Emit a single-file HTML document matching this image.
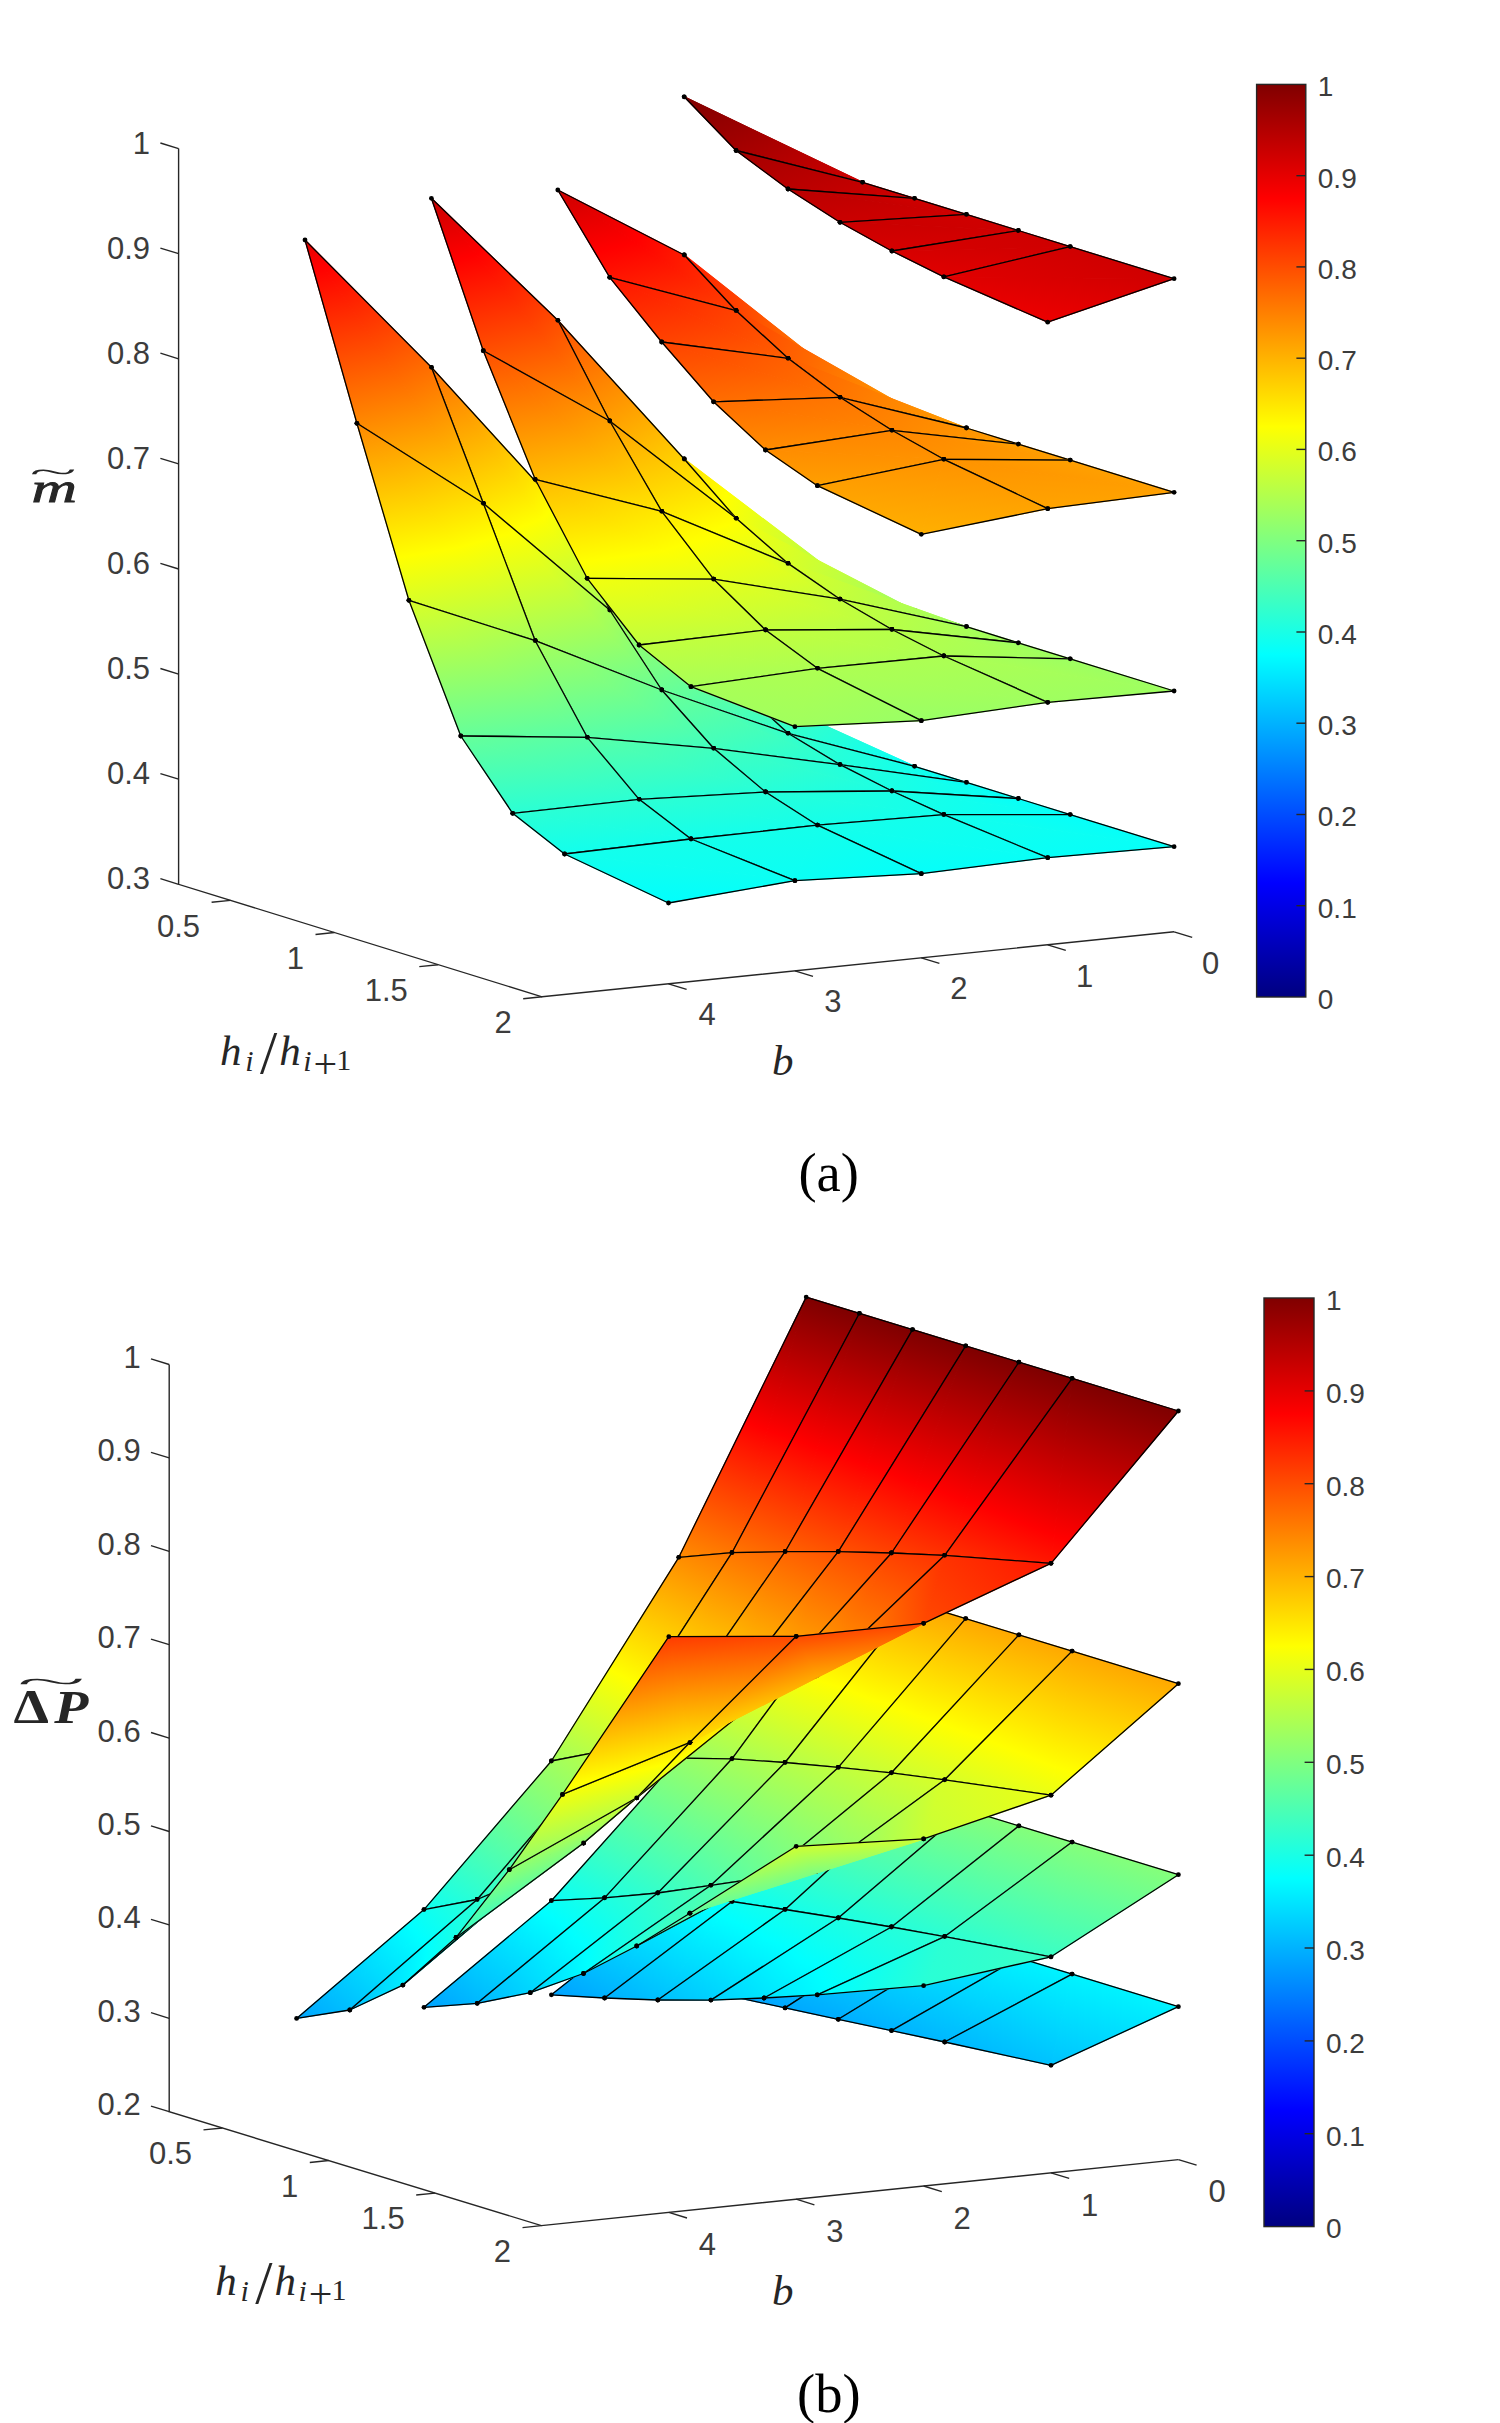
<!DOCTYPE html>
<html><head><meta charset="utf-8"><title>Figure</title>
<style>
html,body{margin:0;padding:0;background:#fff}
svg{display:block}
.tk{font-family:"Liberation Sans",sans-serif;font-size:31px;fill:#3c3c3c}
.cb{font-family:"Liberation Sans",sans-serif;font-size:28px;fill:#3c3c3c}
</style></head><body>
<svg width="1500" height="2423" viewBox="0 0 1500 2423">
<defs>
<linearGradient id="g1" gradientUnits="userSpaceOnUse" x1="807.36" y1="744.63" x2="831.47" y2="666.75"><stop offset="0.0000" stop-color="#00f1ff"/><stop offset="0.0940" stop-color="#00ffff"/><stop offset="1.0000" stop-color="#8aff75"/></linearGradient>
<linearGradient id="g2" gradientUnits="userSpaceOnUse" x1="904.71" y1="745.05" x2="637.49" y2="650.61"><stop offset="0.0000" stop-color="#00f1ff"/><stop offset="0.0940" stop-color="#00ffff"/><stop offset="1.0000" stop-color="#8aff75"/></linearGradient>
<linearGradient id="g3" gradientUnits="userSpaceOnUse" x1="860.57" y1="756.58" x2="871.73" y2="720.52"><stop offset="0.0000" stop-color="#00f1ff"/><stop offset="0.1229" stop-color="#00ffff"/><stop offset="1.0000" stop-color="#66ff99"/></linearGradient>
<linearGradient id="g4" gradientUnits="userSpaceOnUse" x1="872.44" y1="852.20" x2="721.62" y2="639.71"><stop offset="0.0000" stop-color="#00f1ff"/><stop offset="0.1229" stop-color="#00ffff"/><stop offset="1.0000" stop-color="#66ff99"/></linearGradient>
<linearGradient id="g5" gradientUnits="userSpaceOnUse" x1="915.24" y1="763.78" x2="911.94" y2="774.44"><stop offset="0.0000" stop-color="#00f1ff"/><stop offset="0.1671" stop-color="#00ffff"/><stop offset="1.0000" stop-color="#47ffb8"/></linearGradient>
<linearGradient id="g6" gradientUnits="userSpaceOnUse" x1="1022.85" y1="855.25" x2="711.46" y2="701.07"><stop offset="0.0000" stop-color="#00f1ff"/><stop offset="0.1671" stop-color="#00ffff"/><stop offset="1.0000" stop-color="#47ffb8"/></linearGradient>
<linearGradient id="g7" gradientUnits="userSpaceOnUse" x1="970.52" y1="769.01" x2="956.18" y2="815.35"><stop offset="0.0000" stop-color="#00f1ff"/><stop offset="0.2024" stop-color="#00ffff"/><stop offset="1.0000" stop-color="#38ffc7"/></linearGradient>
<linearGradient id="g8" gradientUnits="userSpaceOnUse" x1="1103.49" y1="895.99" x2="732.58" y2="711.94"><stop offset="0.0000" stop-color="#00f1ff"/><stop offset="0.2024" stop-color="#00ffff"/><stop offset="1.0000" stop-color="#38ffc7"/></linearGradient>
<linearGradient id="g9" gradientUnits="userSpaceOnUse" x1="1027.48" y1="768.82" x2="1000.18" y2="857.02"><stop offset="0.0000" stop-color="#00f1ff"/><stop offset="0.2355" stop-color="#00ffff"/><stop offset="1.0000" stop-color="#2effd1"/></linearGradient>
<linearGradient id="g10" gradientUnits="userSpaceOnUse" x1="1115.26" y1="981.01" x2="798.84" y2="674.04"><stop offset="0.0000" stop-color="#00f1ff"/><stop offset="0.2355" stop-color="#00ffff"/><stop offset="1.0000" stop-color="#2effd1"/></linearGradient>
<linearGradient id="g11" gradientUnits="userSpaceOnUse" x1="1088.38" y1="755.91" x2="1040.98" y2="909.03"><stop offset="0.0000" stop-color="#00f1ff"/><stop offset="0.2682" stop-color="#00ffff"/><stop offset="1.0000" stop-color="#27ffd8"/></linearGradient>
<linearGradient id="g12" gradientUnits="userSpaceOnUse" x1="1069.94" y1="983.88" x2="1016.85" y2="683.01"><stop offset="0.0000" stop-color="#00f1ff"/><stop offset="0.2682" stop-color="#00ffff"/><stop offset="1.0000" stop-color="#27ffd8"/></linearGradient>
<linearGradient id="g13" gradientUnits="userSpaceOnUse" x1="685.29" y1="631.57" x2="681.17" y2="635.51"><stop offset="0.0000" stop-color="#3dffc2"/><stop offset="0.9135" stop-color="#ffff00"/><stop offset="1.0000" stop-color="#ffed00"/></linearGradient>
<linearGradient id="g14" gradientUnits="userSpaceOnUse" x1="662.37" y1="744.13" x2="557.26" y2="476.32"><stop offset="0.0000" stop-color="#3dffc2"/><stop offset="0.9135" stop-color="#ffff00"/><stop offset="1.0000" stop-color="#ffed00"/></linearGradient>
<linearGradient id="g15" gradientUnits="userSpaceOnUse" x1="791.74" y1="667.89" x2="620.74" y2="721.94"><stop offset="0.0000" stop-color="#1effe1"/><stop offset="1.0000" stop-color="#bcff43"/></linearGradient>
<linearGradient id="g16" gradientUnits="userSpaceOnUse" x1="697.30" y1="795.90" x2="622.48" y2="573.65"><stop offset="0.0000" stop-color="#1effe1"/><stop offset="1.0000" stop-color="#bcff43"/></linearGradient>
<linearGradient id="g17" gradientUnits="userSpaceOnUse" x1="819.55" y1="705.16" x2="721.04" y2="793.16"><stop offset="0.0000" stop-color="#10ffef"/><stop offset="1.0000" stop-color="#7eff81"/></linearGradient>
<linearGradient id="g18" gradientUnits="userSpaceOnUse" x1="735.14" y1="828.75" x2="686.52" y2="647.38"><stop offset="0.0000" stop-color="#10ffef"/><stop offset="1.0000" stop-color="#7eff81"/></linearGradient>
<linearGradient id="g19" gradientUnits="userSpaceOnUse" x1="950.97" y1="721.78" x2="660.86" y2="833.96"><stop offset="0.0000" stop-color="#06fff9"/><stop offset="1.0000" stop-color="#55ffaa"/></linearGradient>
<linearGradient id="g20" gradientUnits="userSpaceOnUse" x1="777.41" y1="853.89" x2="747.96" y2="700.83"><stop offset="0.0000" stop-color="#06fff9"/><stop offset="1.0000" stop-color="#55ffaa"/></linearGradient>
<linearGradient id="g21" gradientUnits="userSpaceOnUse" x1="1018.51" y1="938.71" x2="745.95" y2="620.73"><stop offset="0.0000" stop-color="#00fdff"/><stop offset="0.0303" stop-color="#00ffff"/><stop offset="1.0000" stop-color="#3affc5"/></linearGradient>
<linearGradient id="g22" gradientUnits="userSpaceOnUse" x1="824.39" y1="879.11" x2="806.13" y2="737.77"><stop offset="0.0000" stop-color="#00fdff"/><stop offset="0.0303" stop-color="#00ffff"/><stop offset="1.0000" stop-color="#3affc5"/></linearGradient>
<linearGradient id="g23" gradientUnits="userSpaceOnUse" x1="979.66" y1="994.62" x2="917.38" y2="681.92"><stop offset="0.0000" stop-color="#00f3ff"/><stop offset="0.2296" stop-color="#00ffff"/><stop offset="1.0000" stop-color="#29ffd6"/></linearGradient>
<linearGradient id="g24" gradientUnits="userSpaceOnUse" x1="924.63" y1="942.41" x2="915.31" y2="751.55"><stop offset="0.0000" stop-color="#00f0ff"/><stop offset="0.2692" stop-color="#00ffff"/><stop offset="1.0000" stop-color="#29ffd6"/></linearGradient>
<linearGradient id="g25" gradientUnits="userSpaceOnUse" x1="657.14" y1="596.47" x2="400.72" y2="362.50"><stop offset="0.0000" stop-color="#93ff6c"/><stop offset="0.3949" stop-color="#ffff00"/><stop offset="1.0000" stop-color="#ff5a00"/></linearGradient>
<linearGradient id="g26" gradientUnits="userSpaceOnUse" x1="545.32" y1="662.47" x2="421.23" y2="343.88"><stop offset="0.0000" stop-color="#93ff6c"/><stop offset="0.3949" stop-color="#ffff00"/><stop offset="1.0000" stop-color="#ff5a00"/></linearGradient>
<linearGradient id="g27" gradientUnits="userSpaceOnUse" x1="706.39" y1="675.42" x2="449.59" y2="501.62"><stop offset="0.0000" stop-color="#55ffaa"/><stop offset="0.7761" stop-color="#ffff00"/><stop offset="1.0000" stop-color="#ffce00"/></linearGradient>
<linearGradient id="g28" gradientUnits="userSpaceOnUse" x1="556.03" y1="738.23" x2="499.74" y2="474.08"><stop offset="0.0000" stop-color="#55ffaa"/><stop offset="0.7761" stop-color="#ffff00"/><stop offset="1.0000" stop-color="#ffce00"/></linearGradient>
<linearGradient id="g29" gradientUnits="userSpaceOnUse" x1="730.76" y1="783.71" x2="570.60" y2="566.54"><stop offset="0.0000" stop-color="#2cffd3"/><stop offset="1.0000" stop-color="#baff45"/></linearGradient>
<linearGradient id="g30" gradientUnits="userSpaceOnUse" x1="596.35" y1="794.49" x2="566.48" y2="608.30"><stop offset="0.0000" stop-color="#2cffd3"/><stop offset="1.0000" stop-color="#baff45"/></linearGradient>
<linearGradient id="g31" gradientUnits="userSpaceOnUse" x1="745.64" y1="844.95" x2="683.90" y2="658.85"><stop offset="0.0000" stop-color="#11ffee"/><stop offset="1.0000" stop-color="#6cff93"/></linearGradient>
<linearGradient id="g32" gradientUnits="userSpaceOnUse" x1="644.00" y1="838.54" x2="626.81" y2="701.00"><stop offset="0.0000" stop-color="#11ffee"/><stop offset="1.0000" stop-color="#6cff93"/></linearGradient>
<linearGradient id="g33" gradientUnits="userSpaceOnUse" x1="780.78" y1="882.83" x2="754.80" y2="728.37"><stop offset="0.0000" stop-color="#01fffe"/><stop offset="1.0000" stop-color="#40ffbf"/></linearGradient>
<linearGradient id="g34" gradientUnits="userSpaceOnUse" x1="694.86" y1="878.44" x2="682.88" y2="755.23"><stop offset="0.0000" stop-color="#00ffff"/><stop offset="0.0026" stop-color="#00ffff"/><stop offset="1.0000" stop-color="#40ffbf"/></linearGradient>
<linearGradient id="g35" gradientUnits="userSpaceOnUse" x1="703.07" y1="996.93" x2="682.43" y2="726.28"><stop offset="0.0000" stop-color="#00f6ff"/><stop offset="0.1855" stop-color="#00ffff"/><stop offset="1.0000" stop-color="#29ffd6"/></linearGradient>
<linearGradient id="g36" gradientUnits="userSpaceOnUse" x1="947.27" y1="966.25" x2="875.06" y2="709.16"><stop offset="0.0000" stop-color="#00f0ff"/><stop offset="0.2692" stop-color="#00ffff"/><stop offset="1.0000" stop-color="#29ffd6"/></linearGradient>
<linearGradient id="g37" gradientUnits="userSpaceOnUse" x1="505.72" y1="520.70" x2="346.34" y2="191.73"><stop offset="0.0000" stop-color="#fff700"/><stop offset="0.8412" stop-color="#ff0000"/><stop offset="1.0000" stop-color="#d00000"/></linearGradient>
<linearGradient id="g38" gradientUnits="userSpaceOnUse" x1="385.39" y1="549.84" x2="309.92" y2="214.38"><stop offset="0.0000" stop-color="#fff700"/><stop offset="0.8412" stop-color="#ff0000"/><stop offset="1.0000" stop-color="#d00000"/></linearGradient>
<linearGradient id="g39" gradientUnits="userSpaceOnUse" x1="531.55" y1="668.22" x2="444.70" y2="371.20"><stop offset="0.0000" stop-color="#91ff6e"/><stop offset="0.4402" stop-color="#ffff00"/><stop offset="1.0000" stop-color="#ff7400"/></linearGradient>
<linearGradient id="g40" gradientUnits="userSpaceOnUse" x1="422.88" y1="683.83" x2="374.55" y2="396.08"><stop offset="0.0000" stop-color="#91ff6e"/><stop offset="0.4402" stop-color="#ffff00"/><stop offset="1.0000" stop-color="#ff7400"/></linearGradient>
<linearGradient id="g41" gradientUnits="userSpaceOnUse" x1="568.71" y1="770.75" x2="510.73" y2="545.39"><stop offset="0.0000" stop-color="#43ffbc"/><stop offset="1.0000" stop-color="#eeff11"/></linearGradient>
<linearGradient id="g42" gradientUnits="userSpaceOnUse" x1="465.91" y1="777.33" x2="440.34" y2="571.41"><stop offset="0.0000" stop-color="#43ffbc"/><stop offset="1.0000" stop-color="#eeff11"/></linearGradient>
<linearGradient id="g43" gradientUnits="userSpaceOnUse" x1="603.52" y1="837.37" x2="578.55" y2="684.50"><stop offset="0.0000" stop-color="#17ffe8"/><stop offset="1.0000" stop-color="#7aff85"/></linearGradient>
<linearGradient id="g44" gradientUnits="userSpaceOnUse" x1="515.51" y1="841.34" x2="501.72" y2="703.58"><stop offset="0.0000" stop-color="#16ffe9"/><stop offset="1.0000" stop-color="#7aff85"/></linearGradient>
<linearGradient id="g45" gradientUnits="userSpaceOnUse" x1="647.11" y1="882.96" x2="635.33" y2="759.91"><stop offset="0.0000" stop-color="#00ffff"/><stop offset="0.0026" stop-color="#00ffff"/><stop offset="1.0000" stop-color="#40ffbf"/></linearGradient>
<linearGradient id="g46" gradientUnits="userSpaceOnUse" x1="568.06" y1="892.40" x2="557.16" y2="770.61"><stop offset="0.0000" stop-color="#00fdff"/><stop offset="0.0326" stop-color="#00ffff"/><stop offset="1.0000" stop-color="#3fffc0"/></linearGradient>
<linearGradient id="g47" gradientUnits="userSpaceOnUse" x1="697.26" y1="986.28" x2="686.74" y2="737.73"><stop offset="0.0000" stop-color="#00f6ff"/><stop offset="0.1884" stop-color="#00ffff"/><stop offset="1.0000" stop-color="#29ffd6"/></linearGradient>
<linearGradient id="g48" gradientUnits="userSpaceOnUse" x1="666.98" y1="960.74" x2="671.16" y2="798.97"><stop offset="0.0000" stop-color="#00edff"/><stop offset="0.3230" stop-color="#00ffff"/><stop offset="1.0000" stop-color="#27ffd8"/></linearGradient>
<linearGradient id="g49" gradientUnits="userSpaceOnUse" x1="807.00" y1="590.11" x2="836.90" y2="493.52"><stop offset="0.0000" stop-color="#89ff76"/><stop offset="0.6978" stop-color="#ffff00"/><stop offset="1.0000" stop-color="#ffcc00"/></linearGradient>
<linearGradient id="g50" gradientUnits="userSpaceOnUse" x1="902.69" y1="587.49" x2="639.08" y2="477.99"><stop offset="0.0000" stop-color="#89ff76"/><stop offset="0.6978" stop-color="#ffff00"/><stop offset="1.0000" stop-color="#ffcc00"/></linearGradient>
<linearGradient id="g51" gradientUnits="userSpaceOnUse" x1="860.06" y1="602.53" x2="875.48" y2="552.70"><stop offset="0.0000" stop-color="#89ff76"/><stop offset="0.9275" stop-color="#ffff00"/><stop offset="1.0000" stop-color="#fff600"/></linearGradient>
<linearGradient id="g52" gradientUnits="userSpaceOnUse" x1="956.86" y1="631.35" x2="684.07" y2="521.54"><stop offset="0.0000" stop-color="#89ff76"/><stop offset="0.9275" stop-color="#ffff00"/><stop offset="1.0000" stop-color="#fff600"/></linearGradient>
<linearGradient id="g53" gradientUnits="userSpaceOnUse" x1="913.65" y1="613.20" x2="917.53" y2="600.66"><stop offset="0.0000" stop-color="#89ff76"/><stop offset="1.0000" stop-color="#ecff13"/></linearGradient>
<linearGradient id="g54" gradientUnits="userSpaceOnUse" x1="1017.17" y1="675.41" x2="722.62" y2="548.73"><stop offset="0.0000" stop-color="#89ff76"/><stop offset="1.0000" stop-color="#ecff13"/></linearGradient>
<linearGradient id="g55" gradientUnits="userSpaceOnUse" x1="968.08" y1="621.19" x2="961.38" y2="642.82"><stop offset="0.0000" stop-color="#89ff76"/><stop offset="1.0000" stop-color="#d9ff26"/></linearGradient>
<linearGradient id="g56" gradientUnits="userSpaceOnUse" x1="1053.87" y1="745.18" x2="771.20" y2="543.30"><stop offset="0.0000" stop-color="#89ff76"/><stop offset="1.0000" stop-color="#d9ff26"/></linearGradient>
<linearGradient id="g57" gradientUnits="userSpaceOnUse" x1="1024.14" y1="623.90" x2="1005.15" y2="685.25"><stop offset="0.0000" stop-color="#89ff76"/><stop offset="1.0000" stop-color="#cbff34"/></linearGradient>
<linearGradient id="g58" gradientUnits="userSpaceOnUse" x1="1059.86" y1="803.07" x2="844.87" y2="530.57"><stop offset="0.0000" stop-color="#89ff76"/><stop offset="1.0000" stop-color="#cbff34"/></linearGradient>
<linearGradient id="g59" gradientUnits="userSpaceOnUse" x1="1083.82" y1="614.94" x2="1046.38" y2="735.87"><stop offset="0.0000" stop-color="#89ff76"/><stop offset="1.0000" stop-color="#c1ff3e"/></linearGradient>
<linearGradient id="g60" gradientUnits="userSpaceOnUse" x1="1062.02" y1="799.20" x2="1025.47" y2="552.30"><stop offset="0.0000" stop-color="#89ff76"/><stop offset="1.0000" stop-color="#c1ff3e"/></linearGradient>
<linearGradient id="g61" gradientUnits="userSpaceOnUse" x1="688.02" y1="455.93" x2="673.94" y2="467.25"><stop offset="0.0000" stop-color="#dfff20"/><stop offset="0.1372" stop-color="#ffff00"/><stop offset="1.0000" stop-color="#ff3900"/></linearGradient>
<linearGradient id="g62" gradientUnits="userSpaceOnUse" x1="697.63" y1="573.03" x2="539.01" y2="298.69"><stop offset="0.0000" stop-color="#dfff20"/><stop offset="0.1372" stop-color="#ffff00"/><stop offset="1.0000" stop-color="#ff3900"/></linearGradient>
<linearGradient id="g63" gradientUnits="userSpaceOnUse" x1="744.00" y1="510.76" x2="715.47" y2="538.08"><stop offset="0.0000" stop-color="#c3ff3c"/><stop offset="0.3393" stop-color="#ffff00"/><stop offset="1.0000" stop-color="#ff8b00"/></linearGradient>
<linearGradient id="g64" gradientUnits="userSpaceOnUse" x1="699.30" y1="623.64" x2="620.01" y2="387.05"><stop offset="0.0000" stop-color="#c3ff3c"/><stop offset="0.3393" stop-color="#ffff00"/><stop offset="1.0000" stop-color="#ff8b00"/></linearGradient>
<linearGradient id="g65" gradientUnits="userSpaceOnUse" x1="826.94" y1="536.93" x2="705.86" y2="619.36"><stop offset="0.0000" stop-color="#b0ff4f"/><stop offset="0.6406" stop-color="#ffff00"/><stop offset="1.0000" stop-color="#ffd300"/></linearGradient>
<linearGradient id="g66" gradientUnits="userSpaceOnUse" x1="733.32" y1="658.53" x2="686.94" y2="472.22"><stop offset="0.0000" stop-color="#b0ff4f"/><stop offset="0.6406" stop-color="#ffff00"/><stop offset="1.0000" stop-color="#ffd300"/></linearGradient>
<linearGradient id="g67" gradientUnits="userSpaceOnUse" x1="975.60" y1="615.22" x2="632.10" y2="574.64"><stop offset="0.0000" stop-color="#a2ff5d"/><stop offset="1.0000" stop-color="#f9ff06"/></linearGradient>
<linearGradient id="g68" gradientUnits="userSpaceOnUse" x1="775.28" y1="686.07" x2="749.23" y2="536.75"><stop offset="0.0000" stop-color="#a2ff5d"/><stop offset="1.0000" stop-color="#f9ff06"/></linearGradient>
<linearGradient id="g69" gradientUnits="userSpaceOnUse" x1="955.64" y1="756.17" x2="823.95" y2="494.47"><stop offset="0.0000" stop-color="#98ff67"/><stop offset="1.0000" stop-color="#d7ff28"/></linearGradient>
<linearGradient id="g70" gradientUnits="userSpaceOnUse" x1="822.02" y1="710.73" x2="808.28" y2="583.83"><stop offset="0.0000" stop-color="#98ff67"/><stop offset="1.0000" stop-color="#d7ff28"/></linearGradient>
<linearGradient id="g71" gradientUnits="userSpaceOnUse" x1="961.16" y1="800.05" x2="933.12" y2="567.04"><stop offset="0.0000" stop-color="#8aff75"/><stop offset="1.0000" stop-color="#c2ff3d"/></linearGradient>
<linearGradient id="g72" gradientUnits="userSpaceOnUse" x1="922.93" y1="778.14" x2="918.04" y2="607.92"><stop offset="0.0000" stop-color="#85ff7a"/><stop offset="1.0000" stop-color="#c2ff3d"/></linearGradient>
<linearGradient id="g73" gradientUnits="userSpaceOnUse" x1="648.75" y1="422.84" x2="423.48" y2="168.87"><stop offset="0.0000" stop-color="#ffb400"/><stop offset="0.7069" stop-color="#ff0000"/><stop offset="1.0000" stop-color="#b50000"/></linearGradient>
<linearGradient id="g74" gradientUnits="userSpaceOnUse" x1="512.08" y1="469.97" x2="439.96" y2="170.81"><stop offset="0.0000" stop-color="#ffb400"/><stop offset="0.7069" stop-color="#ff0000"/><stop offset="1.0000" stop-color="#b50000"/></linearGradient>
<linearGradient id="g75" gradientUnits="userSpaceOnUse" x1="664.90" y1="542.09" x2="549.29" y2="288.37"><stop offset="0.0000" stop-color="#fffc00"/><stop offset="1.0000" stop-color="#ff3a00"/></linearGradient>
<linearGradient id="g76" gradientUnits="userSpaceOnUse" x1="549.67" y1="557.70" x2="506.08" y2="320.71"><stop offset="0.0000" stop-color="#fffc00"/><stop offset="1.0000" stop-color="#ff3a00"/></linearGradient>
<linearGradient id="g77" gradientUnits="userSpaceOnUse" x1="697.39" y1="619.09" x2="629.26" y2="413.61"><stop offset="0.0000" stop-color="#d0ff2f"/><stop offset="0.3476" stop-color="#ffff00"/><stop offset="1.0000" stop-color="#ffa700"/></linearGradient>
<linearGradient id="g78" gradientUnits="userSpaceOnUse" x1="593.02" y1="622.13" x2="569.78" y2="447.85"><stop offset="0.0000" stop-color="#d0ff2f"/><stop offset="0.3476" stop-color="#ffff00"/><stop offset="1.0000" stop-color="#ffa700"/></linearGradient>
<linearGradient id="g79" gradientUnits="userSpaceOnUse" x1="730.82" y1="672.92" x2="702.77" y2="520.49"><stop offset="0.0000" stop-color="#aeff51"/><stop offset="0.9154" stop-color="#ffff00"/><stop offset="1.0000" stop-color="#fff800"/></linearGradient>
<linearGradient id="g80" gradientUnits="userSpaceOnUse" x1="641.94" y1="674.50" x2="629.42" y2="544.46"><stop offset="0.0000" stop-color="#adff52"/><stop offset="0.9172" stop-color="#ffff00"/><stop offset="1.0000" stop-color="#fff800"/></linearGradient>
<linearGradient id="g81" gradientUnits="userSpaceOnUse" x1="772.80" y1="712.79" x2="761.95" y2="589.76"><stop offset="0.0000" stop-color="#99ff66"/><stop offset="1.0000" stop-color="#d7ff28"/></linearGradient>
<linearGradient id="g82" gradientUnits="userSpaceOnUse" x1="693.62" y1="723.71" x2="685.28" y2="604.58"><stop offset="0.0000" stop-color="#94ff6b"/><stop offset="1.0000" stop-color="#d5ff2a"/></linearGradient>
<linearGradient id="g83" gradientUnits="userSpaceOnUse" x1="685.07" y1="815.94" x2="696.47" y2="568.43"><stop offset="0.0000" stop-color="#8cff73"/><stop offset="1.0000" stop-color="#c2ff3d"/></linearGradient>
<linearGradient id="g84" gradientUnits="userSpaceOnUse" x1="941.95" y1="798.31" x2="880.68" y2="568.33"><stop offset="0.0000" stop-color="#85ff7a"/><stop offset="1.0000" stop-color="#c2ff3d"/></linearGradient>
<linearGradient id="g85" gradientUnits="userSpaceOnUse" x1="806.91" y1="391.70" x2="838.49" y2="289.70"><stop offset="0.0000" stop-color="#ffb400"/><stop offset="1.0000" stop-color="#ff0600"/></linearGradient>
<linearGradient id="g86" gradientUnits="userSpaceOnUse" x1="884.99" y1="304.45" x2="660.37" y2="313.88"><stop offset="0.0000" stop-color="#ffb400"/><stop offset="1.0000" stop-color="#ff0600"/></linearGradient>
<linearGradient id="g87" gradientUnits="userSpaceOnUse" x1="859.74" y1="404.84" x2="878.31" y2="344.86"><stop offset="0.0000" stop-color="#ffb400"/><stop offset="1.0000" stop-color="#ff2c00"/></linearGradient>
<linearGradient id="g88" gradientUnits="userSpaceOnUse" x1="957.97" y1="418.57" x2="686.18" y2="322.17"><stop offset="0.0000" stop-color="#ffb400"/><stop offset="1.0000" stop-color="#ff2c00"/></linearGradient>
<linearGradient id="g89" gradientUnits="userSpaceOnUse" x1="913.16" y1="416.10" x2="919.84" y2="394.53"><stop offset="0.0000" stop-color="#ffb400"/><stop offset="1.0000" stop-color="#ff4b00"/></linearGradient>
<linearGradient id="g90" gradientUnits="userSpaceOnUse" x1="994.67" y1="494.49" x2="734.93" y2="331.30"><stop offset="0.0000" stop-color="#ffb400"/><stop offset="1.0000" stop-color="#ff4b00"/></linearGradient>
<linearGradient id="g91" gradientUnits="userSpaceOnUse" x1="967.52" y1="424.30" x2="962.85" y2="439.39"><stop offset="0.0000" stop-color="#ffb400"/><stop offset="1.0000" stop-color="#ff6100"/></linearGradient>
<linearGradient id="g92" gradientUnits="userSpaceOnUse" x1="1001.07" y1="556.02" x2="805.23" y2="330.49"><stop offset="0.0000" stop-color="#ffb400"/><stop offset="1.0000" stop-color="#ff6100"/></linearGradient>
<linearGradient id="g93" gradientUnits="userSpaceOnUse" x1="1023.92" y1="425.91" x2="1005.51" y2="485.38"><stop offset="0.0000" stop-color="#ffb400"/><stop offset="1.0000" stop-color="#ff7200"/></linearGradient>
<linearGradient id="g94" gradientUnits="userSpaceOnUse" x1="993.71" y1="576.07" x2="895.27" y2="345.63"><stop offset="0.0000" stop-color="#ffb400"/><stop offset="1.0000" stop-color="#ff7200"/></linearGradient>
<linearGradient id="g95" gradientUnits="userSpaceOnUse" x1="1086.64" y1="407.13" x2="1043.00" y2="548.10"><stop offset="0.0000" stop-color="#ffb400"/><stop offset="1.0000" stop-color="#ff7e00"/></linearGradient>
<linearGradient id="g96" gradientUnits="userSpaceOnUse" x1="1050.66" y1="574.50" x2="1042.24" y2="388.90"><stop offset="0.0000" stop-color="#ffb800"/><stop offset="1.0000" stop-color="#ff7e00"/></linearGradient>
<linearGradient id="g97" gradientUnits="userSpaceOnUse" x1="781.34" y1="307.63" x2="525.59" y2="169.06"><stop offset="0.0000" stop-color="#ff5500"/><stop offset="0.5491" stop-color="#ff0000"/><stop offset="1.0000" stop-color="#b90000"/></linearGradient>
<linearGradient id="g98" gradientUnits="userSpaceOnUse" x1="632.38" y1="366.65" x2="578.73" y2="155.04"><stop offset="0.0000" stop-color="#ff5500"/><stop offset="0.5491" stop-color="#ff0000"/><stop offset="1.0000" stop-color="#b90000"/></linearGradient>
<linearGradient id="g99" gradientUnits="userSpaceOnUse" x1="804.24" y1="403.56" x2="648.72" y2="191.56"><stop offset="0.0000" stop-color="#ff7400"/><stop offset="0.9936" stop-color="#ff0000"/><stop offset="1.0000" stop-color="#fe0000"/></linearGradient>
<linearGradient id="g100" gradientUnits="userSpaceOnUse" x1="679.65" y1="417.48" x2="636.73" y2="237.53"><stop offset="0.0000" stop-color="#ff7400"/><stop offset="0.9936" stop-color="#ff0000"/><stop offset="1.0000" stop-color="#fe0000"/></linearGradient>
<linearGradient id="g101" gradientUnits="userSpaceOnUse" x1="843.57" y1="457.66" x2="724.48" y2="244.53"><stop offset="0.0000" stop-color="#ff8a00"/><stop offset="1.0000" stop-color="#ff2e00"/></linearGradient>
<linearGradient id="g102" gradientUnits="userSpaceOnUse" x1="719.73" y1="446.18" x2="700.08" y2="304.46"><stop offset="0.0000" stop-color="#ff8a00"/><stop offset="1.0000" stop-color="#ff2e00"/></linearGradient>
<linearGradient id="g103" gradientUnits="userSpaceOnUse" x1="859.78" y1="491.58" x2="824.57" y2="323.96"><stop offset="0.0000" stop-color="#ff9a00"/><stop offset="1.0000" stop-color="#ff5900"/></linearGradient>
<linearGradient id="g104" gradientUnits="userSpaceOnUse" x1="767.87" y1="483.76" x2="759.50" y2="364.64"><stop offset="0.0000" stop-color="#ffa100"/><stop offset="1.0000" stop-color="#ff5900"/></linearGradient>
<linearGradient id="g105" gradientUnits="userSpaceOnUse" x1="894.34" y1="510.54" x2="890.39" y2="380.61"><stop offset="0.0000" stop-color="#ffa700"/><stop offset="1.0000" stop-color="#ff7200"/></linearGradient>
<linearGradient id="g106" gradientUnits="userSpaceOnUse" x1="817.91" y1="524.63" x2="816.48" y2="410.43"><stop offset="0.0000" stop-color="#ffb400"/><stop offset="1.0000" stop-color="#ff7800"/></linearGradient>
<linearGradient id="g107" gradientUnits="userSpaceOnUse" x1="811.45" y1="581.24" x2="822.91" y2="397.94"><stop offset="0.0000" stop-color="#ffc400"/><stop offset="1.0000" stop-color="#ff7e00"/></linearGradient>
<linearGradient id="g108" gradientUnits="userSpaceOnUse" x1="1043.24" y1="594.26" x2="1052.72" y2="411.31"><stop offset="0.0000" stop-color="#ffc400"/><stop offset="1.0000" stop-color="#ff7e00"/></linearGradient>
<linearGradient id="g109" gradientUnits="userSpaceOnUse" x1="808.42" y1="173.22" x2="819.16" y2="138.51"><stop offset="0.0000" stop-color="#e40000"/><stop offset="1.0000" stop-color="#800000"/></linearGradient>
<linearGradient id="g110" gradientUnits="userSpaceOnUse" x1="791.50" y1="261.95" x2="704.28" y2="86.40"><stop offset="0.0000" stop-color="#e40000"/><stop offset="1.0000" stop-color="#800000"/></linearGradient>
<linearGradient id="g111" gradientUnits="userSpaceOnUse" x1="863.50" y1="179.09" x2="859.46" y2="192.15"><stop offset="0.0000" stop-color="#e40000"/><stop offset="1.0000" stop-color="#900000"/></linearGradient>
<linearGradient id="g112" gradientUnits="userSpaceOnUse" x1="826.30" y1="287.53" x2="749.71" y2="90.24"><stop offset="0.0000" stop-color="#e40000"/><stop offset="1.0000" stop-color="#900000"/></linearGradient>
<linearGradient id="g113" gradientUnits="userSpaceOnUse" x1="922.38" y1="172.72" x2="898.10" y2="251.13"><stop offset="0.0000" stop-color="#e40000"/><stop offset="1.0000" stop-color="#a60000"/></linearGradient>
<linearGradient id="g114" gradientUnits="userSpaceOnUse" x1="849.82" y1="283.82" x2="825.57" y2="132.23"><stop offset="0.0000" stop-color="#e40000"/><stop offset="1.0000" stop-color="#a60000"/></linearGradient>
<linearGradient id="g115" gradientUnits="userSpaceOnUse" x1="1021.14" y1="37.51" x2="898.33" y2="434.21"><stop offset="0.0000" stop-color="#e40000"/><stop offset="1.0000" stop-color="#b60000"/></linearGradient>
<linearGradient id="g116" gradientUnits="userSpaceOnUse" x1="892.98" y1="300.64" x2="890.17" y2="171.55"><stop offset="0.0000" stop-color="#eb0000"/><stop offset="1.0000" stop-color="#b60000"/></linearGradient>
<linearGradient id="g117" gradientUnits="userSpaceOnUse" x1="954.37" y1="436.98" x2="1065.38" y2="78.41"><stop offset="0.0000" stop-color="#eb0000"/><stop offset="1.0000" stop-color="#bb0000"/></linearGradient>
<linearGradient id="g118" gradientUnits="userSpaceOnUse" x1="940.45" y1="324.36" x2="949.97" y2="190.22"><stop offset="0.0000" stop-color="#f50000"/><stop offset="1.0000" stop-color="#bb0000"/></linearGradient>
<linearGradient id="g119" gradientUnits="userSpaceOnUse" x1="1026.74" y1="387.01" x2="1094.11" y2="169.40"><stop offset="0.0000" stop-color="#f50000"/><stop offset="1.0000" stop-color="#bb0000"/></linearGradient>
<linearGradient id="g120" gradientUnits="userSpaceOnUse" x1="1040.44" y1="365.51" x2="1065.40" y2="216.04"><stop offset="0.0000" stop-color="#ff0300"/><stop offset="0.0375" stop-color="#ff0000"/><stop offset="1.0000" stop-color="#bb0000"/></linearGradient>
<linearGradient id="g121" gradientUnits="userSpaceOnUse" x1="667.80" y1="2014.14" x2="736.39" y2="1833.13"><stop offset="0.0000" stop-color="#0089ff"/><stop offset="0.9300" stop-color="#00ffff"/><stop offset="1.0000" stop-color="#09fff6"/></linearGradient>
<linearGradient id="g122" gradientUnits="userSpaceOnUse" x1="815.11" y1="2053.67" x2="868.28" y2="1879.95"><stop offset="0.0000" stop-color="#008eff"/><stop offset="0.9269" stop-color="#00ffff"/><stop offset="1.0000" stop-color="#09fff6"/></linearGradient>
<linearGradient id="g123" gradientUnits="userSpaceOnUse" x1="720.59" y1="2026.29" x2="788.54" y2="1847.85"><stop offset="0.0000" stop-color="#008eff"/><stop offset="0.9269" stop-color="#00ffff"/><stop offset="1.0000" stop-color="#09fff6"/></linearGradient>
<linearGradient id="g124" gradientUnits="userSpaceOnUse" x1="869.37" y1="2066.41" x2="921.71" y2="1895.40"><stop offset="0.0000" stop-color="#0093ff"/><stop offset="0.9236" stop-color="#00ffff"/><stop offset="1.0000" stop-color="#09fff6"/></linearGradient>
<linearGradient id="g125" gradientUnits="userSpaceOnUse" x1="773.13" y1="2038.80" x2="841.82" y2="1862.23"><stop offset="0.0000" stop-color="#0093ff"/><stop offset="0.9236" stop-color="#00ffff"/><stop offset="1.0000" stop-color="#09fff6"/></linearGradient>
<linearGradient id="g126" gradientUnits="userSpaceOnUse" x1="923.61" y1="2079.20" x2="975.18" y2="1910.70"><stop offset="0.0000" stop-color="#0099ff"/><stop offset="0.9199" stop-color="#00ffff"/><stop offset="1.0000" stop-color="#09fff6"/></linearGradient>
<linearGradient id="g127" gradientUnits="userSpaceOnUse" x1="825.51" y1="2051.41" x2="895.37" y2="1876.31"><stop offset="0.0000" stop-color="#0099ff"/><stop offset="0.9199" stop-color="#00ffff"/><stop offset="1.0000" stop-color="#09fff6"/></linearGradient>
<linearGradient id="g128" gradientUnits="userSpaceOnUse" x1="977.82" y1="2092.08" x2="1028.71" y2="1925.82"><stop offset="0.0000" stop-color="#009eff"/><stop offset="0.9158" stop-color="#00ffff"/><stop offset="1.0000" stop-color="#09fff6"/></linearGradient>
<linearGradient id="g129" gradientUnits="userSpaceOnUse" x1="877.88" y1="2064.13" x2="948.50" y2="1890.23"><stop offset="0.0000" stop-color="#009eff"/><stop offset="0.9158" stop-color="#00ffff"/><stop offset="1.0000" stop-color="#09fff6"/></linearGradient>
<linearGradient id="g130" gradientUnits="userSpaceOnUse" x1="1031.95" y1="2105.23" x2="1082.30" y2="1940.76"><stop offset="0.0000" stop-color="#00a3ff"/><stop offset="0.9114" stop-color="#00ffff"/><stop offset="1.0000" stop-color="#09fff6"/></linearGradient>
<linearGradient id="g131" gradientUnits="userSpaceOnUse" x1="930.26" y1="2077.14" x2="1001.27" y2="1904.05"><stop offset="0.0000" stop-color="#00a3ff"/><stop offset="0.9114" stop-color="#00ffff"/><stop offset="1.0000" stop-color="#09fff6"/></linearGradient>
<linearGradient id="g132" gradientUnits="userSpaceOnUse" x1="1139.88" y1="2132.65" x2="1189.66" y2="1969.98"><stop offset="0.0000" stop-color="#00aeff"/><stop offset="0.9015" stop-color="#00ffff"/><stop offset="1.0000" stop-color="#09fff6"/></linearGradient>
<linearGradient id="g133" gradientUnits="userSpaceOnUse" x1="668.94" y1="1919.19" x2="752.26" y2="1710.62"><stop offset="0.0000" stop-color="#00ecff"/><stop offset="0.1124" stop-color="#00ffff"/><stop offset="1.0000" stop-color="#99ff66"/></linearGradient>
<linearGradient id="g134" gradientUnits="userSpaceOnUse" x1="805.97" y1="1951.55" x2="867.06" y2="1751.95"><stop offset="0.0000" stop-color="#00f6ff"/><stop offset="0.0566" stop-color="#00ffff"/><stop offset="1.0000" stop-color="#99ff66"/></linearGradient>
<linearGradient id="g135" gradientUnits="userSpaceOnUse" x1="721.96" y1="1926.84" x2="801.58" y2="1724.93"><stop offset="0.0000" stop-color="#00f6ff"/><stop offset="0.0566" stop-color="#00ffff"/><stop offset="1.0000" stop-color="#99ff66"/></linearGradient>
<linearGradient id="g136" gradientUnits="userSpaceOnUse" x1="861.25" y1="1960.94" x2="920.43" y2="1767.59"><stop offset="0.0000" stop-color="#00ffff"/><stop offset="0.0013" stop-color="#00ffff"/><stop offset="1.0000" stop-color="#99ff66"/></linearGradient>
<linearGradient id="g137" gradientUnits="userSpaceOnUse" x1="774.79" y1="1935.63" x2="852.63" y2="1739.33"><stop offset="0.0000" stop-color="#00ffff"/><stop offset="0.0013" stop-color="#00ffff"/><stop offset="1.0000" stop-color="#99ff66"/></linearGradient>
<linearGradient id="g138" gradientUnits="userSpaceOnUse" x1="916.38" y1="1970.81" x2="973.82" y2="1783.16"><stop offset="0.0000" stop-color="#08fff7"/><stop offset="1.0000" stop-color="#99ff66"/></linearGradient>
<linearGradient id="g139" gradientUnits="userSpaceOnUse" x1="827.60" y1="1944.95" x2="903.70" y2="1753.70"><stop offset="0.0000" stop-color="#08fff7"/><stop offset="1.0000" stop-color="#99ff66"/></linearGradient>
<linearGradient id="g140" gradientUnits="userSpaceOnUse" x1="971.36" y1="1981.21" x2="1027.23" y2="1798.66"><stop offset="0.0000" stop-color="#10ffef"/><stop offset="1.0000" stop-color="#99ff66"/></linearGradient>
<linearGradient id="g141" gradientUnits="userSpaceOnUse" x1="880.44" y1="1954.84" x2="954.60" y2="1768.11"><stop offset="0.0000" stop-color="#10ffef"/><stop offset="1.0000" stop-color="#99ff66"/></linearGradient>
<linearGradient id="g142" gradientUnits="userSpaceOnUse" x1="1026.15" y1="1992.21" x2="1080.66" y2="1814.10"><stop offset="0.0000" stop-color="#18ffe7"/><stop offset="1.0000" stop-color="#99ff66"/></linearGradient>
<linearGradient id="g143" gradientUnits="userSpaceOnUse" x1="933.23" y1="1965.40" x2="1005.89" y2="1782.51"><stop offset="0.0000" stop-color="#18ffe7"/><stop offset="1.0000" stop-color="#99ff66"/></linearGradient>
<linearGradient id="g144" gradientUnits="userSpaceOnUse" x1="1135.35" y1="2015.44" x2="1187.61" y2="1844.68"><stop offset="0.0000" stop-color="#25ffda"/><stop offset="1.0000" stop-color="#99ff66"/></linearGradient>
<linearGradient id="g145" gradientUnits="userSpaceOnUse" x1="536.34" y1="2022.89" x2="636.68" y2="1835.76"><stop offset="0.0000" stop-color="#008dff"/><stop offset="0.8424" stop-color="#00ffff"/><stop offset="1.0000" stop-color="#15ffea"/></linearGradient>
<linearGradient id="g146" gradientUnits="userSpaceOnUse" x1="660.44" y1="2058.17" x2="745.07" y2="1872.76"><stop offset="0.0000" stop-color="#009bff"/><stop offset="0.7601" stop-color="#00ffff"/><stop offset="1.0000" stop-color="#20ffdf"/></linearGradient>
<linearGradient id="g147" gradientUnits="userSpaceOnUse" x1="587.70" y1="2026.54" x2="696.73" y2="1842.10"><stop offset="0.0000" stop-color="#009bff"/><stop offset="0.7601" stop-color="#00ffff"/><stop offset="1.0000" stop-color="#20ffdf"/></linearGradient>
<linearGradient id="g148" gradientUnits="userSpaceOnUse" x1="717.06" y1="2062.08" x2="798.40" y2="1879.80"><stop offset="0.0000" stop-color="#00aaff"/><stop offset="0.6757" stop-color="#00ffff"/><stop offset="1.0000" stop-color="#29ffd6"/></linearGradient>
<linearGradient id="g149" gradientUnits="userSpaceOnUse" x1="636.92" y1="2029.02" x2="764.79" y2="1850.91"><stop offset="0.0000" stop-color="#00aaff"/><stop offset="0.6757" stop-color="#00ffff"/><stop offset="1.0000" stop-color="#29ffd6"/></linearGradient>
<linearGradient id="g150" gradientUnits="userSpaceOnUse" x1="770.76" y1="2065.57" x2="852.74" y2="1886.52"><stop offset="0.0000" stop-color="#00bcff"/><stop offset="0.5769" stop-color="#00ffff"/><stop offset="1.0000" stop-color="#31ffce"/></linearGradient>
<linearGradient id="g151" gradientUnits="userSpaceOnUse" x1="682.00" y1="2028.15" x2="846.53" y2="1868.59"><stop offset="0.0000" stop-color="#00bcff"/><stop offset="0.5769" stop-color="#00ffff"/><stop offset="1.0000" stop-color="#31ffce"/></linearGradient>
<linearGradient id="g152" gradientUnits="userSpaceOnUse" x1="822.83" y1="2069.19" x2="908.27" y2="1892.27"><stop offset="0.0000" stop-color="#00d0ff"/><stop offset="0.4511" stop-color="#00ffff"/><stop offset="1.0000" stop-color="#39ffc6"/></linearGradient>
<linearGradient id="g153" gradientUnits="userSpaceOnUse" x1="721.90" y1="2018.87" x2="936.87" y2="1912.55"><stop offset="0.0000" stop-color="#00d0ff"/><stop offset="0.4511" stop-color="#00ffff"/><stop offset="1.0000" stop-color="#39ffc6"/></linearGradient>
<linearGradient id="g154" gradientUnits="userSpaceOnUse" x1="870.77" y1="2075.54" x2="966.36" y2="1895.84"><stop offset="0.0000" stop-color="#00e5ff"/><stop offset="0.2848" stop-color="#00ffff"/><stop offset="1.0000" stop-color="#40ffbf"/></linearGradient>
<linearGradient id="g155" gradientUnits="userSpaceOnUse" x1="773.55" y1="1983.50" x2="966.33" y2="2033.31"><stop offset="0.0000" stop-color="#00e5ff"/><stop offset="0.2848" stop-color="#00ffff"/><stop offset="1.0000" stop-color="#40ffbf"/></linearGradient>
<linearGradient id="g156" gradientUnits="userSpaceOnUse" x1="768.76" y1="1997.13" x2="1204.39" y2="1934.89"><stop offset="0.0000" stop-color="#14ffeb"/><stop offset="1.0000" stop-color="#4effb1"/></linearGradient>
<linearGradient id="g157" gradientUnits="userSpaceOnUse" x1="669.64" y1="1780.09" x2="773.83" y2="1530.50"><stop offset="0.0000" stop-color="#82ff7d"/><stop offset="0.5405" stop-color="#ffff00"/><stop offset="1.0000" stop-color="#ff9400"/></linearGradient>
<linearGradient id="g158" gradientUnits="userSpaceOnUse" x1="793.18" y1="1802.32" x2="866.31" y2="1563.38"><stop offset="0.0000" stop-color="#93ff6c"/><stop offset="0.5041" stop-color="#ffff00"/><stop offset="1.0000" stop-color="#ff9400"/></linearGradient>
<linearGradient id="g159" gradientUnits="userSpaceOnUse" x1="722.91" y1="1781.38" x2="818.44" y2="1543.40"><stop offset="0.0000" stop-color="#93ff6c"/><stop offset="0.5041" stop-color="#ffff00"/><stop offset="1.0000" stop-color="#ff9400"/></linearGradient>
<linearGradient id="g160" gradientUnits="userSpaceOnUse" x1="849.73" y1="1807.58" x2="919.63" y2="1579.18"><stop offset="0.0000" stop-color="#a0ff5f"/><stop offset="0.4702" stop-color="#ffff00"/><stop offset="1.0000" stop-color="#ff9400"/></linearGradient>
<linearGradient id="g161" gradientUnits="userSpaceOnUse" x1="775.91" y1="1785.63" x2="867.07" y2="1557.34"><stop offset="0.0000" stop-color="#a0ff5f"/><stop offset="0.4702" stop-color="#ffff00"/><stop offset="1.0000" stop-color="#ff9400"/></linearGradient>
<linearGradient id="g162" gradientUnits="userSpaceOnUse" x1="905.93" y1="1813.96" x2="972.96" y2="1594.95"><stop offset="0.0000" stop-color="#adff52"/><stop offset="0.4354" stop-color="#ffff00"/><stop offset="1.0000" stop-color="#ff9400"/></linearGradient>
<linearGradient id="g163" gradientUnits="userSpaceOnUse" x1="828.75" y1="1791.12" x2="917.37" y2="1571.51"><stop offset="0.0000" stop-color="#adff52"/><stop offset="0.4354" stop-color="#ffff00"/><stop offset="1.0000" stop-color="#ff9400"/></linearGradient>
<linearGradient id="g164" gradientUnits="userSpaceOnUse" x1="961.97" y1="1820.87" x2="1026.32" y2="1610.65"><stop offset="0.0000" stop-color="#b9ff46"/><stop offset="0.3975" stop-color="#ffff00"/><stop offset="1.0000" stop-color="#ff9400"/></linearGradient>
<linearGradient id="g165" gradientUnits="userSpaceOnUse" x1="881.87" y1="1797.19" x2="965.43" y2="1585.57"><stop offset="0.0000" stop-color="#b9ff46"/><stop offset="0.3975" stop-color="#ffff00"/><stop offset="1.0000" stop-color="#ff9400"/></linearGradient>
<linearGradient id="g166" gradientUnits="userSpaceOnUse" x1="1017.57" y1="1829.24" x2="1079.67" y2="1626.35"><stop offset="0.0000" stop-color="#c3ff3c"/><stop offset="0.3609" stop-color="#ffff00"/><stop offset="1.0000" stop-color="#ff9400"/></linearGradient>
<linearGradient id="g167" gradientUnits="userSpaceOnUse" x1="934.79" y1="1804.85" x2="1015.68" y2="1599.93"><stop offset="0.0000" stop-color="#c3ff3c"/><stop offset="0.3609" stop-color="#ffff00"/><stop offset="1.0000" stop-color="#ff9400"/></linearGradient>
<linearGradient id="g168" gradientUnits="userSpaceOnUse" x1="1128.31" y1="1847.45" x2="1186.43" y2="1657.55"><stop offset="0.0000" stop-color="#d5ff2a"/><stop offset="0.2801" stop-color="#ffff00"/><stop offset="1.0000" stop-color="#ff9400"/></linearGradient>
<linearGradient id="g169" gradientUnits="userSpaceOnUse" x1="538.85" y1="1924.39" x2="650.86" y2="1713.01"><stop offset="0.0000" stop-color="#00f3ff"/><stop offset="0.0644" stop-color="#00ffff"/><stop offset="1.0000" stop-color="#aaff55"/></linearGradient>
<linearGradient id="g170" gradientUnits="userSpaceOnUse" x1="642.36" y1="1945.72" x2="743.55" y2="1734.65"><stop offset="0.0000" stop-color="#09fff6"/><stop offset="1.0000" stop-color="#bbff44"/></linearGradient>
<linearGradient id="g171" gradientUnits="userSpaceOnUse" x1="590.81" y1="1921.53" x2="711.12" y2="1715.00"><stop offset="0.0000" stop-color="#09fff6"/><stop offset="1.0000" stop-color="#bbff44"/></linearGradient>
<linearGradient id="g172" gradientUnits="userSpaceOnUse" x1="704.08" y1="1943.60" x2="796.29" y2="1737.62"><stop offset="0.0000" stop-color="#20ffdf"/><stop offset="1.0000" stop-color="#c9ff36"/></linearGradient>
<linearGradient id="g173" gradientUnits="userSpaceOnUse" x1="641.33" y1="1916.49" x2="777.29" y2="1722.03"><stop offset="0.0000" stop-color="#20ffdf"/><stop offset="1.0000" stop-color="#c9ff36"/></linearGradient>
<linearGradient id="g174" gradientUnits="userSpaceOnUse" x1="761.01" y1="1939.12" x2="850.03" y2="1741.40"><stop offset="0.0000" stop-color="#3affc5"/><stop offset="1.0000" stop-color="#d6ff29"/></linearGradient>
<linearGradient id="g175" gradientUnits="userSpaceOnUse" x1="691.69" y1="1909.15" x2="837.97" y2="1727.75"><stop offset="0.0000" stop-color="#3affc5"/><stop offset="1.0000" stop-color="#d6ff29"/></linearGradient>
<linearGradient id="g176" gradientUnits="userSpaceOnUse" x1="815.35" y1="1935.15" x2="904.41" y2="1745.29"><stop offset="0.0000" stop-color="#55ffaa"/><stop offset="1.0000" stop-color="#e1ff1e"/></linearGradient>
<linearGradient id="g177" gradientUnits="userSpaceOnUse" x1="743.32" y1="1903.15" x2="886.74" y2="1726.46"><stop offset="0.0000" stop-color="#55ffaa"/><stop offset="1.0000" stop-color="#e1ff1e"/></linearGradient>
<linearGradient id="g178" gradientUnits="userSpaceOnUse" x1="872.96" y1="1934.21" x2="958.29" y2="1750.48"><stop offset="0.0000" stop-color="#6cff93"/><stop offset="1.0000" stop-color="#ecff13"/></linearGradient>
<linearGradient id="g179" gradientUnits="userSpaceOnUse" x1="787.28" y1="1872.91" x2="975.28" y2="1871.68"><stop offset="0.0000" stop-color="#6cff93"/><stop offset="1.0000" stop-color="#ecff13"/></linearGradient>
<linearGradient id="g180" gradientUnits="userSpaceOnUse" x1="899.03" y1="1927.20" x2="1108.76" y2="1745.06"><stop offset="0.0000" stop-color="#b4ff4b"/><stop offset="1.0000" stop-color="#feff01"/></linearGradient>
<linearGradient id="g181" gradientUnits="userSpaceOnUse" x1="404.59" y1="2033.17" x2="540.44" y2="1852.05"><stop offset="0.0000" stop-color="#008dff"/><stop offset="0.7963" stop-color="#00ffff"/><stop offset="1.0000" stop-color="#1dffe2"/></linearGradient>
<linearGradient id="g182" gradientUnits="userSpaceOnUse" x1="493.55" y1="2054.55" x2="623.28" y2="1871.51"><stop offset="0.0000" stop-color="#00a3ff"/><stop offset="0.6472" stop-color="#00ffff"/><stop offset="1.0000" stop-color="#32ffcd"/></linearGradient>
<linearGradient id="g183" gradientUnits="userSpaceOnUse" x1="450.98" y1="2024.18" x2="632.64" y2="1879.38"><stop offset="0.0000" stop-color="#00a3ff"/><stop offset="0.6472" stop-color="#00ffff"/><stop offset="1.0000" stop-color="#32ffcd"/></linearGradient>
<linearGradient id="g184" gradientUnits="userSpaceOnUse" x1="529.34" y1="2037.74" x2="680.56" y2="1867.29"><stop offset="0.0000" stop-color="#00c1ff"/><stop offset="0.4600" stop-color="#00ffff"/><stop offset="1.0000" stop-color="#49ffb6"/></linearGradient>
<linearGradient id="g185" gradientUnits="userSpaceOnUse" x1="501.97" y1="1993.91" x2="690.15" y2="1985.88"><stop offset="0.0000" stop-color="#00c1ff"/><stop offset="0.4600" stop-color="#00ffff"/><stop offset="1.0000" stop-color="#49ffb6"/></linearGradient>
<linearGradient id="g186" gradientUnits="userSpaceOnUse" x1="545.80" y1="1985.60" x2="743.85" y2="1865.30"><stop offset="0.0000" stop-color="#00e8ff"/><stop offset="0.1914" stop-color="#00ffff"/><stop offset="1.0000" stop-color="#63ff9c"/></linearGradient>
<linearGradient id="g187" gradientUnits="userSpaceOnUse" x1="576.60" y1="1967.38" x2="618.24" y2="2004.17"><stop offset="0.0000" stop-color="#00e8ff"/><stop offset="0.1914" stop-color="#00ffff"/><stop offset="1.0000" stop-color="#63ff9c"/></linearGradient>
<linearGradient id="g188" gradientUnits="userSpaceOnUse" x1="604.52" y1="1861.41" x2="804.42" y2="1881.63"><stop offset="0.0000" stop-color="#18ffe7"/><stop offset="1.0000" stop-color="#7dff82"/></linearGradient>
<linearGradient id="g189" gradientUnits="userSpaceOnUse" x1="637.86" y1="1948.49" x2="632.09" y2="1936.13"><stop offset="0.0000" stop-color="#18ffe7"/><stop offset="1.0000" stop-color="#7dff82"/></linearGradient>
<linearGradient id="g190" gradientUnits="userSpaceOnUse" x1="792.44" y1="1830.16" x2="827.37" y2="1890.01"><stop offset="0.0000" stop-color="#4effb1"/><stop offset="1.0000" stop-color="#95ff6a"/></linearGradient>
<linearGradient id="g191" gradientUnits="userSpaceOnUse" x1="691.60" y1="1920.88" x2="678.94" y2="1864.66"><stop offset="0.0000" stop-color="#4effb1"/><stop offset="1.0000" stop-color="#e3ff1c"/></linearGradient>
<linearGradient id="g192" gradientUnits="userSpaceOnUse" x1="926.11" y1="1871.72" x2="922.91" y2="1829.45"><stop offset="0.0000" stop-color="#6cff93"/><stop offset="1.0000" stop-color="#e3ff1c"/></linearGradient>
<linearGradient id="g193" gradientUnits="userSpaceOnUse" x1="670.51" y1="1577.53" x2="787.86" y2="1291.35"><stop offset="0.0000" stop-color="#ffa100"/><stop offset="0.5582" stop-color="#ff0000"/><stop offset="1.0000" stop-color="#800000"/></linearGradient>
<linearGradient id="g194" gradientUnits="userSpaceOnUse" x1="775.05" y1="1588.87" x2="858.88" y2="1314.95"><stop offset="0.0000" stop-color="#ff8a00"/><stop offset="0.5203" stop-color="#ff0000"/><stop offset="1.0000" stop-color="#800000"/></linearGradient>
<linearGradient id="g195" gradientUnits="userSpaceOnUse" x1="723.75" y1="1573.38" x2="830.97" y2="1303.88"><stop offset="0.0000" stop-color="#ff8a00"/><stop offset="0.5203" stop-color="#ff0000"/><stop offset="1.0000" stop-color="#800000"/></linearGradient>
<linearGradient id="g196" gradientUnits="userSpaceOnUse" x1="832.96" y1="1589.68" x2="912.05" y2="1331.25"><stop offset="0.0000" stop-color="#ff7700"/><stop offset="0.4837" stop-color="#ff0000"/><stop offset="1.0000" stop-color="#800000"/></linearGradient>
<linearGradient id="g197" gradientUnits="userSpaceOnUse" x1="776.73" y1="1572.75" x2="878.68" y2="1317.94"><stop offset="0.0000" stop-color="#ff7700"/><stop offset="0.4837" stop-color="#ff0000"/><stop offset="1.0000" stop-color="#800000"/></linearGradient>
<linearGradient id="g198" gradientUnits="userSpaceOnUse" x1="890.58" y1="1591.43" x2="965.22" y2="1347.56"><stop offset="0.0000" stop-color="#ff6600"/><stop offset="0.4437" stop-color="#ff0000"/><stop offset="1.0000" stop-color="#800000"/></linearGradient>
<linearGradient id="g199" gradientUnits="userSpaceOnUse" x1="829.74" y1="1573.17" x2="926.18" y2="1331.99"><stop offset="0.0000" stop-color="#ff6600"/><stop offset="0.4437" stop-color="#ff0000"/><stop offset="1.0000" stop-color="#800000"/></linearGradient>
<linearGradient id="g200" gradientUnits="userSpaceOnUse" x1="947.82" y1="1594.41" x2="1018.38" y2="1363.86"><stop offset="0.0000" stop-color="#ff5500"/><stop offset="0.4009" stop-color="#ff0000"/><stop offset="1.0000" stop-color="#800000"/></linearGradient>
<linearGradient id="g201" gradientUnits="userSpaceOnUse" x1="882.71" y1="1574.92" x2="974.44" y2="1346.28"><stop offset="0.0000" stop-color="#ff5500"/><stop offset="0.4009" stop-color="#ff0000"/><stop offset="1.0000" stop-color="#800000"/></linearGradient>
<linearGradient id="g202" gradientUnits="userSpaceOnUse" x1="1004.78" y1="1598.33" x2="1071.55" y2="1380.17"><stop offset="0.0000" stop-color="#ff4600"/><stop offset="0.3546" stop-color="#ff0000"/><stop offset="1.0000" stop-color="#800000"/></linearGradient>
<linearGradient id="g203" gradientUnits="userSpaceOnUse" x1="935.80" y1="1577.73" x2="1021.77" y2="1360.52"><stop offset="0.0000" stop-color="#ff4600"/><stop offset="0.3546" stop-color="#ff0000"/><stop offset="1.0000" stop-color="#800000"/></linearGradient>
<linearGradient id="g204" gradientUnits="userSpaceOnUse" x1="1117.70" y1="1609.40" x2="1177.88" y2="1412.79"><stop offset="0.0000" stop-color="#ff2b00"/><stop offset="0.2533" stop-color="#ff0000"/><stop offset="1.0000" stop-color="#800000"/></linearGradient>
<linearGradient id="g205" gradientUnits="userSpaceOnUse" x1="540.71" y1="1781.90" x2="671.14" y2="1527.01"><stop offset="0.0000" stop-color="#8dff72"/><stop offset="0.4587" stop-color="#ffff00"/><stop offset="1.0000" stop-color="#ff7800"/></linearGradient>
<linearGradient id="g206" gradientUnits="userSpaceOnUse" x1="625.10" y1="1786.01" x2="741.79" y2="1531.28"><stop offset="0.0000" stop-color="#aaff55"/><stop offset="0.3509" stop-color="#ffff00"/><stop offset="1.0000" stop-color="#ff6200"/></linearGradient>
<linearGradient id="g207" gradientUnits="userSpaceOnUse" x1="592.57" y1="1771.22" x2="735.39" y2="1527.15"><stop offset="0.0000" stop-color="#aaff55"/><stop offset="0.3509" stop-color="#ffff00"/><stop offset="1.0000" stop-color="#ff6200"/></linearGradient>
<linearGradient id="g208" gradientUnits="userSpaceOnUse" x1="687.57" y1="1774.97" x2="794.77" y2="1529.69"><stop offset="0.0000" stop-color="#ccff33"/><stop offset="0.2243" stop-color="#ffff00"/><stop offset="1.0000" stop-color="#ff4f00"/></linearGradient>
<linearGradient id="g209" gradientUnits="userSpaceOnUse" x1="643.55" y1="1755.65" x2="801.77" y2="1533.49"><stop offset="0.0000" stop-color="#ccff33"/><stop offset="0.2243" stop-color="#ffff00"/><stop offset="1.0000" stop-color="#ff4f00"/></linearGradient>
<linearGradient id="g210" gradientUnits="userSpaceOnUse" x1="745.35" y1="1759.26" x2="848.52" y2="1528.93"><stop offset="0.0000" stop-color="#f3ff0c"/><stop offset="0.0593" stop-color="#ffff00"/><stop offset="1.0000" stop-color="#ff3d00"/></linearGradient>
<linearGradient id="g211" gradientUnits="userSpaceOnUse" x1="693.84" y1="1735.56" x2="866.70" y2="1542.76"><stop offset="0.0000" stop-color="#f3ff0c"/><stop offset="0.0593" stop-color="#ffff00"/><stop offset="1.0000" stop-color="#ff3d00"/></linearGradient>
<linearGradient id="g212" gradientUnits="userSpaceOnUse" x1="803.51" y1="1742.81" x2="902.61" y2="1529.03"><stop offset="0.0000" stop-color="#ffe200"/><stop offset="1.0000" stop-color="#ff2d00"/></linearGradient>
<linearGradient id="g213" gradientUnits="userSpaceOnUse" x1="744.32" y1="1714.60" x2="920.72" y2="1543.55"><stop offset="0.0000" stop-color="#ffe200"/><stop offset="1.0000" stop-color="#ff2d00"/></linearGradient>
<linearGradient id="g214" gradientUnits="userSpaceOnUse" x1="859.59" y1="1729.53" x2="957.15" y2="1529.76"><stop offset="0.0000" stop-color="#ffbd00"/><stop offset="1.0000" stop-color="#ff1d00"/></linearGradient>
<linearGradient id="g215" gradientUnits="userSpaceOnUse" x1="793.27" y1="1680.03" x2="981.00" y2="1658.13"><stop offset="0.0000" stop-color="#ffbd00"/><stop offset="1.0000" stop-color="#ff1d00"/></linearGradient>
<linearGradient id="g216" gradientUnits="userSpaceOnUse" x1="920.03" y1="1694.45" x2="1088.40" y2="1525.89"><stop offset="0.0000" stop-color="#ff5e00"/><stop offset="1.0000" stop-color="#ff0200"/></linearGradient>
<linearGradient id="g217" gradientUnits="userSpaceOnUse" x1="428.33" y1="1944.77" x2="587.55" y2="1707.02"><stop offset="0.0000" stop-color="#00f8ff"/><stop offset="0.0323" stop-color="#00ffff"/><stop offset="1.0000" stop-color="#d3ff2c"/></linearGradient>
<linearGradient id="g218" gradientUnits="userSpaceOnUse" x1="441.46" y1="1953.33" x2="599.49" y2="1715.18"><stop offset="0.0000" stop-color="#00f8ff"/><stop offset="0.0323" stop-color="#00ffff"/><stop offset="1.0000" stop-color="#d3ff2c"/></linearGradient>
<linearGradient id="g219" gradientUnits="userSpaceOnUse" x1="456.70" y1="1916.47" x2="646.27" y2="1759.33"><stop offset="0.0000" stop-color="#16ffe9"/><stop offset="1.0000" stop-color="#d3ff2c"/></linearGradient>
<linearGradient id="g220" gradientUnits="userSpaceOnUse" x1="513.43" y1="1898.97" x2="676.13" y2="1714.92"><stop offset="0.0000" stop-color="#40ffbf"/><stop offset="1.0000" stop-color="#f5ff0a"/></linearGradient>
<linearGradient id="g221" gradientUnits="userSpaceOnUse" x1="509.12" y1="1880.09" x2="696.99" y2="1851.70"><stop offset="0.0000" stop-color="#40ffbf"/><stop offset="1.0000" stop-color="#f5ff0a"/></linearGradient>
<linearGradient id="g222" gradientUnits="userSpaceOnUse" x1="539.26" y1="1828.07" x2="735.22" y2="1700.71"><stop offset="0.0000" stop-color="#77ff88"/><stop offset="0.8264" stop-color="#ffff00"/><stop offset="1.0000" stop-color="#ffe200"/></linearGradient>
<linearGradient id="g223" gradientUnits="userSpaceOnUse" x1="578.87" y1="1839.83" x2="616.40" y2="1865.38"><stop offset="0.0000" stop-color="#77ff88"/><stop offset="0.8264" stop-color="#ffff00"/><stop offset="1.0000" stop-color="#ffe200"/></linearGradient>
<linearGradient id="g224" gradientUnits="userSpaceOnUse" x1="611.14" y1="1694.05" x2="790.59" y2="1695.66"><stop offset="0.0000" stop-color="#baff45"/><stop offset="0.4981" stop-color="#ffff00"/><stop offset="1.0000" stop-color="#ffba00"/></linearGradient>
<linearGradient id="g225" gradientUnits="userSpaceOnUse" x1="639.60" y1="1803.12" x2="619.95" y2="1767.07"><stop offset="0.0000" stop-color="#baff45"/><stop offset="0.4981" stop-color="#ffff00"/><stop offset="1.0000" stop-color="#ffba00"/></linearGradient>
<linearGradient id="g226" gradientUnits="userSpaceOnUse" x1="793.21" y1="1646.99" x2="823.65" y2="1685.23"><stop offset="0.0000" stop-color="#fff500"/><stop offset="1.0000" stop-color="#ff9400"/></linearGradient>
<linearGradient id="g227" gradientUnits="userSpaceOnUse" x1="692.59" y1="1751.65" x2="667.06" y2="1663.60"><stop offset="0.0000" stop-color="#fff500"/><stop offset="1.0000" stop-color="#ff3500"/></linearGradient>
<linearGradient id="g228" gradientUnits="userSpaceOnUse" x1="928.94" y1="1675.03" x2="922.67" y2="1614.01"><stop offset="0.0000" stop-color="#ffbd00"/><stop offset="1.0000" stop-color="#ff3500"/></linearGradient>
<linearGradient id="g229" gradientUnits="userSpaceOnUse" x1="275.58" y1="2043.94" x2="482.52" y2="1856.64"><stop offset="0.0000" stop-color="#0090ff"/><stop offset="0.6403" stop-color="#00ffff"/><stop offset="1.0000" stop-color="#3fffc0"/></linearGradient>
<linearGradient id="g230" gradientUnits="userSpaceOnUse" x1="298.56" y1="2064.46" x2="486.77" y2="1864.31"><stop offset="0.0000" stop-color="#0090ff"/><stop offset="0.6403" stop-color="#00ffff"/><stop offset="1.0000" stop-color="#3fffc0"/></linearGradient>
<linearGradient id="g231" gradientUnits="userSpaceOnUse" x1="326.06" y1="2009.20" x2="497.02" y2="2014.97"><stop offset="0.0000" stop-color="#00abff"/><stop offset="0.5744" stop-color="#00ffff"/><stop offset="1.0000" stop-color="#3fffc0"/></linearGradient>
<linearGradient id="g232" gradientUnits="userSpaceOnUse" x1="372.14" y1="1884.35" x2="556.34" y2="1875.65"><stop offset="0.0000" stop-color="#00d7ff"/><stop offset="0.2733" stop-color="#00ffff"/><stop offset="1.0000" stop-color="#69ff96"/></linearGradient>
<linearGradient id="g233" gradientUnits="userSpaceOnUse" x1="403.89" y1="1986.32" x2="397.23" y2="1977.69"><stop offset="0.0000" stop-color="#00d7ff"/><stop offset="0.2733" stop-color="#00ffff"/><stop offset="1.0000" stop-color="#69ff96"/></linearGradient>
<linearGradient id="g234" gradientUnits="userSpaceOnUse" x1="566.58" y1="1825.30" x2="586.69" y2="1846.31"><stop offset="0.0000" stop-color="#1effe1"/><stop offset="1.0000" stop-color="#a0ff5f"/></linearGradient>
<linearGradient id="g235" gradientUnits="userSpaceOnUse" x1="459.64" y1="1946.62" x2="436.83" y2="1886.74"><stop offset="0.0000" stop-color="#1effe1"/><stop offset="1.0000" stop-color="#a3ff5c"/></linearGradient>
<linearGradient id="g236" gradientUnits="userSpaceOnUse" x1="647.53" y1="1826.67" x2="634.18" y2="1791.07"><stop offset="0.0000" stop-color="#77ff88"/><stop offset="1.0000" stop-color="#e3ff1c"/></linearGradient>
<linearGradient id="g237" gradientUnits="userSpaceOnUse" x1="512.30" y1="1881.55" x2="491.58" y2="1799.74"><stop offset="0.0000" stop-color="#7aff85"/><stop offset="0.9441" stop-color="#ffff00"/><stop offset="1.0000" stop-color="#fff700"/></linearGradient>
<linearGradient id="g238" gradientUnits="userSpaceOnUse" x1="701.57" y1="1794.66" x2="687.46" y2="1731.49"><stop offset="0.0000" stop-color="#baff45"/><stop offset="0.5775" stop-color="#ffff00"/><stop offset="1.0000" stop-color="#ffcd00"/></linearGradient>
<linearGradient id="g239" gradientUnits="userSpaceOnUse" x1="564.93" y1="1807.46" x2="535.02" y2="1648.32"><stop offset="0.0000" stop-color="#deff21"/><stop offset="0.1325" stop-color="#ffff00"/><stop offset="1.0000" stop-color="#ff2700"/></linearGradient>
<linearGradient id="g240" gradientUnits="userSpaceOnUse" x1="804.45" y1="1747.02" x2="794.58" y2="1614.13"><stop offset="0.0000" stop-color="#fff500"/><stop offset="1.0000" stop-color="#ff2700"/></linearGradient>
<linearGradient id="cba" x1="0" y1="0" x2="0" y2="1"><stop offset="0.0000" stop-color="#800000"/><stop offset="0.1250" stop-color="#ff0000"/><stop offset="0.3750" stop-color="#ffff00"/><stop offset="0.6250" stop-color="#00ffff"/><stop offset="0.8750" stop-color="#0000ff"/><stop offset="1.0000" stop-color="#000080"/></linearGradient>
<linearGradient id="cbb" x1="0" y1="0" x2="0" y2="1"><stop offset="0.0000" stop-color="#800000"/><stop offset="0.1250" stop-color="#ff0000"/><stop offset="0.3750" stop-color="#ffff00"/><stop offset="0.6250" stop-color="#00ffff"/><stop offset="0.8750" stop-color="#0000ff"/><stop offset="1.0000" stop-color="#000080"/></linearGradient>
</defs>
<rect width="1500" height="2423" fill="#fff"/>
<polygon points="810.6,734.2 684.2,632.6 862.5,750.3" fill="url(#g1)" stroke="url(#g1)" stroke-width="1.2"/>
<circle cx="684.2" cy="632.6" r="2.4"/>
<polygon points="736.1,685.5 684.2,632.6 862.5,750.3" fill="url(#g2)" stroke="url(#g2)" stroke-width="1.2"/>
<line x1="684.2" y1="632.6" x2="736.1" y2="685.5" stroke="#000" stroke-width="1.30" stroke-linecap="round"/>
<circle cx="736.1" cy="685.5" r="2.4"/>
<circle cx="684.2" cy="632.6" r="2.4"/>
<polygon points="862.5,750.3 736.1,685.5 914.5,766.3" fill="url(#g3)" stroke="url(#g3)" stroke-width="1.2"/>
<circle cx="736.1" cy="685.5" r="2.4"/>
<circle cx="914.5" cy="766.3" r="2.4"/>
<polygon points="788.0,733.3 736.1,685.5 914.5,766.3" fill="url(#g4)" stroke="url(#g4)" stroke-width="1.2"/>
<line x1="736.1" y1="685.5" x2="788.0" y2="733.3" stroke="#000" stroke-width="1.30" stroke-linecap="round"/>
<line x1="914.5" y1="766.3" x2="788.0" y2="733.3" stroke="#000" stroke-width="1.30" stroke-linecap="round"/>
<circle cx="788.0" cy="733.3" r="2.4"/>
<circle cx="736.1" cy="685.5" r="2.4"/>
<circle cx="914.5" cy="766.3" r="2.4"/>
<polygon points="914.5,766.3 788.0,733.3 966.4,782.4" fill="url(#g5)" stroke="url(#g5)" stroke-width="1.2"/>
<polygon points="840.0,764.7 788.0,733.3 966.4,782.4" fill="url(#g6)" stroke="url(#g6)" stroke-width="1.2"/>
<line x1="914.5" y1="766.3" x2="788.0" y2="733.3" stroke="#000" stroke-width="1.30" stroke-linecap="round"/>
<line x1="914.5" y1="766.3" x2="966.4" y2="782.4" stroke="#000" stroke-width="1.30" stroke-linecap="round"/>
<line x1="788.0" y1="733.3" x2="840.0" y2="764.7" stroke="#000" stroke-width="1.30" stroke-linecap="round"/>
<line x1="966.4" y1="782.4" x2="840.0" y2="764.7" stroke="#000" stroke-width="1.30" stroke-linecap="round"/>
<circle cx="914.5" cy="766.3" r="2.4"/>
<circle cx="788.0" cy="733.3" r="2.4"/>
<circle cx="966.4" cy="782.4" r="2.4"/>
<circle cx="840.0" cy="764.7" r="2.4"/>
<polygon points="966.4,782.4 840.0,764.7 1018.3,798.5" fill="url(#g7)" stroke="url(#g7)" stroke-width="1.2"/>
<polygon points="891.9,791.0 840.0,764.7 1018.3,798.5" fill="url(#g8)" stroke="url(#g8)" stroke-width="1.2"/>
<line x1="966.4" y1="782.4" x2="840.0" y2="764.7" stroke="#000" stroke-width="1.30" stroke-linecap="round"/>
<line x1="966.4" y1="782.4" x2="1018.3" y2="798.5" stroke="#000" stroke-width="1.30" stroke-linecap="round"/>
<line x1="840.0" y1="764.7" x2="891.9" y2="791.0" stroke="#000" stroke-width="1.30" stroke-linecap="round"/>
<line x1="1018.3" y1="798.5" x2="891.9" y2="791.0" stroke="#000" stroke-width="1.30" stroke-linecap="round"/>
<circle cx="966.4" cy="782.4" r="2.4"/>
<circle cx="840.0" cy="764.7" r="2.4"/>
<circle cx="1018.3" cy="798.5" r="2.4"/>
<circle cx="891.9" cy="791.0" r="2.4"/>
<polygon points="1018.3,798.5 891.9,791.0 1070.2,814.6" fill="url(#g9)" stroke="url(#g9)" stroke-width="1.2"/>
<polygon points="943.8,814.7 891.9,791.0 1070.2,814.6" fill="url(#g10)" stroke="url(#g10)" stroke-width="1.2"/>
<line x1="1018.3" y1="798.5" x2="891.9" y2="791.0" stroke="#000" stroke-width="1.30" stroke-linecap="round"/>
<line x1="1018.3" y1="798.5" x2="1070.2" y2="814.6" stroke="#000" stroke-width="1.30" stroke-linecap="round"/>
<line x1="891.9" y1="791.0" x2="943.8" y2="814.7" stroke="#000" stroke-width="1.30" stroke-linecap="round"/>
<line x1="1070.2" y1="814.6" x2="943.8" y2="814.7" stroke="#000" stroke-width="1.30" stroke-linecap="round"/>
<circle cx="1018.3" cy="798.5" r="2.4"/>
<circle cx="891.9" cy="791.0" r="2.4"/>
<circle cx="1070.2" cy="814.6" r="2.4"/>
<circle cx="943.8" cy="814.7" r="2.4"/>
<polygon points="1070.2,814.6 943.8,814.7 1174.1,846.7" fill="url(#g11)" stroke="url(#g11)" stroke-width="1.2"/>
<polygon points="1047.7,857.7 943.8,814.7 1174.1,846.7" fill="url(#g12)" stroke="url(#g12)" stroke-width="1.2"/>
<line x1="1070.2" y1="814.6" x2="943.8" y2="814.7" stroke="#000" stroke-width="1.30" stroke-linecap="round"/>
<line x1="1070.2" y1="814.6" x2="1174.1" y2="846.7" stroke="#000" stroke-width="1.30" stroke-linecap="round"/>
<line x1="943.8" y1="814.7" x2="1047.7" y2="857.7" stroke="#000" stroke-width="1.30" stroke-linecap="round"/>
<line x1="1174.1" y1="846.7" x2="1047.7" y2="857.7" stroke="#000" stroke-width="1.30" stroke-linecap="round"/>
<circle cx="1070.2" cy="814.6" r="2.4"/>
<circle cx="943.8" cy="814.7" r="2.4"/>
<circle cx="1174.1" cy="846.7" r="2.4"/>
<circle cx="1047.7" cy="857.7" r="2.4"/>
<polygon points="684.2,632.6 557.8,505.8 736.1,685.5" fill="url(#g13)" stroke="url(#g13)" stroke-width="1.2"/>
<polygon points="609.7,610.0 557.8,505.8 736.1,685.5" fill="url(#g14)" stroke="url(#g14)" stroke-width="1.2"/>
<line x1="684.2" y1="632.6" x2="557.8" y2="505.8" stroke="#000" stroke-width="1.30" stroke-linecap="round"/>
<line x1="684.2" y1="632.6" x2="736.1" y2="685.5" stroke="#000" stroke-width="1.30" stroke-linecap="round"/>
<line x1="557.8" y1="505.8" x2="609.7" y2="610.0" stroke="#000" stroke-width="1.30" stroke-linecap="round"/>
<line x1="736.1" y1="685.5" x2="609.7" y2="610.0" stroke="#000" stroke-width="1.30" stroke-linecap="round"/>
<circle cx="684.2" cy="632.6" r="2.4"/>
<circle cx="557.8" cy="505.8" r="2.4"/>
<circle cx="736.1" cy="685.5" r="2.4"/>
<circle cx="609.7" cy="610.0" r="2.4"/>
<polygon points="736.1,685.5 609.7,610.0 788.0,733.3" fill="url(#g15)" stroke="url(#g15)" stroke-width="1.2"/>
<polygon points="661.7,690.0 609.7,610.0 788.0,733.3" fill="url(#g16)" stroke="url(#g16)" stroke-width="1.2"/>
<line x1="736.1" y1="685.5" x2="609.7" y2="610.0" stroke="#000" stroke-width="1.30" stroke-linecap="round"/>
<line x1="736.1" y1="685.5" x2="788.0" y2="733.3" stroke="#000" stroke-width="1.30" stroke-linecap="round"/>
<line x1="609.7" y1="610.0" x2="661.7" y2="690.0" stroke="#000" stroke-width="1.30" stroke-linecap="round"/>
<line x1="788.0" y1="733.3" x2="661.7" y2="690.0" stroke="#000" stroke-width="1.30" stroke-linecap="round"/>
<circle cx="736.1" cy="685.5" r="2.4"/>
<circle cx="609.7" cy="610.0" r="2.4"/>
<circle cx="788.0" cy="733.3" r="2.4"/>
<circle cx="661.7" cy="690.0" r="2.4"/>
<polygon points="788.0,733.3 661.7,690.0 840.0,764.7" fill="url(#g17)" stroke="url(#g17)" stroke-width="1.2"/>
<polygon points="713.6,748.3 661.7,690.0 840.0,764.7" fill="url(#g18)" stroke="url(#g18)" stroke-width="1.2"/>
<line x1="788.0" y1="733.3" x2="661.7" y2="690.0" stroke="#000" stroke-width="1.30" stroke-linecap="round"/>
<line x1="788.0" y1="733.3" x2="840.0" y2="764.7" stroke="#000" stroke-width="1.30" stroke-linecap="round"/>
<line x1="661.7" y1="690.0" x2="713.6" y2="748.3" stroke="#000" stroke-width="1.30" stroke-linecap="round"/>
<line x1="840.0" y1="764.7" x2="713.6" y2="748.3" stroke="#000" stroke-width="1.30" stroke-linecap="round"/>
<circle cx="788.0" cy="733.3" r="2.4"/>
<circle cx="661.7" cy="690.0" r="2.4"/>
<circle cx="840.0" cy="764.7" r="2.4"/>
<circle cx="713.6" cy="748.3" r="2.4"/>
<polygon points="840.0,764.7 713.6,748.3 891.9,791.0" fill="url(#g19)" stroke="url(#g19)" stroke-width="1.2"/>
<polygon points="765.5,792.0 713.6,748.3 891.9,791.0" fill="url(#g20)" stroke="url(#g20)" stroke-width="1.2"/>
<line x1="840.0" y1="764.7" x2="713.6" y2="748.3" stroke="#000" stroke-width="1.30" stroke-linecap="round"/>
<line x1="840.0" y1="764.7" x2="891.9" y2="791.0" stroke="#000" stroke-width="1.30" stroke-linecap="round"/>
<line x1="713.6" y1="748.3" x2="765.5" y2="792.0" stroke="#000" stroke-width="1.30" stroke-linecap="round"/>
<line x1="891.9" y1="791.0" x2="765.5" y2="792.0" stroke="#000" stroke-width="1.30" stroke-linecap="round"/>
<circle cx="840.0" cy="764.7" r="2.4"/>
<circle cx="713.6" cy="748.3" r="2.4"/>
<circle cx="891.9" cy="791.0" r="2.4"/>
<circle cx="765.5" cy="792.0" r="2.4"/>
<polygon points="891.9,791.0 765.5,792.0 943.8,814.7" fill="url(#g21)" stroke="url(#g21)" stroke-width="1.2"/>
<polygon points="817.4,825.2 765.5,792.0 943.8,814.7" fill="url(#g22)" stroke="url(#g22)" stroke-width="1.2"/>
<line x1="891.9" y1="791.0" x2="765.5" y2="792.0" stroke="#000" stroke-width="1.30" stroke-linecap="round"/>
<line x1="891.9" y1="791.0" x2="943.8" y2="814.7" stroke="#000" stroke-width="1.30" stroke-linecap="round"/>
<line x1="765.5" y1="792.0" x2="817.4" y2="825.2" stroke="#000" stroke-width="1.30" stroke-linecap="round"/>
<line x1="943.8" y1="814.7" x2="817.4" y2="825.2" stroke="#000" stroke-width="1.30" stroke-linecap="round"/>
<circle cx="891.9" cy="791.0" r="2.4"/>
<circle cx="765.5" cy="792.0" r="2.4"/>
<circle cx="943.8" cy="814.7" r="2.4"/>
<circle cx="817.4" cy="825.2" r="2.4"/>
<polygon points="943.8,814.7 817.4,825.2 1047.7,857.7" fill="url(#g23)" stroke="url(#g23)" stroke-width="1.2"/>
<polygon points="921.3,873.7 817.4,825.2 1047.7,857.7" fill="url(#g24)" stroke="url(#g24)" stroke-width="1.2"/>
<line x1="943.8" y1="814.7" x2="817.4" y2="825.2" stroke="#000" stroke-width="1.30" stroke-linecap="round"/>
<line x1="943.8" y1="814.7" x2="1047.7" y2="857.7" stroke="#000" stroke-width="1.30" stroke-linecap="round"/>
<line x1="817.4" y1="825.2" x2="921.3" y2="873.7" stroke="#000" stroke-width="1.30" stroke-linecap="round"/>
<line x1="1047.7" y1="857.7" x2="921.3" y2="873.7" stroke="#000" stroke-width="1.30" stroke-linecap="round"/>
<circle cx="943.8" cy="814.7" r="2.4"/>
<circle cx="817.4" cy="825.2" r="2.4"/>
<circle cx="1047.7" cy="857.7" r="2.4"/>
<circle cx="921.3" cy="873.7" r="2.4"/>
<polygon points="557.8,505.8 431.4,367.3 609.7,610.0" fill="url(#g25)" stroke="url(#g25)" stroke-width="1.2"/>
<polygon points="483.3,503.3 431.4,367.3 609.7,610.0" fill="url(#g26)" stroke="url(#g26)" stroke-width="1.2"/>
<line x1="557.8" y1="505.8" x2="431.4" y2="367.3" stroke="#000" stroke-width="1.30" stroke-linecap="round"/>
<line x1="557.8" y1="505.8" x2="609.7" y2="610.0" stroke="#000" stroke-width="1.30" stroke-linecap="round"/>
<line x1="431.4" y1="367.3" x2="483.3" y2="503.3" stroke="#000" stroke-width="1.30" stroke-linecap="round"/>
<line x1="609.7" y1="610.0" x2="483.3" y2="503.3" stroke="#000" stroke-width="1.30" stroke-linecap="round"/>
<circle cx="557.8" cy="505.8" r="2.4"/>
<circle cx="431.4" cy="367.3" r="2.4"/>
<circle cx="609.7" cy="610.0" r="2.4"/>
<circle cx="483.3" cy="503.3" r="2.4"/>
<polygon points="609.7,610.0 483.3,503.3 661.7,690.0" fill="url(#g27)" stroke="url(#g27)" stroke-width="1.2"/>
<polygon points="535.2,640.7 483.3,503.3 661.7,690.0" fill="url(#g28)" stroke="url(#g28)" stroke-width="1.2"/>
<line x1="609.7" y1="610.0" x2="483.3" y2="503.3" stroke="#000" stroke-width="1.30" stroke-linecap="round"/>
<line x1="609.7" y1="610.0" x2="661.7" y2="690.0" stroke="#000" stroke-width="1.30" stroke-linecap="round"/>
<line x1="483.3" y1="503.3" x2="535.2" y2="640.7" stroke="#000" stroke-width="1.30" stroke-linecap="round"/>
<line x1="661.7" y1="690.0" x2="535.2" y2="640.7" stroke="#000" stroke-width="1.30" stroke-linecap="round"/>
<circle cx="609.7" cy="610.0" r="2.4"/>
<circle cx="483.3" cy="503.3" r="2.4"/>
<circle cx="661.7" cy="690.0" r="2.4"/>
<circle cx="535.2" cy="640.7" r="2.4"/>
<polygon points="661.7,690.0 535.2,640.7 713.6,748.3" fill="url(#g29)" stroke="url(#g29)" stroke-width="1.2"/>
<polygon points="587.2,737.3 535.2,640.7 713.6,748.3" fill="url(#g30)" stroke="url(#g30)" stroke-width="1.2"/>
<line x1="661.7" y1="690.0" x2="535.2" y2="640.7" stroke="#000" stroke-width="1.30" stroke-linecap="round"/>
<line x1="661.7" y1="690.0" x2="713.6" y2="748.3" stroke="#000" stroke-width="1.30" stroke-linecap="round"/>
<line x1="535.2" y1="640.7" x2="587.2" y2="737.3" stroke="#000" stroke-width="1.30" stroke-linecap="round"/>
<line x1="713.6" y1="748.3" x2="587.2" y2="737.3" stroke="#000" stroke-width="1.30" stroke-linecap="round"/>
<circle cx="661.7" cy="690.0" r="2.4"/>
<circle cx="535.2" cy="640.7" r="2.4"/>
<circle cx="713.6" cy="748.3" r="2.4"/>
<circle cx="587.2" cy="737.3" r="2.4"/>
<polygon points="713.6,748.3 587.2,737.3 765.5,792.0" fill="url(#g31)" stroke="url(#g31)" stroke-width="1.2"/>
<polygon points="639.1,799.3 587.2,737.3 765.5,792.0" fill="url(#g32)" stroke="url(#g32)" stroke-width="1.2"/>
<line x1="713.6" y1="748.3" x2="587.2" y2="737.3" stroke="#000" stroke-width="1.30" stroke-linecap="round"/>
<line x1="713.6" y1="748.3" x2="765.5" y2="792.0" stroke="#000" stroke-width="1.30" stroke-linecap="round"/>
<line x1="587.2" y1="737.3" x2="639.1" y2="799.3" stroke="#000" stroke-width="1.30" stroke-linecap="round"/>
<line x1="765.5" y1="792.0" x2="639.1" y2="799.3" stroke="#000" stroke-width="1.30" stroke-linecap="round"/>
<circle cx="713.6" cy="748.3" r="2.4"/>
<circle cx="587.2" cy="737.3" r="2.4"/>
<circle cx="765.5" cy="792.0" r="2.4"/>
<circle cx="639.1" cy="799.3" r="2.4"/>
<polygon points="765.5,792.0 639.1,799.3 817.4,825.2" fill="url(#g33)" stroke="url(#g33)" stroke-width="1.2"/>
<polygon points="691.0,839.0 639.1,799.3 817.4,825.2" fill="url(#g34)" stroke="url(#g34)" stroke-width="1.2"/>
<line x1="765.5" y1="792.0" x2="639.1" y2="799.3" stroke="#000" stroke-width="1.30" stroke-linecap="round"/>
<line x1="765.5" y1="792.0" x2="817.4" y2="825.2" stroke="#000" stroke-width="1.30" stroke-linecap="round"/>
<line x1="639.1" y1="799.3" x2="691.0" y2="839.0" stroke="#000" stroke-width="1.30" stroke-linecap="round"/>
<line x1="817.4" y1="825.2" x2="691.0" y2="839.0" stroke="#000" stroke-width="1.30" stroke-linecap="round"/>
<circle cx="765.5" cy="792.0" r="2.4"/>
<circle cx="639.1" cy="799.3" r="2.4"/>
<circle cx="817.4" cy="825.2" r="2.4"/>
<circle cx="691.0" cy="839.0" r="2.4"/>
<polygon points="691.0,839.0 817.4,825.2 794.9,880.7" fill="url(#g35)" stroke="url(#g35)" stroke-width="1.2"/>
<polygon points="921.3,873.7 817.4,825.2 794.9,880.7" fill="url(#g36)" stroke="url(#g36)" stroke-width="1.2"/>
<line x1="817.4" y1="825.2" x2="691.0" y2="839.0" stroke="#000" stroke-width="1.30" stroke-linecap="round"/>
<line x1="691.0" y1="839.0" x2="794.9" y2="880.7" stroke="#000" stroke-width="1.30" stroke-linecap="round"/>
<line x1="817.4" y1="825.2" x2="921.3" y2="873.7" stroke="#000" stroke-width="1.30" stroke-linecap="round"/>
<line x1="921.3" y1="873.7" x2="794.9" y2="880.7" stroke="#000" stroke-width="1.30" stroke-linecap="round"/>
<circle cx="817.4" cy="825.2" r="2.4"/>
<circle cx="691.0" cy="839.0" r="2.4"/>
<circle cx="921.3" cy="873.7" r="2.4"/>
<circle cx="794.9" cy="880.7" r="2.4"/>
<polygon points="431.4,367.3 305.0,240.0 483.3,503.3" fill="url(#g37)" stroke="url(#g37)" stroke-width="1.2"/>
<polygon points="356.9,423.3 305.0,240.0 483.3,503.3" fill="url(#g38)" stroke="url(#g38)" stroke-width="1.2"/>
<line x1="431.4" y1="367.3" x2="305.0" y2="240.0" stroke="#000" stroke-width="1.30" stroke-linecap="round"/>
<line x1="431.4" y1="367.3" x2="483.3" y2="503.3" stroke="#000" stroke-width="1.30" stroke-linecap="round"/>
<line x1="305.0" y1="240.0" x2="356.9" y2="423.3" stroke="#000" stroke-width="1.30" stroke-linecap="round"/>
<line x1="483.3" y1="503.3" x2="356.9" y2="423.3" stroke="#000" stroke-width="1.30" stroke-linecap="round"/>
<circle cx="431.4" cy="367.3" r="2.4"/>
<circle cx="305.0" cy="240.0" r="2.4"/>
<circle cx="483.3" cy="503.3" r="2.4"/>
<circle cx="356.9" cy="423.3" r="2.4"/>
<polygon points="483.3,503.3 356.9,423.3 535.2,640.7" fill="url(#g39)" stroke="url(#g39)" stroke-width="1.2"/>
<polygon points="408.9,600.3 356.9,423.3 535.2,640.7" fill="url(#g40)" stroke="url(#g40)" stroke-width="1.2"/>
<line x1="483.3" y1="503.3" x2="356.9" y2="423.3" stroke="#000" stroke-width="1.30" stroke-linecap="round"/>
<line x1="483.3" y1="503.3" x2="535.2" y2="640.7" stroke="#000" stroke-width="1.30" stroke-linecap="round"/>
<line x1="356.9" y1="423.3" x2="408.9" y2="600.3" stroke="#000" stroke-width="1.30" stroke-linecap="round"/>
<line x1="535.2" y1="640.7" x2="408.9" y2="600.3" stroke="#000" stroke-width="1.30" stroke-linecap="round"/>
<circle cx="483.3" cy="503.3" r="2.4"/>
<circle cx="356.9" cy="423.3" r="2.4"/>
<circle cx="535.2" cy="640.7" r="2.4"/>
<circle cx="408.9" cy="600.3" r="2.4"/>
<polygon points="535.2,640.7 408.9,600.3 587.2,737.3" fill="url(#g41)" stroke="url(#g41)" stroke-width="1.2"/>
<polygon points="460.8,736.0 408.9,600.3 587.2,737.3" fill="url(#g42)" stroke="url(#g42)" stroke-width="1.2"/>
<line x1="535.2" y1="640.7" x2="408.9" y2="600.3" stroke="#000" stroke-width="1.30" stroke-linecap="round"/>
<line x1="535.2" y1="640.7" x2="587.2" y2="737.3" stroke="#000" stroke-width="1.30" stroke-linecap="round"/>
<line x1="408.9" y1="600.3" x2="460.8" y2="736.0" stroke="#000" stroke-width="1.30" stroke-linecap="round"/>
<line x1="587.2" y1="737.3" x2="460.8" y2="736.0" stroke="#000" stroke-width="1.30" stroke-linecap="round"/>
<circle cx="535.2" cy="640.7" r="2.4"/>
<circle cx="408.9" cy="600.3" r="2.4"/>
<circle cx="587.2" cy="737.3" r="2.4"/>
<circle cx="460.8" cy="736.0" r="2.4"/>
<polygon points="587.2,737.3 460.8,736.0 639.1,799.3" fill="url(#g43)" stroke="url(#g43)" stroke-width="1.2"/>
<polygon points="512.7,813.3 460.8,736.0 639.1,799.3" fill="url(#g44)" stroke="url(#g44)" stroke-width="1.2"/>
<line x1="587.2" y1="737.3" x2="460.8" y2="736.0" stroke="#000" stroke-width="1.30" stroke-linecap="round"/>
<line x1="587.2" y1="737.3" x2="639.1" y2="799.3" stroke="#000" stroke-width="1.30" stroke-linecap="round"/>
<line x1="460.8" y1="736.0" x2="512.7" y2="813.3" stroke="#000" stroke-width="1.30" stroke-linecap="round"/>
<line x1="639.1" y1="799.3" x2="512.7" y2="813.3" stroke="#000" stroke-width="1.30" stroke-linecap="round"/>
<circle cx="587.2" cy="737.3" r="2.4"/>
<circle cx="460.8" cy="736.0" r="2.4"/>
<circle cx="639.1" cy="799.3" r="2.4"/>
<circle cx="512.7" cy="813.3" r="2.4"/>
<polygon points="639.1,799.3 512.7,813.3 691.0,839.0" fill="url(#g45)" stroke="url(#g45)" stroke-width="1.2"/>
<polygon points="564.6,854.0 512.7,813.3 691.0,839.0" fill="url(#g46)" stroke="url(#g46)" stroke-width="1.2"/>
<line x1="639.1" y1="799.3" x2="512.7" y2="813.3" stroke="#000" stroke-width="1.30" stroke-linecap="round"/>
<line x1="639.1" y1="799.3" x2="691.0" y2="839.0" stroke="#000" stroke-width="1.30" stroke-linecap="round"/>
<line x1="512.7" y1="813.3" x2="564.6" y2="854.0" stroke="#000" stroke-width="1.30" stroke-linecap="round"/>
<line x1="691.0" y1="839.0" x2="564.6" y2="854.0" stroke="#000" stroke-width="1.30" stroke-linecap="round"/>
<circle cx="639.1" cy="799.3" r="2.4"/>
<circle cx="512.7" cy="813.3" r="2.4"/>
<circle cx="691.0" cy="839.0" r="2.4"/>
<circle cx="564.6" cy="854.0" r="2.4"/>
<polygon points="691.0,839.0 564.6,854.0 794.9,880.7" fill="url(#g47)" stroke="url(#g47)" stroke-width="1.2"/>
<polygon points="668.5,903.0 564.6,854.0 794.9,880.7" fill="url(#g48)" stroke="url(#g48)" stroke-width="1.2"/>
<line x1="691.0" y1="839.0" x2="564.6" y2="854.0" stroke="#000" stroke-width="1.30" stroke-linecap="round"/>
<line x1="691.0" y1="839.0" x2="794.9" y2="880.7" stroke="#000" stroke-width="1.30" stroke-linecap="round"/>
<line x1="564.6" y1="854.0" x2="668.5" y2="903.0" stroke="#000" stroke-width="1.30" stroke-linecap="round"/>
<line x1="794.9" y1="880.7" x2="668.5" y2="903.0" stroke="#000" stroke-width="1.30" stroke-linecap="round"/>
<circle cx="691.0" cy="839.0" r="2.4"/>
<circle cx="564.6" cy="854.0" r="2.4"/>
<circle cx="794.9" cy="880.7" r="2.4"/>
<circle cx="668.5" cy="903.0" r="2.4"/>
<polygon points="810.6,578.5 684.2,459.0 862.5,594.5" fill="url(#g49)" stroke="url(#g49)" stroke-width="1.2"/>
<circle cx="684.2" cy="459.0" r="2.4"/>
<polygon points="736.1,518.3 684.2,459.0 862.5,594.5" fill="url(#g50)" stroke="url(#g50)" stroke-width="1.2"/>
<line x1="684.2" y1="459.0" x2="736.1" y2="518.3" stroke="#000" stroke-width="1.30" stroke-linecap="round"/>
<circle cx="736.1" cy="518.3" r="2.4"/>
<circle cx="684.2" cy="459.0" r="2.4"/>
<polygon points="862.5,594.5 736.1,518.3 914.5,610.6" fill="url(#g51)" stroke="url(#g51)" stroke-width="1.2"/>
<circle cx="736.1" cy="518.3" r="2.4"/>
<circle cx="914.5" cy="610.6" r="2.4"/>
<polygon points="788.0,563.4 736.1,518.3 914.5,610.6" fill="url(#g52)" stroke="url(#g52)" stroke-width="1.2"/>
<line x1="736.1" y1="518.3" x2="788.0" y2="563.4" stroke="#000" stroke-width="1.30" stroke-linecap="round"/>
<circle cx="788.0" cy="563.4" r="2.4"/>
<circle cx="736.1" cy="518.3" r="2.4"/>
<circle cx="914.5" cy="610.6" r="2.4"/>
<polygon points="914.5,610.6 788.0,563.4 966.4,626.7" fill="url(#g53)" stroke="url(#g53)" stroke-width="1.2"/>
<line x1="914.5" y1="610.6" x2="966.4" y2="626.7" stroke="#000" stroke-width="1.30" stroke-linecap="round"/>
<circle cx="914.5" cy="610.6" r="2.4"/>
<circle cx="788.0" cy="563.4" r="2.4"/>
<circle cx="966.4" cy="626.7" r="2.4"/>
<polygon points="840.0,599.2 788.0,563.4 966.4,626.7" fill="url(#g54)" stroke="url(#g54)" stroke-width="1.2"/>
<line x1="788.0" y1="563.4" x2="840.0" y2="599.2" stroke="#000" stroke-width="1.30" stroke-linecap="round"/>
<line x1="966.4" y1="626.7" x2="840.0" y2="599.2" stroke="#000" stroke-width="1.30" stroke-linecap="round"/>
<circle cx="840.0" cy="599.2" r="2.4"/>
<circle cx="788.0" cy="563.4" r="2.4"/>
<circle cx="966.4" cy="626.7" r="2.4"/>
<polygon points="966.4,626.7 840.0,599.2 1018.3,642.8" fill="url(#g55)" stroke="url(#g55)" stroke-width="1.2"/>
<polygon points="891.9,629.5 840.0,599.2 1018.3,642.8" fill="url(#g56)" stroke="url(#g56)" stroke-width="1.2"/>
<line x1="966.4" y1="626.7" x2="840.0" y2="599.2" stroke="#000" stroke-width="1.30" stroke-linecap="round"/>
<line x1="966.4" y1="626.7" x2="1018.3" y2="642.8" stroke="#000" stroke-width="1.30" stroke-linecap="round"/>
<line x1="840.0" y1="599.2" x2="891.9" y2="629.5" stroke="#000" stroke-width="1.30" stroke-linecap="round"/>
<line x1="1018.3" y1="642.8" x2="891.9" y2="629.5" stroke="#000" stroke-width="1.30" stroke-linecap="round"/>
<circle cx="966.4" cy="626.7" r="2.4"/>
<circle cx="840.0" cy="599.2" r="2.4"/>
<circle cx="1018.3" cy="642.8" r="2.4"/>
<circle cx="891.9" cy="629.5" r="2.4"/>
<polygon points="1018.3,642.8 891.9,629.5 1070.2,658.8" fill="url(#g57)" stroke="url(#g57)" stroke-width="1.2"/>
<polygon points="943.8,656.0 891.9,629.5 1070.2,658.8" fill="url(#g58)" stroke="url(#g58)" stroke-width="1.2"/>
<line x1="1018.3" y1="642.8" x2="891.9" y2="629.5" stroke="#000" stroke-width="1.30" stroke-linecap="round"/>
<line x1="1018.3" y1="642.8" x2="1070.2" y2="658.8" stroke="#000" stroke-width="1.30" stroke-linecap="round"/>
<line x1="891.9" y1="629.5" x2="943.8" y2="656.0" stroke="#000" stroke-width="1.30" stroke-linecap="round"/>
<line x1="1070.2" y1="658.8" x2="943.8" y2="656.0" stroke="#000" stroke-width="1.30" stroke-linecap="round"/>
<circle cx="1018.3" cy="642.8" r="2.4"/>
<circle cx="891.9" cy="629.5" r="2.4"/>
<circle cx="1070.2" cy="658.8" r="2.4"/>
<circle cx="943.8" cy="656.0" r="2.4"/>
<polygon points="1070.2,658.8 943.8,656.0 1174.1,691.0" fill="url(#g59)" stroke="url(#g59)" stroke-width="1.2"/>
<polygon points="1047.7,702.3 943.8,656.0 1174.1,691.0" fill="url(#g60)" stroke="url(#g60)" stroke-width="1.2"/>
<line x1="1070.2" y1="658.8" x2="943.8" y2="656.0" stroke="#000" stroke-width="1.30" stroke-linecap="round"/>
<line x1="1070.2" y1="658.8" x2="1174.1" y2="691.0" stroke="#000" stroke-width="1.30" stroke-linecap="round"/>
<line x1="943.8" y1="656.0" x2="1047.7" y2="702.3" stroke="#000" stroke-width="1.30" stroke-linecap="round"/>
<line x1="1174.1" y1="691.0" x2="1047.7" y2="702.3" stroke="#000" stroke-width="1.30" stroke-linecap="round"/>
<circle cx="1070.2" cy="658.8" r="2.4"/>
<circle cx="943.8" cy="656.0" r="2.4"/>
<circle cx="1174.1" cy="691.0" r="2.4"/>
<circle cx="1047.7" cy="702.3" r="2.4"/>
<polygon points="684.2,459.0 557.8,320.3 736.1,518.3" fill="url(#g61)" stroke="url(#g61)" stroke-width="1.2"/>
<polygon points="609.7,421.0 557.8,320.3 736.1,518.3" fill="url(#g62)" stroke="url(#g62)" stroke-width="1.2"/>
<line x1="684.2" y1="459.0" x2="557.8" y2="320.3" stroke="#000" stroke-width="1.30" stroke-linecap="round"/>
<line x1="684.2" y1="459.0" x2="736.1" y2="518.3" stroke="#000" stroke-width="1.30" stroke-linecap="round"/>
<line x1="557.8" y1="320.3" x2="609.7" y2="421.0" stroke="#000" stroke-width="1.30" stroke-linecap="round"/>
<line x1="736.1" y1="518.3" x2="609.7" y2="421.0" stroke="#000" stroke-width="1.30" stroke-linecap="round"/>
<circle cx="684.2" cy="459.0" r="2.4"/>
<circle cx="557.8" cy="320.3" r="2.4"/>
<circle cx="736.1" cy="518.3" r="2.4"/>
<circle cx="609.7" cy="421.0" r="2.4"/>
<polygon points="736.1,518.3 609.7,421.0 788.0,563.4" fill="url(#g63)" stroke="url(#g63)" stroke-width="1.2"/>
<polygon points="661.7,511.3 609.7,421.0 788.0,563.4" fill="url(#g64)" stroke="url(#g64)" stroke-width="1.2"/>
<line x1="736.1" y1="518.3" x2="609.7" y2="421.0" stroke="#000" stroke-width="1.30" stroke-linecap="round"/>
<line x1="736.1" y1="518.3" x2="788.0" y2="563.4" stroke="#000" stroke-width="1.30" stroke-linecap="round"/>
<line x1="609.7" y1="421.0" x2="661.7" y2="511.3" stroke="#000" stroke-width="1.30" stroke-linecap="round"/>
<line x1="788.0" y1="563.4" x2="661.7" y2="511.3" stroke="#000" stroke-width="1.30" stroke-linecap="round"/>
<circle cx="736.1" cy="518.3" r="2.4"/>
<circle cx="609.7" cy="421.0" r="2.4"/>
<circle cx="788.0" cy="563.4" r="2.4"/>
<circle cx="661.7" cy="511.3" r="2.4"/>
<polygon points="788.0,563.4 661.7,511.3 840.0,599.2" fill="url(#g65)" stroke="url(#g65)" stroke-width="1.2"/>
<polygon points="713.6,579.2 661.7,511.3 840.0,599.2" fill="url(#g66)" stroke="url(#g66)" stroke-width="1.2"/>
<line x1="788.0" y1="563.4" x2="661.7" y2="511.3" stroke="#000" stroke-width="1.30" stroke-linecap="round"/>
<line x1="788.0" y1="563.4" x2="840.0" y2="599.2" stroke="#000" stroke-width="1.30" stroke-linecap="round"/>
<line x1="661.7" y1="511.3" x2="713.6" y2="579.2" stroke="#000" stroke-width="1.30" stroke-linecap="round"/>
<line x1="840.0" y1="599.2" x2="713.6" y2="579.2" stroke="#000" stroke-width="1.30" stroke-linecap="round"/>
<circle cx="788.0" cy="563.4" r="2.4"/>
<circle cx="661.7" cy="511.3" r="2.4"/>
<circle cx="840.0" cy="599.2" r="2.4"/>
<circle cx="713.6" cy="579.2" r="2.4"/>
<polygon points="840.0,599.2 713.6,579.2 891.9,629.5" fill="url(#g67)" stroke="url(#g67)" stroke-width="1.2"/>
<polygon points="765.5,630.0 713.6,579.2 891.9,629.5" fill="url(#g68)" stroke="url(#g68)" stroke-width="1.2"/>
<line x1="840.0" y1="599.2" x2="713.6" y2="579.2" stroke="#000" stroke-width="1.30" stroke-linecap="round"/>
<line x1="840.0" y1="599.2" x2="891.9" y2="629.5" stroke="#000" stroke-width="1.30" stroke-linecap="round"/>
<line x1="713.6" y1="579.2" x2="765.5" y2="630.0" stroke="#000" stroke-width="1.30" stroke-linecap="round"/>
<line x1="891.9" y1="629.5" x2="765.5" y2="630.0" stroke="#000" stroke-width="1.30" stroke-linecap="round"/>
<circle cx="840.0" cy="599.2" r="2.4"/>
<circle cx="713.6" cy="579.2" r="2.4"/>
<circle cx="891.9" cy="629.5" r="2.4"/>
<circle cx="765.5" cy="630.0" r="2.4"/>
<polygon points="891.9,629.5 765.5,630.0 943.8,656.0" fill="url(#g69)" stroke="url(#g69)" stroke-width="1.2"/>
<polygon points="817.4,668.3 765.5,630.0 943.8,656.0" fill="url(#g70)" stroke="url(#g70)" stroke-width="1.2"/>
<line x1="891.9" y1="629.5" x2="765.5" y2="630.0" stroke="#000" stroke-width="1.30" stroke-linecap="round"/>
<line x1="891.9" y1="629.5" x2="943.8" y2="656.0" stroke="#000" stroke-width="1.30" stroke-linecap="round"/>
<line x1="765.5" y1="630.0" x2="817.4" y2="668.3" stroke="#000" stroke-width="1.30" stroke-linecap="round"/>
<line x1="943.8" y1="656.0" x2="817.4" y2="668.3" stroke="#000" stroke-width="1.30" stroke-linecap="round"/>
<circle cx="891.9" cy="629.5" r="2.4"/>
<circle cx="765.5" cy="630.0" r="2.4"/>
<circle cx="943.8" cy="656.0" r="2.4"/>
<circle cx="817.4" cy="668.3" r="2.4"/>
<polygon points="943.8,656.0 817.4,668.3 1047.7,702.3" fill="url(#g71)" stroke="url(#g71)" stroke-width="1.2"/>
<polygon points="921.3,720.7 817.4,668.3 1047.7,702.3" fill="url(#g72)" stroke="url(#g72)" stroke-width="1.2"/>
<line x1="943.8" y1="656.0" x2="817.4" y2="668.3" stroke="#000" stroke-width="1.30" stroke-linecap="round"/>
<line x1="943.8" y1="656.0" x2="1047.7" y2="702.3" stroke="#000" stroke-width="1.30" stroke-linecap="round"/>
<line x1="817.4" y1="668.3" x2="921.3" y2="720.7" stroke="#000" stroke-width="1.30" stroke-linecap="round"/>
<line x1="1047.7" y1="702.3" x2="921.3" y2="720.7" stroke="#000" stroke-width="1.30" stroke-linecap="round"/>
<circle cx="943.8" cy="656.0" r="2.4"/>
<circle cx="817.4" cy="668.3" r="2.4"/>
<circle cx="1047.7" cy="702.3" r="2.4"/>
<circle cx="921.3" cy="720.7" r="2.4"/>
<polygon points="557.8,320.3 431.4,198.3 609.7,421.0" fill="url(#g73)" stroke="url(#g73)" stroke-width="1.2"/>
<polygon points="483.3,350.7 431.4,198.3 609.7,421.0" fill="url(#g74)" stroke="url(#g74)" stroke-width="1.2"/>
<line x1="557.8" y1="320.3" x2="431.4" y2="198.3" stroke="#000" stroke-width="1.30" stroke-linecap="round"/>
<line x1="557.8" y1="320.3" x2="609.7" y2="421.0" stroke="#000" stroke-width="1.30" stroke-linecap="round"/>
<line x1="431.4" y1="198.3" x2="483.3" y2="350.7" stroke="#000" stroke-width="1.30" stroke-linecap="round"/>
<line x1="609.7" y1="421.0" x2="483.3" y2="350.7" stroke="#000" stroke-width="1.30" stroke-linecap="round"/>
<circle cx="557.8" cy="320.3" r="2.4"/>
<circle cx="431.4" cy="198.3" r="2.4"/>
<circle cx="609.7" cy="421.0" r="2.4"/>
<circle cx="483.3" cy="350.7" r="2.4"/>
<polygon points="609.7,421.0 483.3,350.7 661.7,511.3" fill="url(#g75)" stroke="url(#g75)" stroke-width="1.2"/>
<polygon points="535.2,479.3 483.3,350.7 661.7,511.3" fill="url(#g76)" stroke="url(#g76)" stroke-width="1.2"/>
<line x1="609.7" y1="421.0" x2="483.3" y2="350.7" stroke="#000" stroke-width="1.30" stroke-linecap="round"/>
<line x1="609.7" y1="421.0" x2="661.7" y2="511.3" stroke="#000" stroke-width="1.30" stroke-linecap="round"/>
<line x1="483.3" y1="350.7" x2="535.2" y2="479.3" stroke="#000" stroke-width="1.30" stroke-linecap="round"/>
<line x1="661.7" y1="511.3" x2="535.2" y2="479.3" stroke="#000" stroke-width="1.30" stroke-linecap="round"/>
<circle cx="609.7" cy="421.0" r="2.4"/>
<circle cx="483.3" cy="350.7" r="2.4"/>
<circle cx="661.7" cy="511.3" r="2.4"/>
<circle cx="535.2" cy="479.3" r="2.4"/>
<polygon points="661.7,511.3 535.2,479.3 713.6,579.2" fill="url(#g77)" stroke="url(#g77)" stroke-width="1.2"/>
<polygon points="587.2,578.3 535.2,479.3 713.6,579.2" fill="url(#g78)" stroke="url(#g78)" stroke-width="1.2"/>
<line x1="661.7" y1="511.3" x2="535.2" y2="479.3" stroke="#000" stroke-width="1.30" stroke-linecap="round"/>
<line x1="661.7" y1="511.3" x2="713.6" y2="579.2" stroke="#000" stroke-width="1.30" stroke-linecap="round"/>
<line x1="535.2" y1="479.3" x2="587.2" y2="578.3" stroke="#000" stroke-width="1.30" stroke-linecap="round"/>
<line x1="713.6" y1="579.2" x2="587.2" y2="578.3" stroke="#000" stroke-width="1.30" stroke-linecap="round"/>
<circle cx="661.7" cy="511.3" r="2.4"/>
<circle cx="535.2" cy="479.3" r="2.4"/>
<circle cx="713.6" cy="579.2" r="2.4"/>
<circle cx="587.2" cy="578.3" r="2.4"/>
<polygon points="713.6,579.2 587.2,578.3 765.5,630.0" fill="url(#g79)" stroke="url(#g79)" stroke-width="1.2"/>
<polygon points="639.1,645.0 587.2,578.3 765.5,630.0" fill="url(#g80)" stroke="url(#g80)" stroke-width="1.2"/>
<line x1="713.6" y1="579.2" x2="587.2" y2="578.3" stroke="#000" stroke-width="1.30" stroke-linecap="round"/>
<line x1="713.6" y1="579.2" x2="765.5" y2="630.0" stroke="#000" stroke-width="1.30" stroke-linecap="round"/>
<line x1="587.2" y1="578.3" x2="639.1" y2="645.0" stroke="#000" stroke-width="1.30" stroke-linecap="round"/>
<line x1="765.5" y1="630.0" x2="639.1" y2="645.0" stroke="#000" stroke-width="1.30" stroke-linecap="round"/>
<circle cx="713.6" cy="579.2" r="2.4"/>
<circle cx="587.2" cy="578.3" r="2.4"/>
<circle cx="765.5" cy="630.0" r="2.4"/>
<circle cx="639.1" cy="645.0" r="2.4"/>
<polygon points="765.5,630.0 639.1,645.0 817.4,668.3" fill="url(#g81)" stroke="url(#g81)" stroke-width="1.2"/>
<polygon points="691.0,686.7 639.1,645.0 817.4,668.3" fill="url(#g82)" stroke="url(#g82)" stroke-width="1.2"/>
<line x1="765.5" y1="630.0" x2="639.1" y2="645.0" stroke="#000" stroke-width="1.30" stroke-linecap="round"/>
<line x1="765.5" y1="630.0" x2="817.4" y2="668.3" stroke="#000" stroke-width="1.30" stroke-linecap="round"/>
<line x1="639.1" y1="645.0" x2="691.0" y2="686.7" stroke="#000" stroke-width="1.30" stroke-linecap="round"/>
<line x1="817.4" y1="668.3" x2="691.0" y2="686.7" stroke="#000" stroke-width="1.30" stroke-linecap="round"/>
<circle cx="765.5" cy="630.0" r="2.4"/>
<circle cx="639.1" cy="645.0" r="2.4"/>
<circle cx="817.4" cy="668.3" r="2.4"/>
<circle cx="691.0" cy="686.7" r="2.4"/>
<polygon points="691.0,686.7 817.4,668.3 794.9,726.7" fill="url(#g83)" stroke="url(#g83)" stroke-width="1.2"/>
<polygon points="921.3,720.7 817.4,668.3 794.9,726.7" fill="url(#g84)" stroke="url(#g84)" stroke-width="1.2"/>
<line x1="817.4" y1="668.3" x2="691.0" y2="686.7" stroke="#000" stroke-width="1.30" stroke-linecap="round"/>
<line x1="691.0" y1="686.7" x2="794.9" y2="726.7" stroke="#000" stroke-width="1.30" stroke-linecap="round"/>
<line x1="817.4" y1="668.3" x2="921.3" y2="720.7" stroke="#000" stroke-width="1.30" stroke-linecap="round"/>
<line x1="921.3" y1="720.7" x2="794.9" y2="726.7" stroke="#000" stroke-width="1.30" stroke-linecap="round"/>
<circle cx="817.4" cy="668.3" r="2.4"/>
<circle cx="691.0" cy="686.7" r="2.4"/>
<circle cx="921.3" cy="720.7" r="2.4"/>
<circle cx="794.9" cy="726.7" r="2.4"/>
<polygon points="810.6,379.8 684.2,255.0 862.5,395.8" fill="url(#g85)" stroke="url(#g85)" stroke-width="1.2"/>
<circle cx="684.2" cy="255.0" r="2.4"/>
<polygon points="736.1,310.7 684.2,255.0 862.5,395.8" fill="url(#g86)" stroke="url(#g86)" stroke-width="1.2"/>
<line x1="684.2" y1="255.0" x2="736.1" y2="310.7" stroke="#000" stroke-width="1.30" stroke-linecap="round"/>
<circle cx="736.1" cy="310.7" r="2.4"/>
<circle cx="684.2" cy="255.0" r="2.4"/>
<polygon points="862.5,395.8 736.1,310.7 914.5,411.9" fill="url(#g87)" stroke="url(#g87)" stroke-width="1.2"/>
<circle cx="736.1" cy="310.7" r="2.4"/>
<polygon points="788.0,358.3 736.1,310.7 914.5,411.9" fill="url(#g88)" stroke="url(#g88)" stroke-width="1.2"/>
<line x1="736.1" y1="310.7" x2="788.0" y2="358.3" stroke="#000" stroke-width="1.30" stroke-linecap="round"/>
<circle cx="788.0" cy="358.3" r="2.4"/>
<circle cx="736.1" cy="310.7" r="2.4"/>
<polygon points="914.5,411.9 788.0,358.3 966.4,428.0" fill="url(#g89)" stroke="url(#g89)" stroke-width="1.2"/>
<circle cx="788.0" cy="358.3" r="2.4"/>
<circle cx="966.4" cy="428.0" r="2.4"/>
<polygon points="840.0,397.3 788.0,358.3 966.4,428.0" fill="url(#g90)" stroke="url(#g90)" stroke-width="1.2"/>
<line x1="788.0" y1="358.3" x2="840.0" y2="397.3" stroke="#000" stroke-width="1.30" stroke-linecap="round"/>
<line x1="966.4" y1="428.0" x2="840.0" y2="397.3" stroke="#000" stroke-width="1.30" stroke-linecap="round"/>
<circle cx="840.0" cy="397.3" r="2.4"/>
<circle cx="788.0" cy="358.3" r="2.4"/>
<circle cx="966.4" cy="428.0" r="2.4"/>
<polygon points="966.4,428.0 840.0,397.3 1018.3,444.1" fill="url(#g91)" stroke="url(#g91)" stroke-width="1.2"/>
<polygon points="891.9,430.3 840.0,397.3 1018.3,444.1" fill="url(#g92)" stroke="url(#g92)" stroke-width="1.2"/>
<line x1="966.4" y1="428.0" x2="840.0" y2="397.3" stroke="#000" stroke-width="1.30" stroke-linecap="round"/>
<line x1="966.4" y1="428.0" x2="1018.3" y2="444.1" stroke="#000" stroke-width="1.30" stroke-linecap="round"/>
<line x1="840.0" y1="397.3" x2="891.9" y2="430.3" stroke="#000" stroke-width="1.30" stroke-linecap="round"/>
<line x1="1018.3" y1="444.1" x2="891.9" y2="430.3" stroke="#000" stroke-width="1.30" stroke-linecap="round"/>
<circle cx="966.4" cy="428.0" r="2.4"/>
<circle cx="840.0" cy="397.3" r="2.4"/>
<circle cx="1018.3" cy="444.1" r="2.4"/>
<circle cx="891.9" cy="430.3" r="2.4"/>
<polygon points="1018.3,444.1 891.9,430.3 1070.2,460.1" fill="url(#g93)" stroke="url(#g93)" stroke-width="1.2"/>
<polygon points="943.8,459.3 891.9,430.3 1070.2,460.1" fill="url(#g94)" stroke="url(#g94)" stroke-width="1.2"/>
<line x1="1018.3" y1="444.1" x2="891.9" y2="430.3" stroke="#000" stroke-width="1.30" stroke-linecap="round"/>
<line x1="1018.3" y1="444.1" x2="1070.2" y2="460.1" stroke="#000" stroke-width="1.30" stroke-linecap="round"/>
<line x1="891.9" y1="430.3" x2="943.8" y2="459.3" stroke="#000" stroke-width="1.30" stroke-linecap="round"/>
<line x1="1070.2" y1="460.1" x2="943.8" y2="459.3" stroke="#000" stroke-width="1.30" stroke-linecap="round"/>
<circle cx="1018.3" cy="444.1" r="2.4"/>
<circle cx="891.9" cy="430.3" r="2.4"/>
<circle cx="1070.2" cy="460.1" r="2.4"/>
<circle cx="943.8" cy="459.3" r="2.4"/>
<polygon points="1070.2,460.1 943.8,459.3 1174.1,492.3" fill="url(#g95)" stroke="url(#g95)" stroke-width="1.2"/>
<polygon points="1047.7,508.7 943.8,459.3 1174.1,492.3" fill="url(#g96)" stroke="url(#g96)" stroke-width="1.2"/>
<line x1="1070.2" y1="460.1" x2="943.8" y2="459.3" stroke="#000" stroke-width="1.30" stroke-linecap="round"/>
<line x1="1070.2" y1="460.1" x2="1174.1" y2="492.3" stroke="#000" stroke-width="1.30" stroke-linecap="round"/>
<line x1="943.8" y1="459.3" x2="1047.7" y2="508.7" stroke="#000" stroke-width="1.30" stroke-linecap="round"/>
<line x1="1174.1" y1="492.3" x2="1047.7" y2="508.7" stroke="#000" stroke-width="1.30" stroke-linecap="round"/>
<circle cx="1070.2" cy="460.1" r="2.4"/>
<circle cx="943.8" cy="459.3" r="2.4"/>
<circle cx="1174.1" cy="492.3" r="2.4"/>
<circle cx="1047.7" cy="508.7" r="2.4"/>
<polygon points="684.2,255.0 557.8,190.0 736.1,310.7" fill="url(#g97)" stroke="url(#g97)" stroke-width="1.2"/>
<polygon points="609.7,277.3 557.8,190.0 736.1,310.7" fill="url(#g98)" stroke="url(#g98)" stroke-width="1.2"/>
<line x1="684.2" y1="255.0" x2="557.8" y2="190.0" stroke="#000" stroke-width="1.30" stroke-linecap="round"/>
<line x1="684.2" y1="255.0" x2="736.1" y2="310.7" stroke="#000" stroke-width="1.30" stroke-linecap="round"/>
<line x1="557.8" y1="190.0" x2="609.7" y2="277.3" stroke="#000" stroke-width="1.30" stroke-linecap="round"/>
<line x1="736.1" y1="310.7" x2="609.7" y2="277.3" stroke="#000" stroke-width="1.30" stroke-linecap="round"/>
<circle cx="684.2" cy="255.0" r="2.4"/>
<circle cx="557.8" cy="190.0" r="2.4"/>
<circle cx="736.1" cy="310.7" r="2.4"/>
<circle cx="609.7" cy="277.3" r="2.4"/>
<polygon points="736.1,310.7 609.7,277.3 788.0,358.3" fill="url(#g99)" stroke="url(#g99)" stroke-width="1.2"/>
<polygon points="661.7,342.0 609.7,277.3 788.0,358.3" fill="url(#g100)" stroke="url(#g100)" stroke-width="1.2"/>
<line x1="736.1" y1="310.7" x2="609.7" y2="277.3" stroke="#000" stroke-width="1.30" stroke-linecap="round"/>
<line x1="736.1" y1="310.7" x2="788.0" y2="358.3" stroke="#000" stroke-width="1.30" stroke-linecap="round"/>
<line x1="609.7" y1="277.3" x2="661.7" y2="342.0" stroke="#000" stroke-width="1.30" stroke-linecap="round"/>
<line x1="788.0" y1="358.3" x2="661.7" y2="342.0" stroke="#000" stroke-width="1.30" stroke-linecap="round"/>
<circle cx="736.1" cy="310.7" r="2.4"/>
<circle cx="609.7" cy="277.3" r="2.4"/>
<circle cx="788.0" cy="358.3" r="2.4"/>
<circle cx="661.7" cy="342.0" r="2.4"/>
<polygon points="788.0,358.3 661.7,342.0 840.0,397.3" fill="url(#g101)" stroke="url(#g101)" stroke-width="1.2"/>
<polygon points="713.6,401.8 661.7,342.0 840.0,397.3" fill="url(#g102)" stroke="url(#g102)" stroke-width="1.2"/>
<line x1="788.0" y1="358.3" x2="661.7" y2="342.0" stroke="#000" stroke-width="1.30" stroke-linecap="round"/>
<line x1="788.0" y1="358.3" x2="840.0" y2="397.3" stroke="#000" stroke-width="1.30" stroke-linecap="round"/>
<line x1="661.7" y1="342.0" x2="713.6" y2="401.8" stroke="#000" stroke-width="1.30" stroke-linecap="round"/>
<line x1="840.0" y1="397.3" x2="713.6" y2="401.8" stroke="#000" stroke-width="1.30" stroke-linecap="round"/>
<circle cx="788.0" cy="358.3" r="2.4"/>
<circle cx="661.7" cy="342.0" r="2.4"/>
<circle cx="840.0" cy="397.3" r="2.4"/>
<circle cx="713.6" cy="401.8" r="2.4"/>
<polygon points="840.0,397.3 713.6,401.8 891.9,430.3" fill="url(#g103)" stroke="url(#g103)" stroke-width="1.2"/>
<polygon points="765.5,450.0 713.6,401.8 891.9,430.3" fill="url(#g104)" stroke="url(#g104)" stroke-width="1.2"/>
<line x1="840.0" y1="397.3" x2="713.6" y2="401.8" stroke="#000" stroke-width="1.30" stroke-linecap="round"/>
<line x1="840.0" y1="397.3" x2="891.9" y2="430.3" stroke="#000" stroke-width="1.30" stroke-linecap="round"/>
<line x1="713.6" y1="401.8" x2="765.5" y2="450.0" stroke="#000" stroke-width="1.30" stroke-linecap="round"/>
<line x1="891.9" y1="430.3" x2="765.5" y2="450.0" stroke="#000" stroke-width="1.30" stroke-linecap="round"/>
<circle cx="840.0" cy="397.3" r="2.4"/>
<circle cx="713.6" cy="401.8" r="2.4"/>
<circle cx="891.9" cy="430.3" r="2.4"/>
<circle cx="765.5" cy="450.0" r="2.4"/>
<polygon points="891.9,430.3 765.5,450.0 943.8,459.3" fill="url(#g105)" stroke="url(#g105)" stroke-width="1.2"/>
<polygon points="817.4,485.7 765.5,450.0 943.8,459.3" fill="url(#g106)" stroke="url(#g106)" stroke-width="1.2"/>
<line x1="891.9" y1="430.3" x2="765.5" y2="450.0" stroke="#000" stroke-width="1.30" stroke-linecap="round"/>
<line x1="891.9" y1="430.3" x2="943.8" y2="459.3" stroke="#000" stroke-width="1.30" stroke-linecap="round"/>
<line x1="765.5" y1="450.0" x2="817.4" y2="485.7" stroke="#000" stroke-width="1.30" stroke-linecap="round"/>
<line x1="943.8" y1="459.3" x2="817.4" y2="485.7" stroke="#000" stroke-width="1.30" stroke-linecap="round"/>
<circle cx="891.9" cy="430.3" r="2.4"/>
<circle cx="765.5" cy="450.0" r="2.4"/>
<circle cx="943.8" cy="459.3" r="2.4"/>
<circle cx="817.4" cy="485.7" r="2.4"/>
<polygon points="817.4,485.7 943.8,459.3 921.3,534.3" fill="url(#g107)" stroke="url(#g107)" stroke-width="1.2"/>
<polygon points="1047.7,508.7 943.8,459.3 921.3,534.3" fill="url(#g108)" stroke="url(#g108)" stroke-width="1.2"/>
<line x1="943.8" y1="459.3" x2="817.4" y2="485.7" stroke="#000" stroke-width="1.30" stroke-linecap="round"/>
<line x1="817.4" y1="485.7" x2="921.3" y2="534.3" stroke="#000" stroke-width="1.30" stroke-linecap="round"/>
<line x1="943.8" y1="459.3" x2="1047.7" y2="508.7" stroke="#000" stroke-width="1.30" stroke-linecap="round"/>
<line x1="1047.7" y1="508.7" x2="921.3" y2="534.3" stroke="#000" stroke-width="1.30" stroke-linecap="round"/>
<circle cx="943.8" cy="459.3" r="2.4"/>
<circle cx="817.4" cy="485.7" r="2.4"/>
<circle cx="1047.7" cy="508.7" r="2.4"/>
<circle cx="921.3" cy="534.3" r="2.4"/>
<polygon points="810.6,166.2 684.2,96.8 862.5,182.3" fill="url(#g109)" stroke="url(#g109)" stroke-width="1.2"/>
<circle cx="684.2" cy="96.8" r="2.4"/>
<circle cx="862.5" cy="182.3" r="2.4"/>
<polygon points="736.1,150.5 684.2,96.8 862.5,182.3" fill="url(#g110)" stroke="url(#g110)" stroke-width="1.2"/>
<line x1="684.2" y1="96.8" x2="736.1" y2="150.5" stroke="#000" stroke-width="1.30" stroke-linecap="round"/>
<line x1="862.5" y1="182.3" x2="736.1" y2="150.5" stroke="#000" stroke-width="1.30" stroke-linecap="round"/>
<circle cx="736.1" cy="150.5" r="2.4"/>
<circle cx="684.2" cy="96.8" r="2.4"/>
<circle cx="862.5" cy="182.3" r="2.4"/>
<polygon points="862.5,182.3 736.1,150.5 914.5,198.3" fill="url(#g111)" stroke="url(#g111)" stroke-width="1.2"/>
<polygon points="788.0,189.0 736.1,150.5 914.5,198.3" fill="url(#g112)" stroke="url(#g112)" stroke-width="1.2"/>
<line x1="862.5" y1="182.3" x2="736.1" y2="150.5" stroke="#000" stroke-width="1.30" stroke-linecap="round"/>
<line x1="862.5" y1="182.3" x2="914.5" y2="198.3" stroke="#000" stroke-width="1.30" stroke-linecap="round"/>
<line x1="736.1" y1="150.5" x2="788.0" y2="189.0" stroke="#000" stroke-width="1.30" stroke-linecap="round"/>
<line x1="914.5" y1="198.3" x2="788.0" y2="189.0" stroke="#000" stroke-width="1.30" stroke-linecap="round"/>
<circle cx="862.5" cy="182.3" r="2.4"/>
<circle cx="736.1" cy="150.5" r="2.4"/>
<circle cx="914.5" cy="198.3" r="2.4"/>
<circle cx="788.0" cy="189.0" r="2.4"/>
<polygon points="914.5,198.3 788.0,189.0 966.4,214.4" fill="url(#g113)" stroke="url(#g113)" stroke-width="1.2"/>
<polygon points="840.0,222.3 788.0,189.0 966.4,214.4" fill="url(#g114)" stroke="url(#g114)" stroke-width="1.2"/>
<line x1="914.5" y1="198.3" x2="788.0" y2="189.0" stroke="#000" stroke-width="1.30" stroke-linecap="round"/>
<line x1="914.5" y1="198.3" x2="966.4" y2="214.4" stroke="#000" stroke-width="1.30" stroke-linecap="round"/>
<line x1="788.0" y1="189.0" x2="840.0" y2="222.3" stroke="#000" stroke-width="1.30" stroke-linecap="round"/>
<line x1="966.4" y1="214.4" x2="840.0" y2="222.3" stroke="#000" stroke-width="1.30" stroke-linecap="round"/>
<circle cx="914.5" cy="198.3" r="2.4"/>
<circle cx="788.0" cy="189.0" r="2.4"/>
<circle cx="966.4" cy="214.4" r="2.4"/>
<circle cx="840.0" cy="222.3" r="2.4"/>
<polygon points="966.4,214.4 840.0,222.3 1018.3,230.5" fill="url(#g115)" stroke="url(#g115)" stroke-width="1.2"/>
<polygon points="891.9,251.0 840.0,222.3 1018.3,230.5" fill="url(#g116)" stroke="url(#g116)" stroke-width="1.2"/>
<line x1="966.4" y1="214.4" x2="840.0" y2="222.3" stroke="#000" stroke-width="1.30" stroke-linecap="round"/>
<line x1="966.4" y1="214.4" x2="1018.3" y2="230.5" stroke="#000" stroke-width="1.30" stroke-linecap="round"/>
<line x1="840.0" y1="222.3" x2="891.9" y2="251.0" stroke="#000" stroke-width="1.30" stroke-linecap="round"/>
<line x1="1018.3" y1="230.5" x2="891.9" y2="251.0" stroke="#000" stroke-width="1.30" stroke-linecap="round"/>
<circle cx="966.4" cy="214.4" r="2.4"/>
<circle cx="840.0" cy="222.3" r="2.4"/>
<circle cx="1018.3" cy="230.5" r="2.4"/>
<circle cx="891.9" cy="251.0" r="2.4"/>
<polygon points="1018.3,230.5 891.9,251.0 1070.2,246.6" fill="url(#g117)" stroke="url(#g117)" stroke-width="1.2"/>
<polygon points="943.8,276.8 891.9,251.0 1070.2,246.6" fill="url(#g118)" stroke="url(#g118)" stroke-width="1.2"/>
<line x1="1018.3" y1="230.5" x2="891.9" y2="251.0" stroke="#000" stroke-width="1.30" stroke-linecap="round"/>
<line x1="1018.3" y1="230.5" x2="1070.2" y2="246.6" stroke="#000" stroke-width="1.30" stroke-linecap="round"/>
<line x1="891.9" y1="251.0" x2="943.8" y2="276.8" stroke="#000" stroke-width="1.30" stroke-linecap="round"/>
<line x1="1070.2" y1="246.6" x2="943.8" y2="276.8" stroke="#000" stroke-width="1.30" stroke-linecap="round"/>
<circle cx="1018.3" cy="230.5" r="2.4"/>
<circle cx="891.9" cy="251.0" r="2.4"/>
<circle cx="1070.2" cy="246.6" r="2.4"/>
<circle cx="943.8" cy="276.8" r="2.4"/>
<polygon points="1070.2,246.6 943.8,276.8 1174.1,278.7" fill="url(#g119)" stroke="url(#g119)" stroke-width="1.2"/>
<polygon points="1047.7,322.2 943.8,276.8 1174.1,278.7" fill="url(#g120)" stroke="url(#g120)" stroke-width="1.2"/>
<line x1="1070.2" y1="246.6" x2="943.8" y2="276.8" stroke="#000" stroke-width="1.30" stroke-linecap="round"/>
<line x1="1070.2" y1="246.6" x2="1174.1" y2="278.7" stroke="#000" stroke-width="1.30" stroke-linecap="round"/>
<line x1="943.8" y1="276.8" x2="1047.7" y2="322.2" stroke="#000" stroke-width="1.30" stroke-linecap="round"/>
<line x1="1174.1" y1="278.7" x2="1047.7" y2="322.2" stroke="#000" stroke-width="1.30" stroke-linecap="round"/>
<circle cx="1070.2" cy="246.6" r="2.4"/>
<circle cx="943.8" cy="276.8" r="2.4"/>
<circle cx="1174.1" cy="278.7" r="2.4"/>
<circle cx="1047.7" cy="322.2" r="2.4"/>
<polygon points="678.8,1985.1 806.2,1892.8 732.0,1996.4" fill="url(#g121)" stroke="url(#g121)" stroke-width="1.2"/>
<polygon points="859.4,1909.0 806.2,1892.8 732.0,1996.4" fill="url(#g122)" stroke="url(#g122)" stroke-width="1.2"/>
<line x1="806.2" y1="1892.8" x2="678.8" y2="1985.1" stroke="#000" stroke-width="1.30" stroke-linecap="round"/>
<line x1="678.8" y1="1985.1" x2="732.0" y2="1996.4" stroke="#000" stroke-width="1.30" stroke-linecap="round"/>
<line x1="806.2" y1="1892.8" x2="859.4" y2="1909.0" stroke="#000" stroke-width="1.30" stroke-linecap="round"/>
<line x1="859.4" y1="1909.0" x2="732.0" y2="1996.4" stroke="#000" stroke-width="1.30" stroke-linecap="round"/>
<circle cx="806.2" cy="1892.8" r="2.4"/>
<circle cx="678.8" cy="1985.1" r="2.4"/>
<circle cx="859.4" cy="1909.0" r="2.4"/>
<circle cx="732.0" cy="1996.4" r="2.4"/>
<polygon points="732.0,1996.4 859.4,1909.0 785.1,2007.9" fill="url(#g123)" stroke="url(#g123)" stroke-width="1.2"/>
<polygon points="912.5,1925.3 859.4,1909.0 785.1,2007.9" fill="url(#g124)" stroke="url(#g124)" stroke-width="1.2"/>
<line x1="859.4" y1="1909.0" x2="732.0" y2="1996.4" stroke="#000" stroke-width="1.30" stroke-linecap="round"/>
<line x1="732.0" y1="1996.4" x2="785.1" y2="2007.9" stroke="#000" stroke-width="1.30" stroke-linecap="round"/>
<line x1="859.4" y1="1909.0" x2="912.5" y2="1925.3" stroke="#000" stroke-width="1.30" stroke-linecap="round"/>
<line x1="912.5" y1="1925.3" x2="785.1" y2="2007.9" stroke="#000" stroke-width="1.30" stroke-linecap="round"/>
<circle cx="859.4" cy="1909.0" r="2.4"/>
<circle cx="732.0" cy="1996.4" r="2.4"/>
<circle cx="912.5" cy="1925.3" r="2.4"/>
<circle cx="785.1" cy="2007.9" r="2.4"/>
<polygon points="785.1,2007.9 912.5,1925.3 838.3,2019.3" fill="url(#g125)" stroke="url(#g125)" stroke-width="1.2"/>
<polygon points="965.7,1941.6 912.5,1925.3 838.3,2019.3" fill="url(#g126)" stroke="url(#g126)" stroke-width="1.2"/>
<line x1="912.5" y1="1925.3" x2="785.1" y2="2007.9" stroke="#000" stroke-width="1.30" stroke-linecap="round"/>
<line x1="785.1" y1="2007.9" x2="838.3" y2="2019.3" stroke="#000" stroke-width="1.30" stroke-linecap="round"/>
<line x1="912.5" y1="1925.3" x2="965.7" y2="1941.6" stroke="#000" stroke-width="1.30" stroke-linecap="round"/>
<line x1="965.7" y1="1941.6" x2="838.3" y2="2019.3" stroke="#000" stroke-width="1.30" stroke-linecap="round"/>
<circle cx="912.5" cy="1925.3" r="2.4"/>
<circle cx="785.1" cy="2007.9" r="2.4"/>
<circle cx="965.7" cy="1941.6" r="2.4"/>
<circle cx="838.3" cy="2019.3" r="2.4"/>
<polygon points="838.3,2019.3 965.7,1941.6 891.5,2030.6" fill="url(#g127)" stroke="url(#g127)" stroke-width="1.2"/>
<polygon points="1018.9,1957.9 965.7,1941.6 891.5,2030.6" fill="url(#g128)" stroke="url(#g128)" stroke-width="1.2"/>
<line x1="965.7" y1="1941.6" x2="838.3" y2="2019.3" stroke="#000" stroke-width="1.30" stroke-linecap="round"/>
<line x1="838.3" y1="2019.3" x2="891.5" y2="2030.6" stroke="#000" stroke-width="1.30" stroke-linecap="round"/>
<line x1="965.7" y1="1941.6" x2="1018.9" y2="1957.9" stroke="#000" stroke-width="1.30" stroke-linecap="round"/>
<line x1="1018.9" y1="1957.9" x2="891.5" y2="2030.6" stroke="#000" stroke-width="1.30" stroke-linecap="round"/>
<circle cx="965.7" cy="1941.6" r="2.4"/>
<circle cx="838.3" cy="2019.3" r="2.4"/>
<circle cx="1018.9" cy="1957.9" r="2.4"/>
<circle cx="891.5" cy="2030.6" r="2.4"/>
<polygon points="891.5,2030.6 1018.9,1957.9 944.7,2042.0" fill="url(#g129)" stroke="url(#g129)" stroke-width="1.2"/>
<polygon points="1072.1,1974.1 1018.9,1957.9 944.7,2042.0" fill="url(#g130)" stroke="url(#g130)" stroke-width="1.2"/>
<line x1="1018.9" y1="1957.9" x2="891.5" y2="2030.6" stroke="#000" stroke-width="1.30" stroke-linecap="round"/>
<line x1="891.5" y1="2030.6" x2="944.7" y2="2042.0" stroke="#000" stroke-width="1.30" stroke-linecap="round"/>
<line x1="1018.9" y1="1957.9" x2="1072.1" y2="1974.1" stroke="#000" stroke-width="1.30" stroke-linecap="round"/>
<line x1="1072.1" y1="1974.1" x2="944.7" y2="2042.0" stroke="#000" stroke-width="1.30" stroke-linecap="round"/>
<circle cx="1018.9" cy="1957.9" r="2.4"/>
<circle cx="891.5" cy="2030.6" r="2.4"/>
<circle cx="1072.1" cy="1974.1" r="2.4"/>
<circle cx="944.7" cy="2042.0" r="2.4"/>
<polygon points="944.7,2042.0 1072.1,1974.1 1051.0,2065.3" fill="url(#g131)" stroke="url(#g131)" stroke-width="1.2"/>
<polygon points="1178.4,2006.7 1072.1,1974.1 1051.0,2065.3" fill="url(#g132)" stroke="url(#g132)" stroke-width="1.2"/>
<line x1="1072.1" y1="1974.1" x2="944.7" y2="2042.0" stroke="#000" stroke-width="1.30" stroke-linecap="round"/>
<line x1="944.7" y1="2042.0" x2="1051.0" y2="2065.3" stroke="#000" stroke-width="1.30" stroke-linecap="round"/>
<line x1="1072.1" y1="1974.1" x2="1178.4" y2="2006.7" stroke="#000" stroke-width="1.30" stroke-linecap="round"/>
<line x1="1178.4" y1="2006.7" x2="1051.0" y2="2065.3" stroke="#000" stroke-width="1.30" stroke-linecap="round"/>
<circle cx="1072.1" cy="1974.1" r="2.4"/>
<circle cx="944.7" cy="2042.0" r="2.4"/>
<circle cx="1178.4" cy="2006.7" r="2.4"/>
<circle cx="1051.0" cy="2065.3" r="2.4"/>
<polygon points="678.8,1894.5 806.2,1760.8 732.0,1901.5" fill="url(#g133)" stroke="url(#g133)" stroke-width="1.2"/>
<polygon points="859.4,1777.0 806.2,1760.8 732.0,1901.5" fill="url(#g134)" stroke="url(#g134)" stroke-width="1.2"/>
<line x1="806.2" y1="1760.8" x2="678.8" y2="1894.5" stroke="#000" stroke-width="1.30" stroke-linecap="round"/>
<line x1="678.8" y1="1894.5" x2="732.0" y2="1901.5" stroke="#000" stroke-width="1.30" stroke-linecap="round"/>
<line x1="806.2" y1="1760.8" x2="859.4" y2="1777.0" stroke="#000" stroke-width="1.30" stroke-linecap="round"/>
<line x1="859.4" y1="1777.0" x2="732.0" y2="1901.5" stroke="#000" stroke-width="1.30" stroke-linecap="round"/>
<circle cx="806.2" cy="1760.8" r="2.4"/>
<circle cx="678.8" cy="1894.5" r="2.4"/>
<circle cx="859.4" cy="1777.0" r="2.4"/>
<circle cx="732.0" cy="1901.5" r="2.4"/>
<polygon points="732.0,1901.5 859.4,1777.0 785.1,1909.5" fill="url(#g135)" stroke="url(#g135)" stroke-width="1.2"/>
<polygon points="912.5,1793.3 859.4,1777.0 785.1,1909.5" fill="url(#g136)" stroke="url(#g136)" stroke-width="1.2"/>
<line x1="859.4" y1="1777.0" x2="732.0" y2="1901.5" stroke="#000" stroke-width="1.30" stroke-linecap="round"/>
<line x1="732.0" y1="1901.5" x2="785.1" y2="1909.5" stroke="#000" stroke-width="1.30" stroke-linecap="round"/>
<line x1="859.4" y1="1777.0" x2="912.5" y2="1793.3" stroke="#000" stroke-width="1.30" stroke-linecap="round"/>
<line x1="912.5" y1="1793.3" x2="785.1" y2="1909.5" stroke="#000" stroke-width="1.30" stroke-linecap="round"/>
<circle cx="859.4" cy="1777.0" r="2.4"/>
<circle cx="732.0" cy="1901.5" r="2.4"/>
<circle cx="912.5" cy="1793.3" r="2.4"/>
<circle cx="785.1" cy="1909.5" r="2.4"/>
<polygon points="785.1,1909.5 912.5,1793.3 838.3,1918.0" fill="url(#g137)" stroke="url(#g137)" stroke-width="1.2"/>
<polygon points="965.7,1809.6 912.5,1793.3 838.3,1918.0" fill="url(#g138)" stroke="url(#g138)" stroke-width="1.2"/>
<line x1="912.5" y1="1793.3" x2="785.1" y2="1909.5" stroke="#000" stroke-width="1.30" stroke-linecap="round"/>
<line x1="785.1" y1="1909.5" x2="838.3" y2="1918.0" stroke="#000" stroke-width="1.30" stroke-linecap="round"/>
<line x1="912.5" y1="1793.3" x2="965.7" y2="1809.6" stroke="#000" stroke-width="1.30" stroke-linecap="round"/>
<line x1="965.7" y1="1809.6" x2="838.3" y2="1918.0" stroke="#000" stroke-width="1.30" stroke-linecap="round"/>
<circle cx="912.5" cy="1793.3" r="2.4"/>
<circle cx="785.1" cy="1909.5" r="2.4"/>
<circle cx="965.7" cy="1809.6" r="2.4"/>
<circle cx="838.3" cy="1918.0" r="2.4"/>
<polygon points="838.3,1918.0 965.7,1809.6 891.5,1927.0" fill="url(#g139)" stroke="url(#g139)" stroke-width="1.2"/>
<polygon points="1018.9,1825.9 965.7,1809.6 891.5,1927.0" fill="url(#g140)" stroke="url(#g140)" stroke-width="1.2"/>
<line x1="965.7" y1="1809.6" x2="838.3" y2="1918.0" stroke="#000" stroke-width="1.30" stroke-linecap="round"/>
<line x1="838.3" y1="1918.0" x2="891.5" y2="1927.0" stroke="#000" stroke-width="1.30" stroke-linecap="round"/>
<line x1="965.7" y1="1809.6" x2="1018.9" y2="1825.9" stroke="#000" stroke-width="1.30" stroke-linecap="round"/>
<line x1="1018.9" y1="1825.9" x2="891.5" y2="1927.0" stroke="#000" stroke-width="1.30" stroke-linecap="round"/>
<circle cx="965.7" cy="1809.6" r="2.4"/>
<circle cx="838.3" cy="1918.0" r="2.4"/>
<circle cx="1018.9" cy="1825.9" r="2.4"/>
<circle cx="891.5" cy="1927.0" r="2.4"/>
<polygon points="891.5,1927.0 1018.9,1825.9 944.7,1936.6" fill="url(#g141)" stroke="url(#g141)" stroke-width="1.2"/>
<polygon points="1072.1,1842.1 1018.9,1825.9 944.7,1936.6" fill="url(#g142)" stroke="url(#g142)" stroke-width="1.2"/>
<line x1="1018.9" y1="1825.9" x2="891.5" y2="1927.0" stroke="#000" stroke-width="1.30" stroke-linecap="round"/>
<line x1="891.5" y1="1927.0" x2="944.7" y2="1936.6" stroke="#000" stroke-width="1.30" stroke-linecap="round"/>
<line x1="1018.9" y1="1825.9" x2="1072.1" y2="1842.1" stroke="#000" stroke-width="1.30" stroke-linecap="round"/>
<line x1="1072.1" y1="1842.1" x2="944.7" y2="1936.6" stroke="#000" stroke-width="1.30" stroke-linecap="round"/>
<circle cx="1018.9" cy="1825.9" r="2.4"/>
<circle cx="891.5" cy="1927.0" r="2.4"/>
<circle cx="1072.1" cy="1842.1" r="2.4"/>
<circle cx="944.7" cy="1936.6" r="2.4"/>
<polygon points="944.7,1936.6 1072.1,1842.1 1051.0,1956.8" fill="url(#g143)" stroke="url(#g143)" stroke-width="1.2"/>
<polygon points="1178.4,1874.7 1072.1,1842.1 1051.0,1956.8" fill="url(#g144)" stroke="url(#g144)" stroke-width="1.2"/>
<line x1="1072.1" y1="1842.1" x2="944.7" y2="1936.6" stroke="#000" stroke-width="1.30" stroke-linecap="round"/>
<line x1="944.7" y1="1936.6" x2="1051.0" y2="1956.8" stroke="#000" stroke-width="1.30" stroke-linecap="round"/>
<line x1="1072.1" y1="1842.1" x2="1178.4" y2="1874.7" stroke="#000" stroke-width="1.30" stroke-linecap="round"/>
<line x1="1178.4" y1="1874.7" x2="1051.0" y2="1956.8" stroke="#000" stroke-width="1.30" stroke-linecap="round"/>
<circle cx="1072.1" cy="1842.1" r="2.4"/>
<circle cx="944.7" cy="1936.6" r="2.4"/>
<circle cx="1178.4" cy="1874.7" r="2.4"/>
<circle cx="1051.0" cy="1956.8" r="2.4"/>
<polygon points="551.4,1994.8 678.8,1894.5 604.6,1998.0" fill="url(#g145)" stroke="url(#g145)" stroke-width="1.2"/>
<polygon points="732.0,1901.5 678.8,1894.5 604.6,1998.0" fill="url(#g146)" stroke="url(#g146)" stroke-width="1.2"/>
<line x1="678.8" y1="1894.5" x2="551.4" y2="1994.8" stroke="#000" stroke-width="1.30" stroke-linecap="round"/>
<line x1="551.4" y1="1994.8" x2="604.6" y2="1998.0" stroke="#000" stroke-width="1.30" stroke-linecap="round"/>
<line x1="678.8" y1="1894.5" x2="732.0" y2="1901.5" stroke="#000" stroke-width="1.30" stroke-linecap="round"/>
<line x1="732.0" y1="1901.5" x2="604.6" y2="1998.0" stroke="#000" stroke-width="1.30" stroke-linecap="round"/>
<circle cx="678.8" cy="1894.5" r="2.4"/>
<circle cx="551.4" cy="1994.8" r="2.4"/>
<circle cx="732.0" cy="1901.5" r="2.4"/>
<circle cx="604.6" cy="1998.0" r="2.4"/>
<polygon points="604.6,1998.0 732.0,1901.5 657.8,2000.0" fill="url(#g147)" stroke="url(#g147)" stroke-width="1.2"/>
<polygon points="785.1,1909.5 732.0,1901.5 657.8,2000.0" fill="url(#g148)" stroke="url(#g148)" stroke-width="1.2"/>
<line x1="732.0" y1="1901.5" x2="604.6" y2="1998.0" stroke="#000" stroke-width="1.30" stroke-linecap="round"/>
<line x1="604.6" y1="1998.0" x2="657.8" y2="2000.0" stroke="#000" stroke-width="1.30" stroke-linecap="round"/>
<line x1="732.0" y1="1901.5" x2="785.1" y2="1909.5" stroke="#000" stroke-width="1.30" stroke-linecap="round"/>
<line x1="785.1" y1="1909.5" x2="657.8" y2="2000.0" stroke="#000" stroke-width="1.30" stroke-linecap="round"/>
<circle cx="732.0" cy="1901.5" r="2.4"/>
<circle cx="604.6" cy="1998.0" r="2.4"/>
<circle cx="785.1" cy="1909.5" r="2.4"/>
<circle cx="657.8" cy="2000.0" r="2.4"/>
<polygon points="657.8,2000.0 785.1,1909.5 710.9,2000.1" fill="url(#g149)" stroke="url(#g149)" stroke-width="1.2"/>
<polygon points="838.3,1918.0 785.1,1909.5 710.9,2000.1" fill="url(#g150)" stroke="url(#g150)" stroke-width="1.2"/>
<line x1="785.1" y1="1909.5" x2="657.8" y2="2000.0" stroke="#000" stroke-width="1.30" stroke-linecap="round"/>
<line x1="657.8" y1="2000.0" x2="710.9" y2="2000.1" stroke="#000" stroke-width="1.30" stroke-linecap="round"/>
<line x1="785.1" y1="1909.5" x2="838.3" y2="1918.0" stroke="#000" stroke-width="1.30" stroke-linecap="round"/>
<line x1="838.3" y1="1918.0" x2="710.9" y2="2000.1" stroke="#000" stroke-width="1.30" stroke-linecap="round"/>
<circle cx="785.1" cy="1909.5" r="2.4"/>
<circle cx="657.8" cy="2000.0" r="2.4"/>
<circle cx="838.3" cy="1918.0" r="2.4"/>
<circle cx="710.9" cy="2000.1" r="2.4"/>
<polygon points="710.9,2000.1 838.3,1918.0 764.1,1998.0" fill="url(#g151)" stroke="url(#g151)" stroke-width="1.2"/>
<polygon points="891.5,1927.0 838.3,1918.0 764.1,1998.0" fill="url(#g152)" stroke="url(#g152)" stroke-width="1.2"/>
<line x1="838.3" y1="1918.0" x2="710.9" y2="2000.1" stroke="#000" stroke-width="1.30" stroke-linecap="round"/>
<line x1="710.9" y1="2000.1" x2="764.1" y2="1998.0" stroke="#000" stroke-width="1.30" stroke-linecap="round"/>
<line x1="838.3" y1="1918.0" x2="891.5" y2="1927.0" stroke="#000" stroke-width="1.30" stroke-linecap="round"/>
<line x1="891.5" y1="1927.0" x2="764.1" y2="1998.0" stroke="#000" stroke-width="1.30" stroke-linecap="round"/>
<circle cx="838.3" cy="1918.0" r="2.4"/>
<circle cx="710.9" cy="2000.1" r="2.4"/>
<circle cx="891.5" cy="1927.0" r="2.4"/>
<circle cx="764.1" cy="1998.0" r="2.4"/>
<polygon points="764.1,1998.0 891.5,1927.0 817.3,1994.8" fill="url(#g153)" stroke="url(#g153)" stroke-width="1.2"/>
<polygon points="944.7,1936.6 891.5,1927.0 817.3,1994.8" fill="url(#g154)" stroke="url(#g154)" stroke-width="1.2"/>
<line x1="891.5" y1="1927.0" x2="764.1" y2="1998.0" stroke="#000" stroke-width="1.30" stroke-linecap="round"/>
<line x1="764.1" y1="1998.0" x2="817.3" y2="1994.8" stroke="#000" stroke-width="1.30" stroke-linecap="round"/>
<line x1="891.5" y1="1927.0" x2="944.7" y2="1936.6" stroke="#000" stroke-width="1.30" stroke-linecap="round"/>
<line x1="944.7" y1="1936.6" x2="817.3" y2="1994.8" stroke="#000" stroke-width="1.30" stroke-linecap="round"/>
<circle cx="891.5" cy="1927.0" r="2.4"/>
<circle cx="764.1" cy="1998.0" r="2.4"/>
<circle cx="944.7" cy="1936.6" r="2.4"/>
<circle cx="817.3" cy="1994.8" r="2.4"/>
<polygon points="817.3,1994.8 944.7,1936.6 923.6,1985.7" fill="url(#g155)" stroke="url(#g155)" stroke-width="1.2"/>
<polygon points="1051.0,1956.8 944.7,1936.6 923.6,1985.7" fill="url(#g156)" stroke="url(#g156)" stroke-width="1.2"/>
<line x1="944.7" y1="1936.6" x2="817.3" y2="1994.8" stroke="#000" stroke-width="1.30" stroke-linecap="round"/>
<line x1="817.3" y1="1994.8" x2="923.6" y2="1985.7" stroke="#000" stroke-width="1.30" stroke-linecap="round"/>
<line x1="944.7" y1="1936.6" x2="1051.0" y2="1956.8" stroke="#000" stroke-width="1.30" stroke-linecap="round"/>
<line x1="1051.0" y1="1956.8" x2="923.6" y2="1985.7" stroke="#000" stroke-width="1.30" stroke-linecap="round"/>
<circle cx="944.7" cy="1936.6" r="2.4"/>
<circle cx="817.3" cy="1994.8" r="2.4"/>
<circle cx="1051.0" cy="1956.8" r="2.4"/>
<circle cx="923.6" cy="1985.7" r="2.4"/>
<polygon points="678.8,1758.2 806.2,1569.8 732.0,1758.8" fill="url(#g157)" stroke="url(#g157)" stroke-width="1.2"/>
<polygon points="859.4,1586.0 806.2,1569.8 732.0,1758.8" fill="url(#g158)" stroke="url(#g158)" stroke-width="1.2"/>
<line x1="806.2" y1="1569.8" x2="678.8" y2="1758.2" stroke="#000" stroke-width="1.30" stroke-linecap="round"/>
<line x1="678.8" y1="1758.2" x2="732.0" y2="1758.8" stroke="#000" stroke-width="1.30" stroke-linecap="round"/>
<line x1="806.2" y1="1569.8" x2="859.4" y2="1586.0" stroke="#000" stroke-width="1.30" stroke-linecap="round"/>
<line x1="859.4" y1="1586.0" x2="732.0" y2="1758.8" stroke="#000" stroke-width="1.30" stroke-linecap="round"/>
<circle cx="806.2" cy="1569.8" r="2.4"/>
<circle cx="678.8" cy="1758.2" r="2.4"/>
<circle cx="859.4" cy="1586.0" r="2.4"/>
<circle cx="732.0" cy="1758.8" r="2.4"/>
<polygon points="732.0,1758.8 859.4,1586.0 785.1,1762.5" fill="url(#g159)" stroke="url(#g159)" stroke-width="1.2"/>
<polygon points="912.5,1602.3 859.4,1586.0 785.1,1762.5" fill="url(#g160)" stroke="url(#g160)" stroke-width="1.2"/>
<line x1="859.4" y1="1586.0" x2="732.0" y2="1758.8" stroke="#000" stroke-width="1.30" stroke-linecap="round"/>
<line x1="732.0" y1="1758.8" x2="785.1" y2="1762.5" stroke="#000" stroke-width="1.30" stroke-linecap="round"/>
<line x1="859.4" y1="1586.0" x2="912.5" y2="1602.3" stroke="#000" stroke-width="1.30" stroke-linecap="round"/>
<line x1="912.5" y1="1602.3" x2="785.1" y2="1762.5" stroke="#000" stroke-width="1.30" stroke-linecap="round"/>
<circle cx="859.4" cy="1586.0" r="2.4"/>
<circle cx="732.0" cy="1758.8" r="2.4"/>
<circle cx="912.5" cy="1602.3" r="2.4"/>
<circle cx="785.1" cy="1762.5" r="2.4"/>
<polygon points="785.1,1762.5 912.5,1602.3 838.3,1767.4" fill="url(#g161)" stroke="url(#g161)" stroke-width="1.2"/>
<polygon points="965.7,1618.6 912.5,1602.3 838.3,1767.4" fill="url(#g162)" stroke="url(#g162)" stroke-width="1.2"/>
<line x1="912.5" y1="1602.3" x2="785.1" y2="1762.5" stroke="#000" stroke-width="1.30" stroke-linecap="round"/>
<line x1="785.1" y1="1762.5" x2="838.3" y2="1767.4" stroke="#000" stroke-width="1.30" stroke-linecap="round"/>
<line x1="912.5" y1="1602.3" x2="965.7" y2="1618.6" stroke="#000" stroke-width="1.30" stroke-linecap="round"/>
<line x1="965.7" y1="1618.6" x2="838.3" y2="1767.4" stroke="#000" stroke-width="1.30" stroke-linecap="round"/>
<circle cx="912.5" cy="1602.3" r="2.4"/>
<circle cx="785.1" cy="1762.5" r="2.4"/>
<circle cx="965.7" cy="1618.6" r="2.4"/>
<circle cx="838.3" cy="1767.4" r="2.4"/>
<polygon points="838.3,1767.4 965.7,1618.6 891.5,1772.8" fill="url(#g163)" stroke="url(#g163)" stroke-width="1.2"/>
<polygon points="1018.9,1634.9 965.7,1618.6 891.5,1772.8" fill="url(#g164)" stroke="url(#g164)" stroke-width="1.2"/>
<line x1="965.7" y1="1618.6" x2="838.3" y2="1767.4" stroke="#000" stroke-width="1.30" stroke-linecap="round"/>
<line x1="838.3" y1="1767.4" x2="891.5" y2="1772.8" stroke="#000" stroke-width="1.30" stroke-linecap="round"/>
<line x1="965.7" y1="1618.6" x2="1018.9" y2="1634.9" stroke="#000" stroke-width="1.30" stroke-linecap="round"/>
<line x1="1018.9" y1="1634.9" x2="891.5" y2="1772.8" stroke="#000" stroke-width="1.30" stroke-linecap="round"/>
<circle cx="965.7" cy="1618.6" r="2.4"/>
<circle cx="838.3" cy="1767.4" r="2.4"/>
<circle cx="1018.9" cy="1634.9" r="2.4"/>
<circle cx="891.5" cy="1772.8" r="2.4"/>
<polygon points="891.5,1772.8 1018.9,1634.9 944.7,1779.8" fill="url(#g165)" stroke="url(#g165)" stroke-width="1.2"/>
<polygon points="1072.1,1651.1 1018.9,1634.9 944.7,1779.8" fill="url(#g166)" stroke="url(#g166)" stroke-width="1.2"/>
<line x1="1018.9" y1="1634.9" x2="891.5" y2="1772.8" stroke="#000" stroke-width="1.30" stroke-linecap="round"/>
<line x1="891.5" y1="1772.8" x2="944.7" y2="1779.8" stroke="#000" stroke-width="1.30" stroke-linecap="round"/>
<line x1="1018.9" y1="1634.9" x2="1072.1" y2="1651.1" stroke="#000" stroke-width="1.30" stroke-linecap="round"/>
<line x1="1072.1" y1="1651.1" x2="944.7" y2="1779.8" stroke="#000" stroke-width="1.30" stroke-linecap="round"/>
<circle cx="1018.9" cy="1634.9" r="2.4"/>
<circle cx="891.5" cy="1772.8" r="2.4"/>
<circle cx="1072.1" cy="1651.1" r="2.4"/>
<circle cx="944.7" cy="1779.8" r="2.4"/>
<polygon points="944.7,1779.8 1072.1,1651.1 1051.0,1795.2" fill="url(#g167)" stroke="url(#g167)" stroke-width="1.2"/>
<polygon points="1178.4,1683.7 1072.1,1651.1 1051.0,1795.2" fill="url(#g168)" stroke="url(#g168)" stroke-width="1.2"/>
<line x1="1072.1" y1="1651.1" x2="944.7" y2="1779.8" stroke="#000" stroke-width="1.30" stroke-linecap="round"/>
<line x1="944.7" y1="1779.8" x2="1051.0" y2="1795.2" stroke="#000" stroke-width="1.30" stroke-linecap="round"/>
<line x1="1072.1" y1="1651.1" x2="1178.4" y2="1683.7" stroke="#000" stroke-width="1.30" stroke-linecap="round"/>
<line x1="1178.4" y1="1683.7" x2="1051.0" y2="1795.2" stroke="#000" stroke-width="1.30" stroke-linecap="round"/>
<circle cx="1072.1" cy="1651.1" r="2.4"/>
<circle cx="944.7" cy="1779.8" r="2.4"/>
<circle cx="1178.4" cy="1683.7" r="2.4"/>
<circle cx="1051.0" cy="1795.2" r="2.4"/>
<polygon points="551.4,1900.7 678.8,1758.2 604.6,1897.9" fill="url(#g169)" stroke="url(#g169)" stroke-width="1.2"/>
<polygon points="732.0,1758.8 678.8,1758.2 604.6,1897.9" fill="url(#g170)" stroke="url(#g170)" stroke-width="1.2"/>
<line x1="678.8" y1="1758.2" x2="551.4" y2="1900.7" stroke="#000" stroke-width="1.30" stroke-linecap="round"/>
<line x1="551.4" y1="1900.7" x2="604.6" y2="1897.9" stroke="#000" stroke-width="1.30" stroke-linecap="round"/>
<line x1="678.8" y1="1758.2" x2="732.0" y2="1758.8" stroke="#000" stroke-width="1.30" stroke-linecap="round"/>
<line x1="732.0" y1="1758.8" x2="604.6" y2="1897.9" stroke="#000" stroke-width="1.30" stroke-linecap="round"/>
<circle cx="678.8" cy="1758.2" r="2.4"/>
<circle cx="551.4" cy="1900.7" r="2.4"/>
<circle cx="732.0" cy="1758.8" r="2.4"/>
<circle cx="604.6" cy="1897.9" r="2.4"/>
<polygon points="604.6,1897.9 732.0,1758.8 657.8,1893.0" fill="url(#g171)" stroke="url(#g171)" stroke-width="1.2"/>
<polygon points="785.1,1762.5 732.0,1758.8 657.8,1893.0" fill="url(#g172)" stroke="url(#g172)" stroke-width="1.2"/>
<line x1="732.0" y1="1758.8" x2="604.6" y2="1897.9" stroke="#000" stroke-width="1.30" stroke-linecap="round"/>
<line x1="604.6" y1="1897.9" x2="657.8" y2="1893.0" stroke="#000" stroke-width="1.30" stroke-linecap="round"/>
<line x1="732.0" y1="1758.8" x2="785.1" y2="1762.5" stroke="#000" stroke-width="1.30" stroke-linecap="round"/>
<line x1="785.1" y1="1762.5" x2="657.8" y2="1893.0" stroke="#000" stroke-width="1.30" stroke-linecap="round"/>
<circle cx="732.0" cy="1758.8" r="2.4"/>
<circle cx="604.6" cy="1897.9" r="2.4"/>
<circle cx="785.1" cy="1762.5" r="2.4"/>
<circle cx="657.8" cy="1893.0" r="2.4"/>
<polygon points="657.8,1893.0 785.1,1762.5 710.9,1885.3" fill="url(#g173)" stroke="url(#g173)" stroke-width="1.2"/>
<polygon points="838.3,1767.4 785.1,1762.5 710.9,1885.3" fill="url(#g174)" stroke="url(#g174)" stroke-width="1.2"/>
<line x1="785.1" y1="1762.5" x2="657.8" y2="1893.0" stroke="#000" stroke-width="1.30" stroke-linecap="round"/>
<line x1="657.8" y1="1893.0" x2="710.9" y2="1885.3" stroke="#000" stroke-width="1.30" stroke-linecap="round"/>
<line x1="785.1" y1="1762.5" x2="838.3" y2="1767.4" stroke="#000" stroke-width="1.30" stroke-linecap="round"/>
<line x1="838.3" y1="1767.4" x2="710.9" y2="1885.3" stroke="#000" stroke-width="1.30" stroke-linecap="round"/>
<circle cx="785.1" cy="1762.5" r="2.4"/>
<circle cx="657.8" cy="1893.0" r="2.4"/>
<circle cx="838.3" cy="1767.4" r="2.4"/>
<circle cx="710.9" cy="1885.3" r="2.4"/>
<polygon points="710.9,1885.3 838.3,1767.4 764.1,1877.5" fill="url(#g175)" stroke="url(#g175)" stroke-width="1.2"/>
<polygon points="891.5,1772.8 838.3,1767.4 764.1,1877.5" fill="url(#g176)" stroke="url(#g176)" stroke-width="1.2"/>
<line x1="838.3" y1="1767.4" x2="710.9" y2="1885.3" stroke="#000" stroke-width="1.30" stroke-linecap="round"/>
<line x1="710.9" y1="1885.3" x2="764.1" y2="1877.5" stroke="#000" stroke-width="1.30" stroke-linecap="round"/>
<line x1="838.3" y1="1767.4" x2="891.5" y2="1772.8" stroke="#000" stroke-width="1.30" stroke-linecap="round"/>
<line x1="891.5" y1="1772.8" x2="764.1" y2="1877.5" stroke="#000" stroke-width="1.30" stroke-linecap="round"/>
<circle cx="838.3" cy="1767.4" r="2.4"/>
<circle cx="710.9" cy="1885.3" r="2.4"/>
<circle cx="891.5" cy="1772.8" r="2.4"/>
<circle cx="764.1" cy="1877.5" r="2.4"/>
<polygon points="764.1,1877.5 891.5,1772.8 817.3,1872.7" fill="url(#g177)" stroke="url(#g177)" stroke-width="1.2"/>
<polygon points="944.7,1779.8 891.5,1772.8 817.3,1872.7" fill="url(#g178)" stroke="url(#g178)" stroke-width="1.2"/>
<line x1="891.5" y1="1772.8" x2="764.1" y2="1877.5" stroke="#000" stroke-width="1.30" stroke-linecap="round"/>
<line x1="764.1" y1="1877.5" x2="817.3" y2="1872.7" stroke="#000" stroke-width="1.30" stroke-linecap="round"/>
<line x1="891.5" y1="1772.8" x2="944.7" y2="1779.8" stroke="#000" stroke-width="1.30" stroke-linecap="round"/>
<line x1="944.7" y1="1779.8" x2="817.3" y2="1872.7" stroke="#000" stroke-width="1.30" stroke-linecap="round"/>
<circle cx="891.5" cy="1772.8" r="2.4"/>
<circle cx="764.1" cy="1877.5" r="2.4"/>
<circle cx="944.7" cy="1779.8" r="2.4"/>
<polygon points="817.3,1872.7 944.7,1779.8 923.6,1838.9" fill="url(#g179)" stroke="url(#g179)" stroke-width="1.2"/>
<polygon points="1051.0,1795.2 944.7,1779.8 923.6,1838.9" fill="url(#g180)" stroke="url(#g180)" stroke-width="1.2"/>
<line x1="944.7" y1="1779.8" x2="817.3" y2="1872.7" stroke="#000" stroke-width="1.30" stroke-linecap="round"/>
<line x1="944.7" y1="1779.8" x2="1051.0" y2="1795.2" stroke="#000" stroke-width="1.30" stroke-linecap="round"/>
<line x1="1051.0" y1="1795.2" x2="923.6" y2="1838.9" stroke="#000" stroke-width="1.30" stroke-linecap="round"/>
<circle cx="944.7" cy="1779.8" r="2.4"/>
<circle cx="1051.0" cy="1795.2" r="2.4"/>
<circle cx="923.6" cy="1838.9" r="2.4"/>
<polygon points="424.0,2007.3 551.4,1900.7 477.2,2003.3" fill="url(#g181)" stroke="url(#g181)" stroke-width="1.2"/>
<polygon points="604.6,1897.9 551.4,1900.7 477.2,2003.3" fill="url(#g182)" stroke="url(#g182)" stroke-width="1.2"/>
<line x1="551.4" y1="1900.7" x2="424.0" y2="2007.3" stroke="#000" stroke-width="1.30" stroke-linecap="round"/>
<line x1="424.0" y1="2007.3" x2="477.2" y2="2003.3" stroke="#000" stroke-width="1.30" stroke-linecap="round"/>
<line x1="551.4" y1="1900.7" x2="604.6" y2="1897.9" stroke="#000" stroke-width="1.30" stroke-linecap="round"/>
<line x1="604.6" y1="1897.9" x2="477.2" y2="2003.3" stroke="#000" stroke-width="1.30" stroke-linecap="round"/>
<circle cx="551.4" cy="1900.7" r="2.4"/>
<circle cx="424.0" cy="2007.3" r="2.4"/>
<circle cx="604.6" cy="1897.9" r="2.4"/>
<circle cx="477.2" cy="2003.3" r="2.4"/>
<polygon points="477.2,2003.3 604.6,1897.9 530.3,1992.7" fill="url(#g183)" stroke="url(#g183)" stroke-width="1.2"/>
<polygon points="657.8,1893.0 604.6,1897.9 530.3,1992.7" fill="url(#g184)" stroke="url(#g184)" stroke-width="1.2"/>
<line x1="604.6" y1="1897.9" x2="477.2" y2="2003.3" stroke="#000" stroke-width="1.30" stroke-linecap="round"/>
<line x1="477.2" y1="2003.3" x2="530.3" y2="1992.7" stroke="#000" stroke-width="1.30" stroke-linecap="round"/>
<line x1="604.6" y1="1897.9" x2="657.8" y2="1893.0" stroke="#000" stroke-width="1.30" stroke-linecap="round"/>
<line x1="657.8" y1="1893.0" x2="530.3" y2="1992.7" stroke="#000" stroke-width="1.30" stroke-linecap="round"/>
<circle cx="604.6" cy="1897.9" r="2.4"/>
<circle cx="477.2" cy="2003.3" r="2.4"/>
<circle cx="657.8" cy="1893.0" r="2.4"/>
<circle cx="530.3" cy="1992.7" r="2.4"/>
<polygon points="530.3,1992.7 657.8,1893.0 583.5,1973.5" fill="url(#g185)" stroke="url(#g185)" stroke-width="1.2"/>
<polygon points="710.9,1885.3 657.8,1893.0 583.5,1973.5" fill="url(#g186)" stroke="url(#g186)" stroke-width="1.2"/>
<line x1="657.8" y1="1893.0" x2="530.3" y2="1992.7" stroke="#000" stroke-width="1.30" stroke-linecap="round"/>
<line x1="530.3" y1="1992.7" x2="583.5" y2="1973.5" stroke="#000" stroke-width="1.30" stroke-linecap="round"/>
<line x1="657.8" y1="1893.0" x2="710.9" y2="1885.3" stroke="#000" stroke-width="1.30" stroke-linecap="round"/>
<line x1="710.9" y1="1885.3" x2="583.5" y2="1973.5" stroke="#000" stroke-width="1.30" stroke-linecap="round"/>
<circle cx="657.8" cy="1893.0" r="2.4"/>
<circle cx="530.3" cy="1992.7" r="2.4"/>
<circle cx="710.9" cy="1885.3" r="2.4"/>
<circle cx="583.5" cy="1973.5" r="2.4"/>
<polygon points="583.5,1973.5 710.9,1885.3 636.7,1946.0" fill="url(#g187)" stroke="url(#g187)" stroke-width="1.2"/>
<polygon points="764.1,1877.5 710.9,1885.3 636.7,1946.0" fill="url(#g188)" stroke="url(#g188)" stroke-width="1.2"/>
<line x1="710.9" y1="1885.3" x2="583.5" y2="1973.5" stroke="#000" stroke-width="1.30" stroke-linecap="round"/>
<line x1="583.5" y1="1973.5" x2="636.7" y2="1946.0" stroke="#000" stroke-width="1.30" stroke-linecap="round"/>
<line x1="710.9" y1="1885.3" x2="764.1" y2="1877.5" stroke="#000" stroke-width="1.30" stroke-linecap="round"/>
<line x1="764.1" y1="1877.5" x2="636.7" y2="1946.0" stroke="#000" stroke-width="1.30" stroke-linecap="round"/>
<circle cx="710.9" cy="1885.3" r="2.4"/>
<circle cx="583.5" cy="1973.5" r="2.4"/>
<circle cx="764.1" cy="1877.5" r="2.4"/>
<circle cx="636.7" cy="1946.0" r="2.4"/>
<polygon points="636.7,1946.0 764.1,1877.5 689.9,1913.2" fill="url(#g189)" stroke="url(#g189)" stroke-width="1.2"/>
<line x1="764.1" y1="1877.5" x2="636.7" y2="1946.0" stroke="#000" stroke-width="1.30" stroke-linecap="round"/>
<line x1="636.7" y1="1946.0" x2="689.9" y2="1913.2" stroke="#000" stroke-width="1.30" stroke-linecap="round"/>
<circle cx="636.7" cy="1946.0" r="2.4"/>
<circle cx="764.1" cy="1877.5" r="2.4"/>
<circle cx="689.9" cy="1913.2" r="2.4"/>
<polygon points="817.3,1872.7 764.1,1877.5 689.9,1913.2" fill="url(#g190)" stroke="url(#g190)" stroke-width="1.2"/>
<line x1="764.1" y1="1877.5" x2="817.3" y2="1872.7" stroke="#000" stroke-width="1.30" stroke-linecap="round"/>
<circle cx="764.1" cy="1877.5" r="2.4"/>
<circle cx="689.9" cy="1913.2" r="2.4"/>
<polygon points="689.9,1913.2 817.3,1872.7 796.2,1846.3" fill="url(#g191)" stroke="url(#g191)" stroke-width="1.2"/>
<polygon points="923.6,1838.9 817.3,1872.7 796.2,1846.3" fill="url(#g192)" stroke="url(#g192)" stroke-width="1.2"/>
<line x1="689.9" y1="1913.2" x2="796.2" y2="1846.3" stroke="#000" stroke-width="1.30" stroke-linecap="round"/>
<line x1="923.6" y1="1838.9" x2="796.2" y2="1846.3" stroke="#000" stroke-width="1.30" stroke-linecap="round"/>
<circle cx="689.9" cy="1913.2" r="2.4"/>
<circle cx="923.6" cy="1838.9" r="2.4"/>
<circle cx="796.2" cy="1846.3" r="2.4"/>
<polygon points="678.8,1557.3 806.2,1297.1 732.0,1552.7" fill="url(#g193)" stroke="url(#g193)" stroke-width="1.2"/>
<polygon points="859.4,1313.3 806.2,1297.1 732.0,1552.7" fill="url(#g194)" stroke="url(#g194)" stroke-width="1.2"/>
<line x1="806.2" y1="1297.1" x2="678.8" y2="1557.3" stroke="#000" stroke-width="1.30" stroke-linecap="round"/>
<line x1="678.8" y1="1557.3" x2="732.0" y2="1552.7" stroke="#000" stroke-width="1.30" stroke-linecap="round"/>
<line x1="806.2" y1="1297.1" x2="859.4" y2="1313.3" stroke="#000" stroke-width="1.30" stroke-linecap="round"/>
<line x1="859.4" y1="1313.3" x2="732.0" y2="1552.7" stroke="#000" stroke-width="1.30" stroke-linecap="round"/>
<circle cx="806.2" cy="1297.1" r="2.4"/>
<circle cx="678.8" cy="1557.3" r="2.4"/>
<circle cx="859.4" cy="1313.3" r="2.4"/>
<circle cx="732.0" cy="1552.7" r="2.4"/>
<polygon points="732.0,1552.7 859.4,1313.3 785.1,1551.7" fill="url(#g195)" stroke="url(#g195)" stroke-width="1.2"/>
<polygon points="912.5,1329.6 859.4,1313.3 785.1,1551.7" fill="url(#g196)" stroke="url(#g196)" stroke-width="1.2"/>
<line x1="859.4" y1="1313.3" x2="732.0" y2="1552.7" stroke="#000" stroke-width="1.30" stroke-linecap="round"/>
<line x1="732.0" y1="1552.7" x2="785.1" y2="1551.7" stroke="#000" stroke-width="1.30" stroke-linecap="round"/>
<line x1="859.4" y1="1313.3" x2="912.5" y2="1329.6" stroke="#000" stroke-width="1.30" stroke-linecap="round"/>
<line x1="912.5" y1="1329.6" x2="785.1" y2="1551.7" stroke="#000" stroke-width="1.30" stroke-linecap="round"/>
<circle cx="859.4" cy="1313.3" r="2.4"/>
<circle cx="732.0" cy="1552.7" r="2.4"/>
<circle cx="912.5" cy="1329.6" r="2.4"/>
<circle cx="785.1" cy="1551.7" r="2.4"/>
<polygon points="785.1,1551.7 912.5,1329.6 838.3,1551.7" fill="url(#g197)" stroke="url(#g197)" stroke-width="1.2"/>
<polygon points="965.7,1345.9 912.5,1329.6 838.3,1551.7" fill="url(#g198)" stroke="url(#g198)" stroke-width="1.2"/>
<line x1="912.5" y1="1329.6" x2="785.1" y2="1551.7" stroke="#000" stroke-width="1.30" stroke-linecap="round"/>
<line x1="785.1" y1="1551.7" x2="838.3" y2="1551.7" stroke="#000" stroke-width="1.30" stroke-linecap="round"/>
<line x1="912.5" y1="1329.6" x2="965.7" y2="1345.9" stroke="#000" stroke-width="1.30" stroke-linecap="round"/>
<line x1="965.7" y1="1345.9" x2="838.3" y2="1551.7" stroke="#000" stroke-width="1.30" stroke-linecap="round"/>
<circle cx="912.5" cy="1329.6" r="2.4"/>
<circle cx="785.1" cy="1551.7" r="2.4"/>
<circle cx="965.7" cy="1345.9" r="2.4"/>
<circle cx="838.3" cy="1551.7" r="2.4"/>
<polygon points="838.3,1551.7 965.7,1345.9 891.5,1553.0" fill="url(#g199)" stroke="url(#g199)" stroke-width="1.2"/>
<polygon points="1018.9,1362.2 965.7,1345.9 891.5,1553.0" fill="url(#g200)" stroke="url(#g200)" stroke-width="1.2"/>
<line x1="965.7" y1="1345.9" x2="838.3" y2="1551.7" stroke="#000" stroke-width="1.30" stroke-linecap="round"/>
<line x1="838.3" y1="1551.7" x2="891.5" y2="1553.0" stroke="#000" stroke-width="1.30" stroke-linecap="round"/>
<line x1="965.7" y1="1345.9" x2="1018.9" y2="1362.2" stroke="#000" stroke-width="1.30" stroke-linecap="round"/>
<line x1="1018.9" y1="1362.2" x2="891.5" y2="1553.0" stroke="#000" stroke-width="1.30" stroke-linecap="round"/>
<circle cx="965.7" cy="1345.9" r="2.4"/>
<circle cx="838.3" cy="1551.7" r="2.4"/>
<circle cx="1018.9" cy="1362.2" r="2.4"/>
<circle cx="891.5" cy="1553.0" r="2.4"/>
<polygon points="891.5,1553.0 1018.9,1362.2 944.7,1555.3" fill="url(#g201)" stroke="url(#g201)" stroke-width="1.2"/>
<polygon points="1072.1,1378.4 1018.9,1362.2 944.7,1555.3" fill="url(#g202)" stroke="url(#g202)" stroke-width="1.2"/>
<line x1="1018.9" y1="1362.2" x2="891.5" y2="1553.0" stroke="#000" stroke-width="1.30" stroke-linecap="round"/>
<line x1="891.5" y1="1553.0" x2="944.7" y2="1555.3" stroke="#000" stroke-width="1.30" stroke-linecap="round"/>
<line x1="1018.9" y1="1362.2" x2="1072.1" y2="1378.4" stroke="#000" stroke-width="1.30" stroke-linecap="round"/>
<line x1="1072.1" y1="1378.4" x2="944.7" y2="1555.3" stroke="#000" stroke-width="1.30" stroke-linecap="round"/>
<circle cx="1018.9" cy="1362.2" r="2.4"/>
<circle cx="891.5" cy="1553.0" r="2.4"/>
<circle cx="1072.1" cy="1378.4" r="2.4"/>
<circle cx="944.7" cy="1555.3" r="2.4"/>
<polygon points="944.7,1555.3 1072.1,1378.4 1051.0,1563.3" fill="url(#g203)" stroke="url(#g203)" stroke-width="1.2"/>
<polygon points="1178.4,1411.0 1072.1,1378.4 1051.0,1563.3" fill="url(#g204)" stroke="url(#g204)" stroke-width="1.2"/>
<line x1="1072.1" y1="1378.4" x2="944.7" y2="1555.3" stroke="#000" stroke-width="1.30" stroke-linecap="round"/>
<line x1="944.7" y1="1555.3" x2="1051.0" y2="1563.3" stroke="#000" stroke-width="1.30" stroke-linecap="round"/>
<line x1="1072.1" y1="1378.4" x2="1178.4" y2="1411.0" stroke="#000" stroke-width="1.30" stroke-linecap="round"/>
<line x1="1178.4" y1="1411.0" x2="1051.0" y2="1563.3" stroke="#000" stroke-width="1.30" stroke-linecap="round"/>
<circle cx="1072.1" cy="1378.4" r="2.4"/>
<circle cx="944.7" cy="1555.3" r="2.4"/>
<circle cx="1178.4" cy="1411.0" r="2.4"/>
<circle cx="1051.0" cy="1563.3" r="2.4"/>
<polygon points="551.4,1761.0 678.8,1557.3 604.6,1750.7" fill="url(#g205)" stroke="url(#g205)" stroke-width="1.2"/>
<polygon points="732.0,1552.7 678.8,1557.3 604.6,1750.7" fill="url(#g206)" stroke="url(#g206)" stroke-width="1.2"/>
<line x1="678.8" y1="1557.3" x2="551.4" y2="1761.0" stroke="#000" stroke-width="1.30" stroke-linecap="round"/>
<line x1="551.4" y1="1761.0" x2="604.6" y2="1750.7" stroke="#000" stroke-width="1.30" stroke-linecap="round"/>
<line x1="678.8" y1="1557.3" x2="732.0" y2="1552.7" stroke="#000" stroke-width="1.30" stroke-linecap="round"/>
<line x1="732.0" y1="1552.7" x2="604.6" y2="1750.7" stroke="#000" stroke-width="1.30" stroke-linecap="round"/>
<circle cx="678.8" cy="1557.3" r="2.4"/>
<circle cx="551.4" cy="1761.0" r="2.4"/>
<circle cx="732.0" cy="1552.7" r="2.4"/>
<circle cx="604.6" cy="1750.7" r="2.4"/>
<polygon points="604.6,1750.7 732.0,1552.7 657.8,1735.7" fill="url(#g207)" stroke="url(#g207)" stroke-width="1.2"/>
<polygon points="785.1,1551.7 732.0,1552.7 657.8,1735.7" fill="url(#g208)" stroke="url(#g208)" stroke-width="1.2"/>
<line x1="732.0" y1="1552.7" x2="604.6" y2="1750.7" stroke="#000" stroke-width="1.30" stroke-linecap="round"/>
<line x1="604.6" y1="1750.7" x2="657.8" y2="1735.7" stroke="#000" stroke-width="1.30" stroke-linecap="round"/>
<line x1="732.0" y1="1552.7" x2="785.1" y2="1551.7" stroke="#000" stroke-width="1.30" stroke-linecap="round"/>
<line x1="785.1" y1="1551.7" x2="657.8" y2="1735.7" stroke="#000" stroke-width="1.30" stroke-linecap="round"/>
<circle cx="732.0" cy="1552.7" r="2.4"/>
<circle cx="604.6" cy="1750.7" r="2.4"/>
<circle cx="785.1" cy="1551.7" r="2.4"/>
<circle cx="657.8" cy="1735.7" r="2.4"/>
<polygon points="657.8,1735.7 785.1,1551.7 710.9,1716.5" fill="url(#g209)" stroke="url(#g209)" stroke-width="1.2"/>
<polygon points="838.3,1551.7 785.1,1551.7 710.9,1716.5" fill="url(#g210)" stroke="url(#g210)" stroke-width="1.2"/>
<line x1="785.1" y1="1551.7" x2="657.8" y2="1735.7" stroke="#000" stroke-width="1.30" stroke-linecap="round"/>
<line x1="657.8" y1="1735.7" x2="710.9" y2="1716.5" stroke="#000" stroke-width="1.30" stroke-linecap="round"/>
<line x1="785.1" y1="1551.7" x2="838.3" y2="1551.7" stroke="#000" stroke-width="1.30" stroke-linecap="round"/>
<line x1="838.3" y1="1551.7" x2="710.9" y2="1716.5" stroke="#000" stroke-width="1.30" stroke-linecap="round"/>
<circle cx="785.1" cy="1551.7" r="2.4"/>
<circle cx="657.8" cy="1735.7" r="2.4"/>
<circle cx="838.3" cy="1551.7" r="2.4"/>
<circle cx="710.9" cy="1716.5" r="2.4"/>
<polygon points="710.9,1716.5 838.3,1551.7 764.1,1695.4" fill="url(#g211)" stroke="url(#g211)" stroke-width="1.2"/>
<polygon points="891.5,1553.0 838.3,1551.7 764.1,1695.4" fill="url(#g212)" stroke="url(#g212)" stroke-width="1.2"/>
<line x1="838.3" y1="1551.7" x2="710.9" y2="1716.5" stroke="#000" stroke-width="1.30" stroke-linecap="round"/>
<line x1="710.9" y1="1716.5" x2="764.1" y2="1695.4" stroke="#000" stroke-width="1.30" stroke-linecap="round"/>
<line x1="838.3" y1="1551.7" x2="891.5" y2="1553.0" stroke="#000" stroke-width="1.30" stroke-linecap="round"/>
<line x1="891.5" y1="1553.0" x2="764.1" y2="1695.4" stroke="#000" stroke-width="1.30" stroke-linecap="round"/>
<circle cx="838.3" cy="1551.7" r="2.4"/>
<circle cx="710.9" cy="1716.5" r="2.4"/>
<circle cx="891.5" cy="1553.0" r="2.4"/>
<circle cx="764.1" cy="1695.4" r="2.4"/>
<polygon points="764.1,1695.4 891.5,1553.0 817.3,1677.2" fill="url(#g213)" stroke="url(#g213)" stroke-width="1.2"/>
<polygon points="944.7,1555.3 891.5,1553.0 817.3,1677.2" fill="url(#g214)" stroke="url(#g214)" stroke-width="1.2"/>
<line x1="891.5" y1="1553.0" x2="764.1" y2="1695.4" stroke="#000" stroke-width="1.30" stroke-linecap="round"/>
<line x1="764.1" y1="1695.4" x2="817.3" y2="1677.2" stroke="#000" stroke-width="1.30" stroke-linecap="round"/>
<line x1="891.5" y1="1553.0" x2="944.7" y2="1555.3" stroke="#000" stroke-width="1.30" stroke-linecap="round"/>
<line x1="944.7" y1="1555.3" x2="817.3" y2="1677.2" stroke="#000" stroke-width="1.30" stroke-linecap="round"/>
<circle cx="891.5" cy="1553.0" r="2.4"/>
<circle cx="764.1" cy="1695.4" r="2.4"/>
<circle cx="944.7" cy="1555.3" r="2.4"/>
<polygon points="817.3,1677.2 944.7,1555.3 923.6,1623.3" fill="url(#g215)" stroke="url(#g215)" stroke-width="1.2"/>
<polygon points="1051.0,1563.3 944.7,1555.3 923.6,1623.3" fill="url(#g216)" stroke="url(#g216)" stroke-width="1.2"/>
<line x1="944.7" y1="1555.3" x2="817.3" y2="1677.2" stroke="#000" stroke-width="1.30" stroke-linecap="round"/>
<line x1="944.7" y1="1555.3" x2="1051.0" y2="1563.3" stroke="#000" stroke-width="1.30" stroke-linecap="round"/>
<line x1="1051.0" y1="1563.3" x2="923.6" y2="1623.3" stroke="#000" stroke-width="1.30" stroke-linecap="round"/>
<circle cx="944.7" cy="1555.3" r="2.4"/>
<circle cx="1051.0" cy="1563.3" r="2.4"/>
<circle cx="923.6" cy="1623.3" r="2.4"/>
<polygon points="551.4,1761.0 424.0,1909.6 604.6,1750.7" fill="url(#g217)" stroke="url(#g217)" stroke-width="1.2"/>
<polygon points="477.2,1899.5 424.0,1909.6 604.6,1750.7" fill="url(#g218)" stroke="url(#g218)" stroke-width="1.2"/>
<line x1="551.4" y1="1761.0" x2="424.0" y2="1909.6" stroke="#000" stroke-width="1.30" stroke-linecap="round"/>
<line x1="551.4" y1="1761.0" x2="604.6" y2="1750.7" stroke="#000" stroke-width="1.30" stroke-linecap="round"/>
<line x1="424.0" y1="1909.6" x2="477.2" y2="1899.5" stroke="#000" stroke-width="1.30" stroke-linecap="round"/>
<line x1="604.6" y1="1750.7" x2="477.2" y2="1899.5" stroke="#000" stroke-width="1.30" stroke-linecap="round"/>
<circle cx="551.4" cy="1761.0" r="2.4"/>
<circle cx="424.0" cy="1909.6" r="2.4"/>
<circle cx="604.6" cy="1750.7" r="2.4"/>
<circle cx="477.2" cy="1899.5" r="2.4"/>
<polygon points="477.2,1899.5 604.6,1750.7 530.3,1876.9" fill="url(#g219)" stroke="url(#g219)" stroke-width="1.2"/>
<polygon points="657.8,1735.7 604.6,1750.7 530.3,1876.9" fill="url(#g220)" stroke="url(#g220)" stroke-width="1.2"/>
<line x1="604.6" y1="1750.7" x2="477.2" y2="1899.5" stroke="#000" stroke-width="1.30" stroke-linecap="round"/>
<line x1="477.2" y1="1899.5" x2="530.3" y2="1876.9" stroke="#000" stroke-width="1.30" stroke-linecap="round"/>
<line x1="604.6" y1="1750.7" x2="657.8" y2="1735.7" stroke="#000" stroke-width="1.30" stroke-linecap="round"/>
<line x1="657.8" y1="1735.7" x2="530.3" y2="1876.9" stroke="#000" stroke-width="1.30" stroke-linecap="round"/>
<circle cx="604.6" cy="1750.7" r="2.4"/>
<circle cx="477.2" cy="1899.5" r="2.4"/>
<circle cx="657.8" cy="1735.7" r="2.4"/>
<circle cx="530.3" cy="1876.9" r="2.4"/>
<polygon points="530.3,1876.9 657.8,1735.7 583.5,1843.0" fill="url(#g221)" stroke="url(#g221)" stroke-width="1.2"/>
<polygon points="710.9,1716.5 657.8,1735.7 583.5,1843.0" fill="url(#g222)" stroke="url(#g222)" stroke-width="1.2"/>
<line x1="657.8" y1="1735.7" x2="530.3" y2="1876.9" stroke="#000" stroke-width="1.30" stroke-linecap="round"/>
<line x1="530.3" y1="1876.9" x2="583.5" y2="1843.0" stroke="#000" stroke-width="1.30" stroke-linecap="round"/>
<line x1="657.8" y1="1735.7" x2="710.9" y2="1716.5" stroke="#000" stroke-width="1.30" stroke-linecap="round"/>
<line x1="710.9" y1="1716.5" x2="583.5" y2="1843.0" stroke="#000" stroke-width="1.30" stroke-linecap="round"/>
<circle cx="657.8" cy="1735.7" r="2.4"/>
<circle cx="530.3" cy="1876.9" r="2.4"/>
<circle cx="710.9" cy="1716.5" r="2.4"/>
<circle cx="583.5" cy="1843.0" r="2.4"/>
<polygon points="583.5,1843.0 710.9,1716.5 636.7,1797.8" fill="url(#g223)" stroke="url(#g223)" stroke-width="1.2"/>
<polygon points="764.1,1695.4 710.9,1716.5 636.7,1797.8" fill="url(#g224)" stroke="url(#g224)" stroke-width="1.2"/>
<line x1="710.9" y1="1716.5" x2="583.5" y2="1843.0" stroke="#000" stroke-width="1.30" stroke-linecap="round"/>
<line x1="583.5" y1="1843.0" x2="636.7" y2="1797.8" stroke="#000" stroke-width="1.30" stroke-linecap="round"/>
<line x1="710.9" y1="1716.5" x2="764.1" y2="1695.4" stroke="#000" stroke-width="1.30" stroke-linecap="round"/>
<line x1="764.1" y1="1695.4" x2="636.7" y2="1797.8" stroke="#000" stroke-width="1.30" stroke-linecap="round"/>
<circle cx="710.9" cy="1716.5" r="2.4"/>
<circle cx="583.5" cy="1843.0" r="2.4"/>
<circle cx="764.1" cy="1695.4" r="2.4"/>
<circle cx="636.7" cy="1797.8" r="2.4"/>
<polygon points="636.7,1797.8 764.1,1695.4 689.9,1742.3" fill="url(#g225)" stroke="url(#g225)" stroke-width="1.2"/>
<line x1="764.1" y1="1695.4" x2="636.7" y2="1797.8" stroke="#000" stroke-width="1.30" stroke-linecap="round"/>
<line x1="636.7" y1="1797.8" x2="689.9" y2="1742.3" stroke="#000" stroke-width="1.30" stroke-linecap="round"/>
<circle cx="636.7" cy="1797.8" r="2.4"/>
<circle cx="764.1" cy="1695.4" r="2.4"/>
<circle cx="689.9" cy="1742.3" r="2.4"/>
<polygon points="817.3,1677.2 764.1,1695.4 689.9,1742.3" fill="url(#g226)" stroke="url(#g226)" stroke-width="1.2"/>
<line x1="764.1" y1="1695.4" x2="817.3" y2="1677.2" stroke="#000" stroke-width="1.30" stroke-linecap="round"/>
<circle cx="764.1" cy="1695.4" r="2.4"/>
<circle cx="689.9" cy="1742.3" r="2.4"/>
<polygon points="689.9,1742.3 817.3,1677.2 796.2,1636.3" fill="url(#g227)" stroke="url(#g227)" stroke-width="1.2"/>
<polygon points="923.6,1623.3 817.3,1677.2 796.2,1636.3" fill="url(#g228)" stroke="url(#g228)" stroke-width="1.2"/>
<line x1="689.9" y1="1742.3" x2="796.2" y2="1636.3" stroke="#000" stroke-width="1.30" stroke-linecap="round"/>
<line x1="923.6" y1="1623.3" x2="796.2" y2="1636.3" stroke="#000" stroke-width="1.30" stroke-linecap="round"/>
<circle cx="689.9" cy="1742.3" r="2.4"/>
<circle cx="923.6" cy="1623.3" r="2.4"/>
<circle cx="796.2" cy="1636.3" r="2.4"/>
<polygon points="424.0,1909.6 296.6,2018.4 477.2,1899.5" fill="url(#g229)" stroke="url(#g229)" stroke-width="1.2"/>
<polygon points="349.8,2010.0 296.6,2018.4 477.2,1899.5" fill="url(#g230)" stroke="url(#g230)" stroke-width="1.2"/>
<line x1="424.0" y1="1909.6" x2="296.6" y2="2018.4" stroke="#000" stroke-width="1.30" stroke-linecap="round"/>
<line x1="424.0" y1="1909.6" x2="477.2" y2="1899.5" stroke="#000" stroke-width="1.30" stroke-linecap="round"/>
<line x1="296.6" y1="2018.4" x2="349.8" y2="2010.0" stroke="#000" stroke-width="1.30" stroke-linecap="round"/>
<line x1="477.2" y1="1899.5" x2="349.8" y2="2010.0" stroke="#000" stroke-width="1.30" stroke-linecap="round"/>
<circle cx="424.0" cy="1909.6" r="2.4"/>
<circle cx="296.6" cy="2018.4" r="2.4"/>
<circle cx="477.2" cy="1899.5" r="2.4"/>
<circle cx="349.8" cy="2010.0" r="2.4"/>
<polygon points="349.8,2010.0 477.2,1899.5 402.9,1985.1" fill="url(#g231)" stroke="url(#g231)" stroke-width="1.2"/>
<polygon points="530.3,1876.9 477.2,1899.5 402.9,1985.1" fill="url(#g232)" stroke="url(#g232)" stroke-width="1.2"/>
<line x1="477.2" y1="1899.5" x2="349.8" y2="2010.0" stroke="#000" stroke-width="1.30" stroke-linecap="round"/>
<line x1="349.8" y1="2010.0" x2="402.9" y2="1985.1" stroke="#000" stroke-width="1.30" stroke-linecap="round"/>
<line x1="477.2" y1="1899.5" x2="530.3" y2="1876.9" stroke="#000" stroke-width="1.30" stroke-linecap="round"/>
<line x1="530.3" y1="1876.9" x2="402.9" y2="1985.1" stroke="#000" stroke-width="1.30" stroke-linecap="round"/>
<circle cx="477.2" cy="1899.5" r="2.4"/>
<circle cx="349.8" cy="2010.0" r="2.4"/>
<circle cx="530.3" cy="1876.9" r="2.4"/>
<circle cx="402.9" cy="1985.1" r="2.4"/>
<polygon points="402.9,1985.1 530.3,1876.9 456.1,1937.4" fill="url(#g233)" stroke="url(#g233)" stroke-width="1.2"/>
<line x1="530.3" y1="1876.9" x2="402.9" y2="1985.1" stroke="#000" stroke-width="1.30" stroke-linecap="round"/>
<line x1="402.9" y1="1985.1" x2="456.1" y2="1937.4" stroke="#000" stroke-width="1.30" stroke-linecap="round"/>
<circle cx="402.9" cy="1985.1" r="2.4"/>
<circle cx="530.3" cy="1876.9" r="2.4"/>
<circle cx="456.1" cy="1937.4" r="2.4"/>
<polygon points="583.5,1843.0 530.3,1876.9 456.1,1937.4" fill="url(#g234)" stroke="url(#g234)" stroke-width="1.2"/>
<line x1="530.3" y1="1876.9" x2="583.5" y2="1843.0" stroke="#000" stroke-width="1.30" stroke-linecap="round"/>
<line x1="583.5" y1="1843.0" x2="456.1" y2="1937.4" stroke="#000" stroke-width="1.30" stroke-linecap="round"/>
<circle cx="583.5" cy="1843.0" r="2.4"/>
<circle cx="530.3" cy="1876.9" r="2.4"/>
<circle cx="456.1" cy="1937.4" r="2.4"/>
<polygon points="456.1,1937.4 583.5,1843.0 509.3,1869.7" fill="url(#g235)" stroke="url(#g235)" stroke-width="1.2"/>
<polygon points="636.7,1797.8 583.5,1843.0 509.3,1869.7" fill="url(#g236)" stroke="url(#g236)" stroke-width="1.2"/>
<line x1="583.5" y1="1843.0" x2="456.1" y2="1937.4" stroke="#000" stroke-width="1.30" stroke-linecap="round"/>
<line x1="456.1" y1="1937.4" x2="509.3" y2="1869.7" stroke="#000" stroke-width="1.30" stroke-linecap="round"/>
<line x1="583.5" y1="1843.0" x2="636.7" y2="1797.8" stroke="#000" stroke-width="1.30" stroke-linecap="round"/>
<line x1="636.7" y1="1797.8" x2="509.3" y2="1869.7" stroke="#000" stroke-width="1.30" stroke-linecap="round"/>
<circle cx="583.5" cy="1843.0" r="2.4"/>
<circle cx="456.1" cy="1937.4" r="2.4"/>
<circle cx="636.7" cy="1797.8" r="2.4"/>
<circle cx="509.3" cy="1869.7" r="2.4"/>
<polygon points="509.3,1869.7 636.7,1797.8 562.5,1794.4" fill="url(#g237)" stroke="url(#g237)" stroke-width="1.2"/>
<polygon points="689.9,1742.3 636.7,1797.8 562.5,1794.4" fill="url(#g238)" stroke="url(#g238)" stroke-width="1.2"/>
<line x1="636.7" y1="1797.8" x2="509.3" y2="1869.7" stroke="#000" stroke-width="1.30" stroke-linecap="round"/>
<line x1="509.3" y1="1869.7" x2="562.5" y2="1794.4" stroke="#000" stroke-width="1.30" stroke-linecap="round"/>
<line x1="636.7" y1="1797.8" x2="689.9" y2="1742.3" stroke="#000" stroke-width="1.30" stroke-linecap="round"/>
<line x1="689.9" y1="1742.3" x2="562.5" y2="1794.4" stroke="#000" stroke-width="1.30" stroke-linecap="round"/>
<circle cx="636.7" cy="1797.8" r="2.4"/>
<circle cx="509.3" cy="1869.7" r="2.4"/>
<circle cx="689.9" cy="1742.3" r="2.4"/>
<circle cx="562.5" cy="1794.4" r="2.4"/>
<polygon points="562.5,1794.4 689.9,1742.3 668.8,1636.7" fill="url(#g239)" stroke="url(#g239)" stroke-width="1.2"/>
<polygon points="796.2,1636.3 689.9,1742.3 668.8,1636.7" fill="url(#g240)" stroke="url(#g240)" stroke-width="1.2"/>
<line x1="689.9" y1="1742.3" x2="562.5" y2="1794.4" stroke="#000" stroke-width="1.30" stroke-linecap="round"/>
<line x1="562.5" y1="1794.4" x2="668.8" y2="1636.7" stroke="#000" stroke-width="1.30" stroke-linecap="round"/>
<line x1="689.9" y1="1742.3" x2="796.2" y2="1636.3" stroke="#000" stroke-width="1.30" stroke-linecap="round"/>
<line x1="796.2" y1="1636.3" x2="668.8" y2="1636.7" stroke="#000" stroke-width="1.30" stroke-linecap="round"/>
<circle cx="689.9" cy="1742.3" r="2.4"/>
<circle cx="562.5" cy="1794.4" r="2.4"/>
<circle cx="796.2" cy="1636.3" r="2.4"/>
<circle cx="668.8" cy="1636.7" r="2.4"/>
<polyline points="178.6,148.6 178.6,884.3 542.1,996.8 1174.1,931.8" fill="none" stroke="#262626" stroke-width="1.4"/>
<line x1="178.6" y1="884.3" x2="160.4" y2="878.7" stroke="#262626" stroke-width="1.4"/>
<text x="150.1" y="889.3" text-anchor="end" class="tk">0.3</text>
<line x1="178.6" y1="779.2" x2="160.4" y2="773.6" stroke="#262626" stroke-width="1.4"/>
<text x="150.1" y="784.2" text-anchor="end" class="tk">0.4</text>
<line x1="178.6" y1="674.1" x2="160.4" y2="668.5" stroke="#262626" stroke-width="1.4"/>
<text x="150.1" y="679.1" text-anchor="end" class="tk">0.5</text>
<line x1="178.6" y1="569.0" x2="160.4" y2="563.4" stroke="#262626" stroke-width="1.4"/>
<text x="150.1" y="574.0" text-anchor="end" class="tk">0.6</text>
<line x1="178.6" y1="463.9" x2="160.4" y2="458.3" stroke="#262626" stroke-width="1.4"/>
<text x="150.1" y="468.9" text-anchor="end" class="tk">0.7</text>
<line x1="178.6" y1="358.8" x2="160.4" y2="353.2" stroke="#262626" stroke-width="1.4"/>
<text x="150.1" y="363.8" text-anchor="end" class="tk">0.8</text>
<line x1="178.6" y1="253.7" x2="160.4" y2="248.1" stroke="#262626" stroke-width="1.4"/>
<text x="150.1" y="258.7" text-anchor="end" class="tk">0.9</text>
<line x1="178.6" y1="148.6" x2="160.4" y2="143.0" stroke="#262626" stroke-width="1.4"/>
<text x="150.1" y="153.6" text-anchor="end" class="tk">1</text>
<line x1="230.5" y1="900.4" x2="211.6" y2="902.3" stroke="#262626" stroke-width="1.4"/>
<text x="200.1" y="936.5" text-anchor="end" class="tk">0.5</text>
<line x1="334.4" y1="932.5" x2="315.5" y2="934.5" stroke="#262626" stroke-width="1.4"/>
<text x="304.0" y="968.7" text-anchor="end" class="tk">1</text>
<line x1="438.2" y1="964.7" x2="419.3" y2="966.6" stroke="#262626" stroke-width="1.4"/>
<text x="407.8" y="1000.8" text-anchor="end" class="tk">1.5</text>
<line x1="542.1" y1="996.8" x2="523.2" y2="998.8" stroke="#262626" stroke-width="1.4"/>
<text x="511.7" y="1033.0" text-anchor="end" class="tk">2</text>
<line x1="1174.1" y1="931.8" x2="1192.2" y2="937.4" stroke="#262626" stroke-width="1.4"/>
<text x="1210.6" y="973.8" text-anchor="middle" class="tk">0</text>
<line x1="1047.7" y1="944.8" x2="1065.8" y2="950.4" stroke="#262626" stroke-width="1.4"/>
<text x="1084.7" y="986.5" text-anchor="middle" class="tk">1</text>
<line x1="921.3" y1="957.8" x2="939.4" y2="963.4" stroke="#262626" stroke-width="1.4"/>
<text x="958.8" y="999.2" text-anchor="middle" class="tk">2</text>
<line x1="794.9" y1="970.8" x2="813.0" y2="976.4" stroke="#262626" stroke-width="1.4"/>
<text x="832.9" y="1011.9" text-anchor="middle" class="tk">3</text>
<line x1="668.5" y1="983.8" x2="686.6" y2="989.4" stroke="#262626" stroke-width="1.4"/>
<text x="707.0" y="1024.6" text-anchor="middle" class="tk">4</text>
<polyline points="169.2,1364.5 169.2,2111.7 541.4,2225.6 1178.4,2159.6" fill="none" stroke="#262626" stroke-width="1.4"/>
<line x1="169.2" y1="2111.7" x2="151.0" y2="2106.1" stroke="#262626" stroke-width="1.4"/>
<text x="140.7" y="2115.2" text-anchor="end" class="tk">0.2</text>
<line x1="169.2" y1="2018.3" x2="151.0" y2="2012.7" stroke="#262626" stroke-width="1.4"/>
<text x="140.7" y="2021.8" text-anchor="end" class="tk">0.3</text>
<line x1="169.2" y1="1924.9" x2="151.0" y2="1919.3" stroke="#262626" stroke-width="1.4"/>
<text x="140.7" y="1928.4" text-anchor="end" class="tk">0.4</text>
<line x1="169.2" y1="1831.5" x2="151.0" y2="1825.9" stroke="#262626" stroke-width="1.4"/>
<text x="140.7" y="1835.0" text-anchor="end" class="tk">0.5</text>
<line x1="169.2" y1="1738.1" x2="151.0" y2="1732.5" stroke="#262626" stroke-width="1.4"/>
<text x="140.7" y="1741.6" text-anchor="end" class="tk">0.6</text>
<line x1="169.2" y1="1644.7" x2="151.0" y2="1639.1" stroke="#262626" stroke-width="1.4"/>
<text x="140.7" y="1648.2" text-anchor="end" class="tk">0.7</text>
<line x1="169.2" y1="1551.3" x2="151.0" y2="1545.7" stroke="#262626" stroke-width="1.4"/>
<text x="140.7" y="1554.8" text-anchor="end" class="tk">0.8</text>
<line x1="169.2" y1="1457.9" x2="151.0" y2="1452.3" stroke="#262626" stroke-width="1.4"/>
<text x="140.7" y="1461.4" text-anchor="end" class="tk">0.9</text>
<line x1="169.2" y1="1364.5" x2="151.0" y2="1358.9" stroke="#262626" stroke-width="1.4"/>
<text x="140.7" y="1368.0" text-anchor="end" class="tk">1</text>
<line x1="222.4" y1="2128.0" x2="203.5" y2="2129.9" stroke="#262626" stroke-width="1.4"/>
<text x="192.0" y="2164.1" text-anchor="end" class="tk">0.5</text>
<line x1="328.7" y1="2160.5" x2="309.8" y2="2162.5" stroke="#262626" stroke-width="1.4"/>
<text x="298.3" y="2196.7" text-anchor="end" class="tk">1</text>
<line x1="435.1" y1="2193.1" x2="416.2" y2="2195.0" stroke="#262626" stroke-width="1.4"/>
<text x="404.7" y="2229.2" text-anchor="end" class="tk">1.5</text>
<line x1="541.4" y1="2225.6" x2="522.5" y2="2227.6" stroke="#262626" stroke-width="1.4"/>
<text x="511.0" y="2261.8" text-anchor="end" class="tk">2</text>
<line x1="1178.4" y1="2159.6" x2="1196.6" y2="2165.2" stroke="#262626" stroke-width="1.4"/>
<text x="1217.0" y="2202.4" text-anchor="middle" class="tk">0</text>
<line x1="1051.0" y1="2172.8" x2="1069.2" y2="2178.4" stroke="#262626" stroke-width="1.4"/>
<text x="1089.6" y="2215.6" text-anchor="middle" class="tk">1</text>
<line x1="923.6" y1="2186.0" x2="941.8" y2="2191.6" stroke="#262626" stroke-width="1.4"/>
<text x="962.2" y="2228.8" text-anchor="middle" class="tk">2</text>
<line x1="796.2" y1="2199.2" x2="814.4" y2="2204.8" stroke="#262626" stroke-width="1.4"/>
<text x="834.8" y="2242.0" text-anchor="middle" class="tk">3</text>
<line x1="668.8" y1="2212.4" x2="687.0" y2="2218.0" stroke="#262626" stroke-width="1.4"/>
<text x="707.4" y="2255.2" text-anchor="middle" class="tk">4</text>
<rect x="1256.6" y="84.4" width="49.2" height="912.6" fill="url(#cba)" stroke="#262626" stroke-width="1.4"/>
<text x="1317.8" y="1008.8" class="cb">0</text>
<line x1="1296.4" y1="905.7" x2="1305.8" y2="905.7" stroke="#262626" stroke-width="1.4"/>
<text x="1317.8" y="917.5" class="cb">0.1</text>
<line x1="1296.4" y1="814.5" x2="1305.8" y2="814.5" stroke="#262626" stroke-width="1.4"/>
<text x="1317.8" y="826.3" class="cb">0.2</text>
<line x1="1296.4" y1="723.2" x2="1305.8" y2="723.2" stroke="#262626" stroke-width="1.4"/>
<text x="1317.8" y="735.0" class="cb">0.3</text>
<line x1="1296.4" y1="632.0" x2="1305.8" y2="632.0" stroke="#262626" stroke-width="1.4"/>
<text x="1317.8" y="643.8" class="cb">0.4</text>
<line x1="1296.4" y1="540.7" x2="1305.8" y2="540.7" stroke="#262626" stroke-width="1.4"/>
<text x="1317.8" y="552.5" class="cb">0.5</text>
<line x1="1296.4" y1="449.4" x2="1305.8" y2="449.4" stroke="#262626" stroke-width="1.4"/>
<text x="1317.8" y="461.2" class="cb">0.6</text>
<line x1="1296.4" y1="358.2" x2="1305.8" y2="358.2" stroke="#262626" stroke-width="1.4"/>
<text x="1317.8" y="370.0" class="cb">0.7</text>
<line x1="1296.4" y1="266.9" x2="1305.8" y2="266.9" stroke="#262626" stroke-width="1.4"/>
<text x="1317.8" y="278.7" class="cb">0.8</text>
<line x1="1296.4" y1="175.7" x2="1305.8" y2="175.7" stroke="#262626" stroke-width="1.4"/>
<text x="1317.8" y="187.5" class="cb">0.9</text>
<text x="1317.8" y="96.2" class="cb">1</text>
<rect x="1264.0" y="1298.0" width="50.0" height="928.6" fill="url(#cbb)" stroke="#262626" stroke-width="1.4"/>
<text x="1326.0" y="2238.4" class="cb">0</text>
<line x1="1304.6" y1="2133.7" x2="1314.0" y2="2133.7" stroke="#262626" stroke-width="1.4"/>
<text x="1326.0" y="2145.5" class="cb">0.1</text>
<line x1="1304.6" y1="2040.9" x2="1314.0" y2="2040.9" stroke="#262626" stroke-width="1.4"/>
<text x="1326.0" y="2052.7" class="cb">0.2</text>
<line x1="1304.6" y1="1948.0" x2="1314.0" y2="1948.0" stroke="#262626" stroke-width="1.4"/>
<text x="1326.0" y="1959.8" class="cb">0.3</text>
<line x1="1304.6" y1="1855.2" x2="1314.0" y2="1855.2" stroke="#262626" stroke-width="1.4"/>
<text x="1326.0" y="1867.0" class="cb">0.4</text>
<line x1="1304.6" y1="1762.3" x2="1314.0" y2="1762.3" stroke="#262626" stroke-width="1.4"/>
<text x="1326.0" y="1774.1" class="cb">0.5</text>
<line x1="1304.6" y1="1669.4" x2="1314.0" y2="1669.4" stroke="#262626" stroke-width="1.4"/>
<text x="1326.0" y="1681.2" class="cb">0.6</text>
<line x1="1304.6" y1="1576.6" x2="1314.0" y2="1576.6" stroke="#262626" stroke-width="1.4"/>
<text x="1326.0" y="1588.4" class="cb">0.7</text>
<line x1="1304.6" y1="1483.7" x2="1314.0" y2="1483.7" stroke="#262626" stroke-width="1.4"/>
<text x="1326.0" y="1495.5" class="cb">0.8</text>
<line x1="1304.6" y1="1390.9" x2="1314.0" y2="1390.9" stroke="#262626" stroke-width="1.4"/>
<text x="1326.0" y="1402.7" class="cb">0.9</text>
<text x="1326.0" y="1309.8" class="cb">1</text>
<text x="220.0" y="1064.7" font-size="43" font-style="italic" font-family="'Liberation Serif',serif" fill="#262626">h</text>
<text x="245.3" y="1070.7" font-size="30" font-style="italic" font-family="'Liberation Serif',serif" fill="#262626">i</text>
<text x="260.0" y="1073.4" font-size="62"  font-family="'Liberation Serif',serif" fill="#262626">/</text>
<text x="279.3" y="1064.7" font-size="43" font-style="italic" font-family="'Liberation Serif',serif" fill="#262626">h</text>
<text x="303.3" y="1070.7" font-size="30" font-style="italic" font-family="'Liberation Serif',serif" fill="#262626">i</text>
<text x="313.5" y="1077.7" font-size="42"  font-family="'Liberation Serif',serif" fill="#262626">+</text>
<text x="336.3" y="1070.0" font-size="30"  font-family="'Liberation Serif',serif" fill="#262626">1</text>
<text x="215.3" y="2294.7" font-size="43" font-style="italic" font-family="'Liberation Serif',serif" fill="#262626">h</text>
<text x="240.6" y="2300.7" font-size="30" font-style="italic" font-family="'Liberation Serif',serif" fill="#262626">i</text>
<text x="255.3" y="2303.4" font-size="62"  font-family="'Liberation Serif',serif" fill="#262626">/</text>
<text x="274.6" y="2294.7" font-size="43" font-style="italic" font-family="'Liberation Serif',serif" fill="#262626">h</text>
<text x="298.6" y="2300.7" font-size="30" font-style="italic" font-family="'Liberation Serif',serif" fill="#262626">i</text>
<text x="308.8" y="2307.7" font-size="42"  font-family="'Liberation Serif',serif" fill="#262626">+</text>
<text x="331.6" y="2300.0" font-size="30"  font-family="'Liberation Serif',serif" fill="#262626">1</text>
<text x="772" y="1075.3" font-size="43" font-style="italic" font-family="'Liberation Serif',serif" fill="#262626">b</text>
<text x="772" y="2305.3" font-size="43" font-style="italic" font-family="'Liberation Serif',serif" fill="#262626">b</text>
<text transform="translate(31.6,501.7) scale(1.5,1)" font-size="42" font-style="italic" stroke="#262626" stroke-width=".8" font-family="'Liberation Serif',serif" fill="#262626">m</text>
<text transform="translate(29.4,482.4) scale(1.455,0.5)" font-size="60" font-family="'Liberation Serif',serif" fill="#262626">~</text>
<text transform="translate(13.6,1722.9) scale(1.19,1)" font-size="47.5" font-weight="bold" font-family="'Liberation Serif',serif" fill="#262626">Δ</text>
<text transform="translate(54.3,1722.9) scale(1.22,1)" font-size="45.8" font-style="italic" font-weight="bold" font-family="'Liberation Serif',serif" fill="#262626">P</text>
<text transform="translate(17,1692.4) scale(2.115,0.5)" font-size="60" font-family="'Liberation Serif',serif" fill="#262626">~</text>
<text x="828.7" y="1191.3" font-size="54.5" text-anchor="middle" fill="#000" font-family="'Liberation Serif',serif">(a)</text>
<text x="828.8" y="2411.7" font-size="54.5" text-anchor="middle" fill="#000" font-family="'Liberation Serif',serif">(b)</text>
</svg>
</body></html>
